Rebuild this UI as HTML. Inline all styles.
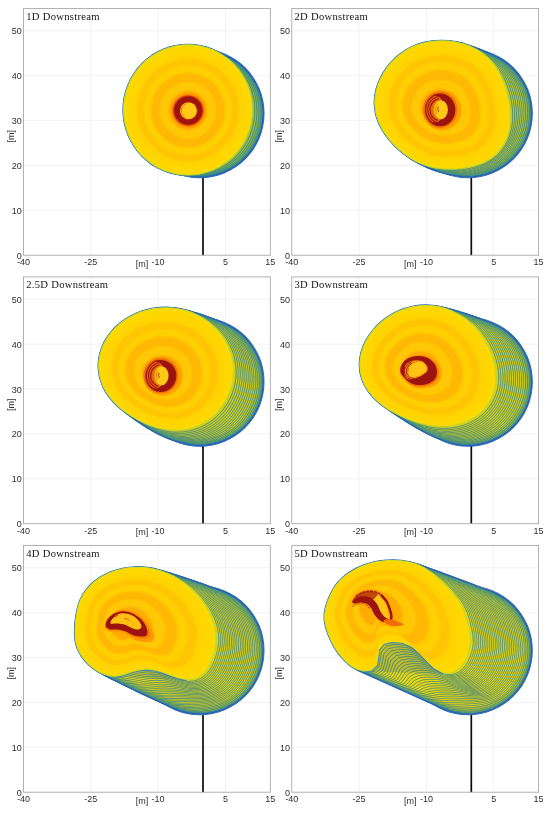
<!DOCTYPE html>
<html lang="en"><head><meta charset="utf-8"><title>Wake cross-sections downstream</title>
<style>html,body{margin:0;padding:0;background:#fff}svg{display:block}</style></head>
<body>
<svg width="550" height="813" viewBox="0 0 550 813">
<rect width="550" height="813" fill="#fff"/>
<g transform="translate(23.5 8.4)">
<path d="M67.3 0V246.8M134.6 0V246.8M201.9 0V246.8M0 201.9H246.8M0 157.1H246.8M0 112.2H246.8M0 67.3H246.8M0 22.4H246.8" stroke="#efefef" stroke-width="0.8" fill="none"/>
<path d="M179.5 246.8V169" stroke="#0a0a0a" stroke-width="1.7" fill="none"/>
<defs><path id="hp0" d="M99.5 101.5l0.3-6.4 0.9-6.3 1.6-6.2 2.1-6.1 2.7-5.8 3.3-5.5 3.7-5.2 4.3-4.8 4.7-4.3 5.1-3.9 5.5-3.3 5.7-2.7 6.1-2.2 6.2-1.6 6.3-1 6.4-0.3 6.4 0.3 6.3 1 6.2 1.6 6.1 2.2 16.7 8 5.4 3.2 5 3.7 4.6 4.2 4.2 4.6 3.7 5 3.2 5.4 2.7 5.6 2.1 5.9 1.5 6 0.9 6.2 0.3 6.2-0.3 6.2-0.9 6.2-1.5 6-2.1 5.9-2.7 5.6-3.2 5.4-3.7 5-4.2 4.6-4.6 4.2-5 3.7-5.4 3.2-5.6 2.7-5.9 2.1-6 1.5-6.2 0.9-6.2 0.3-6.2-0.3-2.4-0.3-2.4-0.3-7.2-0.8-6.3-1-6.2-1.6-6.1-2.2-5.7-2.7-5.5-3.3-5.1-3.9-4.7-4.3-4.3-4.8-3.7-5.2-3.3-5.5-2.7-5.8-2.1-6.1-1.6-6.2-0.9-6.3z"/><clipPath id="h0"><use href="#hp0"/></clipPath></defs>
<use href="#hp0" fill="#a2c03a"/>
<path d="M239.7 105l-0.3 6.2-0.9 6.2-1.5 6-2.1 5.9-2.7 5.6-3.2 5.4-3.7 5-4.2 4.6-4.6 4.2-5 3.7-5.4 3.2-5.6 2.7-5.9 2.1-6 1.5-6.2 0.9-6.2 0.3-6.2-0.3-6.2-0.9-6-1.5-5.9-2.1-5.6-2.7-5.4-3.2-5-3.7-4.6-4.2-4.2-4.6-3.7-5-3.2-5.4-2.7-5.6-2.1-5.9-1.5-6-0.9-6.2-0.3-6.2 0.3-6.2 0.9-6.2 1.5-6 2.1-5.9 2.7-5.6 3.2-5.4 3.7-5 4.2-4.6 4.6-4.2 5-3.7 5.4-3.2 5.6-2.7 5.9-2.1 6-1.5 6.2-0.9 6.2-0.3 6.2 0.3 6.2 0.9 6 1.5 5.9 2.1 5.6 2.7 5.4 3.2 5 3.7 4.6 4.2 4.2 4.6 3.7 5 3.2 5.4 2.7 5.6 2.1 5.9 1.5 6 0.9 6.2z" fill="#a2c03a" stroke="#1c5cc4" stroke-width="2.6"/>
<g fill="#a0c03e" stroke="#80b454" stroke-width="1.1" stroke-linejoin="round">
<path id="t0_0" d="M239.7 105l-0.3 6.2-0.9 6.2-1.5 6-2.1 5.9-2.7 5.6-3.2 5.4-3.7 5-4.2 4.6-4.6 4.2-5 3.7-5.4 3.2-5.6 2.7-5.9 2.1-6 1.5-6.2 0.9-6.2 0.3-6.2-0.3-6.2-0.9-6-1.5-5.9-2.1-5.6-2.7-5.4-3.2-5-3.7-4.6-4.2-4.2-4.6-3.7-5-3.2-5.4-2.7-5.6-2.1-5.9-1.5-6-0.9-6.2-0.3-6.2 0.3-6.2 0.9-6.2 1.5-6 2.1-5.9 2.7-5.6 3.2-5.4 3.7-5 4.2-4.6 4.6-4.2 5-3.7 5.4-3.2 5.6-2.7 5.9-2.1 6-1.5 6.2-0.9 6.2-0.3 6.2 0.3 6.2 0.9 6 1.5 5.9 2.1 5.6 2.7 5.4 3.2 5 3.7 4.6 4.2 4.2 4.6 3.7 5 3.2 5.4 2.7 5.6 2.1 5.9 1.5 6 0.9 6.2z"/><use href="#t0_0" fill="none" stroke="#327396" stroke-width="0.58"/>
<path id="t0_1" d="M237.6 104.3l-0.3 6.3-0.9 6.2-1.5 6-2.1 5.9-2.7 5.7-3.2 5.4-3.7 5-4.2 4.7-4.7 4.2-5 3.7-5.4 3.3-5.6 2.6-5.9 2.2-6.1 1.5-6.2 0.9-6.3 0.3-6.2-0.3-6.2-0.9-6.1-1.5-5.9-2.2-5.6-2.6-5.4-3.3-5-3.7-4.7-4.2-4.2-4.7-3.7-5-3.2-5.4-2.7-5.7-2.1-5.9-1.5-6-0.9-6.2-0.3-6.3 0.3-6.3 0.9-6.2 1.5-6 2.1-5.9 2.7-5.7 3.2-5.4 3.7-5 4.2-4.7 4.7-4.2 5-3.7 5.4-3.3 5.6-2.6 5.9-2.2 6.1-1.5 6.2-0.9 6.2-0.3 6.3 0.3 6.2 0.9 6.1 1.5 5.9 2.2 5.6 2.6 5.4 3.3 5 3.7 4.7 4.2 4.2 4.7 3.7 5 3.2 5.4 2.7 5.7 2.1 5.9 1.5 6 0.9 6.2z"/><use href="#t0_1" fill="none" stroke="#327396" stroke-width="0.58"/>
<path id="t0_2" d="M235.5 103.6l-0.3 6.3-0.9 6.2-1.5 6.1-2.1 6-2.7 5.7-3.2 5.4-3.8 5.1-4.2 4.6-4.6 4.3-5.1 3.8-5.4 3.2-5.7 2.7-5.9 2.2-6.1 1.5-6.2 0.9-6.3 0.3-6.3-0.3-6.2-0.9-6.2-1.5-5.9-2.2-5.7-2.7-5.4-3.2-5-3.8-4.7-4.3-4.2-4.6-3.7-5.1-3.2-5.4-2.7-5.7-2.1-6-1.5-6.1-1-6.2-0.3-6.3 0.3-6.3 1-6.2 1.5-6.1 2.1-6 2.7-5.7 3.2-5.4 3.7-5.1 4.2-4.6 4.7-4.3 5-3.8 5.4-3.2 5.7-2.7 5.9-2.2 6.2-1.5 6.2-0.9 6.3-0.3 6.3 0.3 6.2 0.9 6.1 1.5 5.9 2.2 5.7 2.7 5.4 3.2 5.1 3.8 4.6 4.3 4.2 4.6 3.8 5.1 3.2 5.4 2.7 5.7 2.1 6 1.5 6.1 0.9 6.2z"/><use href="#t0_2" fill="none" stroke="#327396" stroke-width="0.58"/>
<path id="t0_3" d="M233.5 102.9l-0.4 6.3-0.9 6.3-1.5 6.1-2.1 6-2.7 5.7-3.2 5.5-3.8 5.1-4.2 4.7-4.7 4.3-5.1 3.8-5.4 3.3-5.7 2.7-5.9 2.1-6.2 1.6-6.3 0.9-6.3 0.4-6.3-0.4-6.3-0.9-6.1-1.6-6-2.1-5.7-2.7-5.4-3.3-5.1-3.8-4.6-4.3-4.3-4.7-3.7-5.1-3.3-5.5-2.6-5.7-2.2-6-1.5-6.1-0.9-6.3-0.3-6.3 0.3-6.3 0.9-6.3 1.5-6.1 2.2-6 2.6-5.7 3.3-5.5 3.7-5.1 4.3-4.7 4.6-4.3 5.1-3.8 5.4-3.3 5.7-2.7 6-2.1 6.1-1.6 6.3-0.9 6.3-0.4 6.3 0.4 6.3 0.9 6.2 1.6 5.9 2.1 5.7 2.7 5.4 3.3 5.1 3.8 4.7 4.3 4.2 4.7 3.8 5.1 3.2 5.5 2.7 5.7 2.1 6 1.5 6.1 0.9 6.3z"/><use href="#t0_3" fill="none" stroke="#327396" stroke-width="0.58"/>
<path id="t0_4" d="M231.4 102.2l-0.3 6.4-1 6.3-1.5 6.1-2.1 6-2.7 5.8-3.2 5.5-3.8 5.1-4.2 4.8-4.7 4.3-5.1 3.8-5.5 3.3-5.7 2.8-6 2.1-6.2 1.6-6.3 1-6.3 0.3-6.4-0.3-6.3-1-6.2-1.6-6-2.1-5.7-2.8-5.4-3.3-5.1-3.8-4.7-4.3-4.3-4.8-3.7-5.1-3.3-5.5-2.7-5.8-2.1-6-1.5-6.1-0.9-6.3-0.4-6.4 0.4-6.4 0.9-6.3 1.5-6.1 2.1-6 2.7-5.8 3.3-5.5 3.7-5.1 4.3-4.8 4.7-4.3 5.1-3.8 5.4-3.3 5.7-2.8 6-2.1 6.2-1.6 6.3-1 6.4-0.3 6.3 0.3 6.3 1 6.2 1.6 6 2.1 5.7 2.8 5.5 3.3 5.1 3.8 4.7 4.3 4.2 4.8 3.8 5.1 3.2 5.5 2.7 5.8 2.1 6 1.5 6.1 1 6.3z"/><use href="#t0_4" fill="none" stroke="#327396" stroke-width="0.58"/>
</g>
<g clip-path="url(#h0)" fill="none" stroke-linejoin="round"><use href="#hp0" stroke="#2f8f86" stroke-width="13" opacity="0.22"/><use href="#hp0" stroke="#2c8a8c" stroke-width="7" opacity="0.3"/><use href="#hp0" stroke="#2a7aa0" stroke-width="3.2" opacity="0.45"/></g>
<use href="#hp0" fill="none" stroke="#2060c4" stroke-width="1.25" stroke-linejoin="round"/>
<defs><path id="s0" d="M229.3 101.5l-0.3 6.4-0.9 6.3-1.6 6.2-2.1 6.1-2.7 5.8-3.3 5.5-3.7 5.2-4.3 4.8-4.7 4.3-5.1 3.8-5.5 3.4-5.8 2.8-6 2.1-6.2 1.6-6.3 1-6.4 0.3-6.4-0.3-6.3-1-6.2-1.6-6-2.1-5.8-2.8-5.5-3.4-5.1-3.8-4.7-4.3-4.3-4.8-3.7-5.2-3.3-5.5-2.7-5.8-2.1-6.1-1.6-6.2-0.9-6.3-0.3-6.4 0.3-6.4 0.9-6.3 1.6-6.2 2.1-6.1 2.7-5.8 3.3-5.5 3.7-5.2 4.3-4.8 4.7-4.3 5.1-3.8 5.5-3.4 5.8-2.8 6-2.1 6.2-1.6 6.3-1 6.4-0.3 6.4 0.3 6.3 1 6.2 1.6 6 2.1 5.8 2.8 5.5 3.4 5.1 3.8 4.7 4.3 4.3 4.8 3.7 5.2 3.3 5.5 2.7 5.8 2.1 6.1 1.6 6.2 0.9 6.3z"/><clipPath id="c0"><use href="#s0"/></clipPath></defs>
<use href="#s0" fill="#b0d03c"/>
<g clip-path="url(#c0)">
<use href="#s0" transform="translate(0 0) scale(1.000)" fill="#c4d628"/>
<use href="#s0" transform="translate(2.4 1.5) scale(0.986)" fill="#f3db09"/>
<use href="#s0" transform="translate(4.7 2.9) scale(0.971)" fill="#ffd902"/>
<use href="#s0" transform="translate(7.1 4.4) scale(0.957)" fill="#ffd802"/>
<use href="#s0" transform="translate(9.4 5.8) scale(0.943)" fill="#ffd702"/>
<use href="#s0" transform="translate(11.8 7.3) scale(0.929)" fill="#ffd602"/>
<use href="#s0" transform="translate(16.5 10.2) scale(0.900)" fill="#ffd502"/>
<use href="#s0" transform="translate(23.5 14.6) scale(0.857)" fill="#ffd402"/>
<use href="#s0" transform="translate(28.2 17.5) scale(0.829)" fill="#ffd302"/>
<use href="#s0" transform="translate(32.9 20.4) scale(0.800)" fill="#ffd002"/>
<use href="#s0" transform="translate(35.3 21.9) scale(0.786)" fill="#ffca03"/>
<use href="#s0" transform="translate(37.6 23.4) scale(0.771)" fill="#ffc603"/>
<use href="#s0" transform="translate(40 24.8) scale(0.757)" fill="#ffc503"/>
<use href="#s0" transform="translate(49.4 30.7) scale(0.700)" fill="#ffc703"/>
<use href="#s0" transform="translate(51.8 32.1) scale(0.686)" fill="#ffcb04"/>
<use href="#s0" transform="translate(54.1 33.6) scale(0.671)" fill="#ffce04"/>
<use href="#s0" transform="translate(56.5 35) scale(0.657)" fill="#ffd004"/>
<use href="#s0" transform="translate(61.2 38) scale(0.629)" fill="#ffcf04"/>
<use href="#s0" transform="translate(68.2 42.3) scale(0.586)" fill="#ffc804"/>
<use href="#s0" transform="translate(70.6 43.8) scale(0.571)" fill="#ffc203"/>
<use href="#s0" transform="translate(72.9 45.3) scale(0.557)" fill="#ffbb03"/>
<use href="#s0" transform="translate(75.3 46.7) scale(0.543)" fill="#ffb803"/>
<use href="#s0" transform="translate(89.4 55.5) scale(0.457)" fill="#ffb903"/>
<use href="#s0" transform="translate(91.8 56.9) scale(0.443)" fill="#ffbf04"/>
<use href="#s0" transform="translate(94.1 58.4) scale(0.429)" fill="#ffc505"/>
<use href="#s0" transform="translate(96.5 59.9) scale(0.414)" fill="#ffc906"/>
<use href="#s0" transform="translate(101.2 62.8) scale(0.386)" fill="#ffc806"/>
<use href="#s0" transform="translate(108.2 67.2) scale(0.343)" fill="#ffc706"/>
<use href="#s0" transform="translate(112.9 70.1) scale(0.314)" fill="#ffc305"/>
<use href="#s0" transform="translate(115.3 71.5) scale(0.300)" fill="#ffb704"/>
<use href="#s0" transform="translate(117.6 73) scale(0.286)" fill="#ffac02"/>
</g>
<circle cx="164.7" cy="102.2" r="17.6" fill="#ff9a00"/>
<circle cx="164.7" cy="102.2" r="15.9" fill="#f06a00"/>
<circle cx="164.7" cy="102.2" r="14.8" fill="#c8280c"/>
<circle cx="164.7" cy="102.2" r="13.8" fill="#9c1410"/>
<circle cx="165" cy="102.4" r="9.6" fill="#b8200e"/>
<circle cx="165" cy="102.4" r="8.4" fill="#ffc814"/>
<path d="M161.4 108.6C161.2 108.5 160.5 108 160.1 107.7C159.7 107.3 159.3 106.9 159 106.4C158.7 106 158.5 105.5 158.3 105C158.1 104.5 157.9 103.9 157.9 103.4C157.8 102.9 157.8 102.3 157.8 101.8C157.9 101.2 158 100.7 158.2 100.2C158.3 99.7 158.6 99.2 158.8 98.7C159.1 98.2 159.4 97.8 159.8 97.4C160.2 97 160.6 96.7 161.1 96.4C161.5 96.1 162.3 95.8 162.5 95.6" fill="none" stroke="#e8780a" stroke-width="1"/>
<rect x="0" y="0" width="246.8" height="246.8" fill="none" stroke="#a4a4a4" stroke-width="0.85"/>
</g>
<text x="26.2" y="19.8" font-family="'Liberation Serif',serif" font-size="10.6" letter-spacing="0.3" fill="#141414">1D Downstream</text>
<g font-family="'Liberation Sans',sans-serif" font-size="9" fill="#2e2e2e">
<text x="21.7" y="258.6" text-anchor="end">0</text>
<text x="21.7" y="213.7" text-anchor="end">10</text>
<text x="21.7" y="168.9" text-anchor="end">20</text>
<text x="21.7" y="124" text-anchor="end">30</text>
<text x="21.7" y="79.1" text-anchor="end">40</text>
<text x="21.7" y="34.2" text-anchor="end">50</text>
<text x="23.5" y="265.4" text-anchor="middle">-40</text>
<text x="90.8" y="265.4" text-anchor="middle">-25</text>
<text x="158.1" y="265.4" text-anchor="middle">-10</text>
<text x="225.4" y="265.4" text-anchor="middle">5</text>
<text x="270.3" y="265.4" text-anchor="middle">15</text>
<text x="142" y="266.8" text-anchor="middle">[m]</text>
<text transform="translate(13.9 136.2) rotate(-90)" text-anchor="middle">[m]</text>
</g>
<g transform="translate(291.8 8.4)">
<path d="M67.3 0V246.8M134.6 0V246.8M201.9 0V246.8M0 201.9H246.8M0 157.1H246.8M0 112.2H246.8M0 67.3H246.8M0 22.4H246.8" stroke="#efefef" stroke-width="0.8" fill="none"/>
<path d="M179.5 246.8V169" stroke="#0a0a0a" stroke-width="1.7" fill="none"/>
<defs><path id="hp1" d="M82.4 94.7l0.4-6.4 1.1-6.3 1.8-6 2.5-5.9 3-5.7 3.5-5.2 4-5 4.5-4.6 4.8-4.1 5.3-3.6 5.5-3.1 5.9-2.6 6.1-1.9 6.2-1.4 6.3-0.8 6.4-0.2 7.2 0.3 7.3 1 7 1.6 2.2 0.8 6.8 2.3 2 0.7 2 0.8 2.1 0.7 2 0.8 2.1 0.9 2 0.8 2 0.9 2 0.9 2.1 1 7.6 3.6 5.4 3.2 5 3.7 4.6 4.2 4.2 4.6 3.7 5 3.2 5.4 2.7 5.6 2.1 5.9 1.5 6 0.9 6.2 0.3 6.2-0.3 6.2-0.9 6.2-1.5 6-2.1 5.9-2.7 5.6-3.2 5.4-3.7 5-4.2 4.6-4.6 4.2-5 3.7-5.4 3.2-5.6 2.7-5.9 2.1-6 1.5-6.2 0.9-6.2 0.3-6.2-0.3-2.2-0.3-6.2-0.9-2.1-0.4-2-0.4-6.2-1.6-2-0.5-1.9-0.6-1.9-0.6-6.2-2.2-1.9-0.7-1.8-0.8-6-2.8-1.9-0.9-1.8-0.9-1.8-1-5.9-3.4-5.6-4-5.3-4.4-5-4.7-4.6-5.1-4.2-5.4-3.7-5.8-3.1-6.1-2.3-6.5-1.4-6.7z"/><clipPath id="h1"><use href="#hp1"/></clipPath></defs>
<use href="#hp1" fill="#a2c03a"/>
<path d="M239.7 105l-0.3 6.2-0.9 6.2-1.5 6-2.1 5.9-2.7 5.6-3.2 5.4-3.7 5-4.2 4.6-4.6 4.2-5 3.7-5.4 3.2-5.6 2.7-5.9 2.1-6 1.5-6.2 0.9-6.2 0.3-6.2-0.3-6.2-0.9-6-1.5-5.9-2.1-5.6-2.7-5.4-3.2-5-3.7-4.6-4.2-4.2-4.6-3.7-5-3.2-5.4-2.7-5.6-2.1-5.9-1.5-6-0.9-6.2-0.3-6.2 0.3-6.2 0.9-6.2 1.5-6 2.1-5.9 2.7-5.6 3.2-5.4 3.7-5 4.2-4.6 4.6-4.2 5-3.7 5.4-3.2 5.6-2.7 5.9-2.1 6-1.5 6.2-0.9 6.2-0.3 6.2 0.3 6.2 0.9 6 1.5 5.9 2.1 5.6 2.7 5.4 3.2 5 3.7 4.6 4.2 4.2 4.6 3.7 5 3.2 5.4 2.7 5.6 2.1 5.9 1.5 6 0.9 6.2z" fill="#a2c03a" stroke="#1c5cc4" stroke-width="2.6"/>
<g fill="#c4ca27" stroke="#9bbf40" stroke-width="1.1" stroke-linejoin="round">
<path id="t1_0" d="M239.7 105l-0.3 6.2-0.9 6.2-1.5 6-2.1 5.9-2.7 5.6-3.2 5.4-3.7 5-4.2 4.6-4.6 4.2-5 3.7-5.4 3.2-5.6 2.7-5.9 2.1-6 1.5-6.2 0.9-6.2 0.3-6.2-0.3-6.2-0.9-6-1.5-5.9-2.1-5.6-2.7-5.4-3.2-5-3.7-4.6-4.2-4.2-4.6-3.7-5-3.2-5.4-2.7-5.6-2.1-5.9-1.5-6-0.9-6.2-0.3-6.2 0.3-6.2 0.9-6.2 1.5-6 2.1-5.9 2.7-5.6 3.2-5.4 3.7-5 4.2-4.6 4.6-4.2 5-3.7 5.4-3.2 5.6-2.7 5.9-2.1 6-1.5 6.2-0.9 6.2-0.3 6.2 0.3 6.2 0.9 6 1.5 5.9 2.1 5.6 2.7 5.4 3.2 5 3.7 4.6 4.2 4.2 4.6 3.7 5 3.2 5.4 2.7 5.6 2.1 5.9 1.5 6 0.9 6.2z"/><use href="#t1_0" fill="none" stroke="#327396" stroke-width="0.58"/>
<path id="t1_1" d="M237.8 104.5l-0.3 6.2-0.9 6.2-1.5 6.1-2.1 5.8-2.7 5.7-3.2 5.4-3.7 5-4.2 4.6-4.7 4.2-5 3.8-5.4 3.2-5.6 2.7-5.9 2.1-6.1 1.5-6.2 0.9-6.2 0.3-6.3-0.3-6.2-0.9-6-1.6-5.9-2.1-5.7-2.6-5.4-3.3-5-3.7-4.6-4.2-4.2-4.7-3.8-5-3.2-5.4-2.7-5.6-2.1-5.9-1.5-6.1-0.9-6.2-0.3-6.3 0.3-6.2 0.9-6.2 1.5-6.1 2.1-5.9 2.7-5.6 3.2-5.4 3.7-5 4.2-4.7 4.7-4.2 5-3.7 5.4-3.3 5.6-2.6 5.9-2.1 6.1-1.6 6.2-0.9 6.2-0.3 6.3 0.3 6.2 0.9 6.1 1.6 5.9 2.1 5.6 2.7 5.4 3.2 5 3.7 4.7 4.2 4.2 4.7 3.7 5 3.2 5.4 2.7 5.7 2.1 5.9 1.5 6.1 0.9 6.2z"/><use href="#t1_1" fill="none" stroke="#327396" stroke-width="0.58"/>
<path id="t1_2" d="M235.9 104.1l-0.3 6.2-0.9 6.2-1.5 6.1-2.1 5.9-2.7 5.7-3.2 5.4-3.7 5-4.2 4.6-4.7 4.2-5 3.8-5.4 3.2-5.7 2.6-5.9 2.1-6.1 1.5-6.2 0.9-6.2 0.3-6.3-0.3-6.3-0.9-6.1-1.5-5.9-2.2-5.7-2.7-5.4-3.2-5.1-3.8-4.6-4.2-4.3-4.7-3.7-5-3.3-5.4-2.7-5.7-2.1-5.9-1.6-6.2-0.9-6.2-0.3-6.3 0.3-6.3 0.9-6.2 1.5-6.1 2.2-5.9 2.6-5.7 3.3-5.4 3.7-5 4.2-4.7 4.7-4.2 5-3.8 5.4-3.2 5.7-2.7 5.9-2.1 6.1-1.5 6.2-1 6.3-0.3 6.3 0.3 6.3 1 6.1 1.5 5.9 2.1 5.7 2.7 5.5 3.3 5 3.8 4.7 4.3 4.2 4.7 3.7 5.1 3.2 5.4 2.7 5.7 2.1 6 1.5 6.1 0.9 6.3z"/><use href="#t1_2" fill="none" stroke="#327396" stroke-width="0.58"/>
<path id="t1_3" d="M234 103.9l-0.3 6.2-0.9 6.2-1.5 6.1-2.1 5.9-2.6 5.7-3.3 5.4-3.7 5-4.2 4.6-4.7 4.2-5.1 3.7-5.4 3.1-5.6 2.6-5.9 2.1-6.1 1.5-6.2 0.9-6.3 0.3-6.3-0.3-6.3-0.9-6.2-1.6-5.9-2.1-5.8-2.7-5.4-3.3-5.1-3.8-4.7-4.2-4.3-4.7-3.8-5.1-3.3-5.4-2.7-5.7-2.2-6-1.6-6.1-1-6.3-0.3-6.4 0.3-6.3 1-6.2 1.5-6.1 2.1-6 2.7-5.6 3.3-5.5 3.8-5 4.2-4.7 4.7-4.2 5-3.8 5.4-3.3 5.7-2.7 6-2.1 6.1-1.5 6.2-0.9 6.3-0.3 6.4 0.3 6.3 0.9 6.2 1.6 6 2.1 5.8 2.8 5.4 3.3 5.1 3.8 4.7 4.3 4.2 4.8 3.7 5.2 3.2 5.5 2.7 5.8 2.1 6 1.5 6.2 0.9 6.3z"/><use href="#t1_3" fill="none" stroke="#327396" stroke-width="0.58"/>
<path id="t1_4" d="M232.2 103.9l-0.3 6.2-0.9 6.2-1.5 6.1-2.1 5.8-2.7 5.7-3.2 5.4-3.7 4.9-4.3 4.6-4.7 4.1-5.1 3.7-5.4 3.1-5.7 2.5-5.9 2-6 1.5-6.2 0.9-6.3 0.3-6.4-0.3-6.3-1-6.2-1.5-6-2.1-5.8-2.8-5.5-3.3-5.1-3.8-4.8-4.3-4.3-4.7-3.8-5.1-3.4-5.4-2.8-5.7-2.3-6-1.6-6.2-1-6.3-0.3-6.4 0.3-6.3 1-6.3 1.5-6.1 2.2-5.9 2.7-5.8 3.3-5.4 3.8-5 4.2-4.7 4.7-4.3 5.1-3.7 5.4-3.3 5.7-2.7 6-2.1 6.1-1.5 6.3-1 6.3-0.3 6.5 0.4 6.4 0.9 6.2 1.6 6.1 2.1 5.8 2.8 5.5 3.4 5.1 3.9 4.7 4.4 4.3 4.8 3.7 5.3 3.2 5.6 2.6 5.9 2.1 6.1 1.5 6.2 1 6.4z"/><use href="#t1_4" fill="none" stroke="#327396" stroke-width="0.58"/>
<path id="t1_5" d="M230.3 104l-0.3 6.2-0.9 6.2-1.5 6-2 5.9-2.7 5.6-3.2 5.3-3.8 5-4.2 4.5-4.7 4.1-5.1 3.5-5.5 3-5.6 2.5-5.9 1.9-6.1 1.4-6.1 0.9-6.3 0.3-6.4-0.3-6.4-1-6.2-1.5-6.1-2.1-5.8-2.8-5.6-3.3-5.2-3.8-4.8-4.3-4.3-4.8-4-5.1-3.4-5.4-2.9-5.7-2.3-6.1-1.7-6.2-1-6.3-0.4-6.5 0.3-6.3 1-6.3 1.6-6.1 2.2-6 2.7-5.7 3.3-5.4 3.8-5.1 4.3-4.7 4.7-4.2 5.1-3.8 5.5-3.2 5.7-2.7 6-2.1 6.1-1.5 6.3-1 6.4-0.3 6.5 0.4 6.5 0.9 6.3 1.6 6.1 2.2 5.9 2.8 5.6 3.4 5.2 4 4.7 4.5 4.2 5 3.7 5.3 3.2 5.7 2.7 6 2 6.2 1.5 6.3 1 6.5z"/><use href="#t1_5" fill="none" stroke="#327396" stroke-width="0.58"/>
<path id="t1_6" d="M228.4 104.4l-0.3 6.1-0.8 6.1-1.5 6-2.1 5.9-2.6 5.6-3.2 5.2-3.8 4.9-4.3 4.5-4.7 3.9-5.1 3.4-5.4 3-5.7 2.3-5.9 1.9-6 1.3-6.1 0.8-6.2 0.3-6.5-0.3-6.4-0.9-6.3-1.5-6.2-2.2-5.9-2.8-5.5-3.3-5.3-3.8-4.8-4.4-4.5-4.7-4-5.1-3.5-5.5-3-5.7-2.4-6.1-1.8-6.2-1.1-6.4-0.4-6.5 0.4-6.4 1-6.2 1.6-6.2 2.2-5.9 2.8-5.8 3.3-5.4 3.8-5 4.3-4.7 4.8-4.3 5.1-3.7 5.5-3.3 5.7-2.6 6-2.1 6.2-1.5 6.3-0.9 6.4-0.3 6.6 0.3 6.5 0.9 6.5 1.6 6.2 2.2 6 2.9 5.6 3.5 5.3 4 4.7 4.7 4.2 5 3.7 5.5 3.2 5.8 2.6 6.1 2.1 6.3 1.5 6.5 0.9 6.5z"/><use href="#t1_6" fill="none" stroke="#327396" stroke-width="0.58"/>
<path id="t1_7" d="M226.6 104.9l-0.3 6.1-0.9 6-1.4 6-2 5.8-2.7 5.5-3.2 5.2-3.8 4.8-4.2 4.4-4.8 3.8-5.1 3.3-5.4 2.8-5.7 2.2-5.9 1.8-5.9 1.2-6.1 0.8-6.1 0.2-6.6-0.3-6.5-0.8-6.4-1.6-6.2-2.1-5.9-2.8-5.7-3.4-5.3-3.8-4.9-4.4-4.5-4.7-4.1-5.1-3.7-5.5-3.1-5.7-2.5-6.1-1.8-6.3-1.2-6.4-0.4-6.6 0.4-6.4 1-6.2 1.6-6.2 2.3-5.9 2.8-5.7 3.4-5.5 3.8-5 4.3-4.7 4.8-4.2 5.1-3.8 5.5-3.2 5.8-2.7 6-2 6.2-1.5 6.3-0.9 6.4-0.3 6.7 0.3 6.7 1 6.5 1.6 6.4 2.2 6.1 2.9 5.7 3.6 5.3 4.2 4.7 4.7 4.3 5.2 3.6 5.6 3.2 6 2.6 6.2 2 6.4 1.5 6.6 0.9 6.6z"/><use href="#t1_7" fill="none" stroke="#327396" stroke-width="0.58"/>
<path id="t1_8" d="M224.7 105.5l-0.3 6.1-0.8 6-1.4 5.9-2 5.7-2.6 5.4-3.2 5.2-3.8 4.7-4.3 4.2-4.8 3.7-5.1 3.2-5.4 2.6-5.7 2.1-5.8 1.6-5.9 1.2-6 0.7-6.1 0.2-6.6-0.3-6.6-0.9-6.4-1.5-6.3-2.1-6-2.8-5.7-3.4-5.4-3.9-5-4.3-4.6-4.8-4.3-5.1-3.7-5.4-3.2-5.8-2.7-6.1-1.9-6.3-1.2-6.5-0.4-6.6 0.3-6.4 1-6.3 1.7-6.1 2.3-6 2.9-5.7 3.4-5.4 3.9-5 4.3-4.7 4.8-4.2 5.2-3.7 5.5-3.2 5.8-2.7 6-2 6.2-1.5 6.3-0.8 6.4-0.3 6.8 0.3 6.8 1 6.7 1.6 6.4 2.3 6.2 2.9 5.8 3.6 5.4 4.3 4.8 4.9 4.2 5.4 3.7 5.7 3.1 6.1 2.5 6.4 2 6.5 1.5 6.7 1 6.8z"/><use href="#t1_8" fill="none" stroke="#327396" stroke-width="0.58"/>
<path id="t1_9" d="M222.8 106.4l-0.2 6-0.8 5.9-1.4 5.8-2 5.6-2.6 5.4-3.2 5-3.7 4.7-4.4 4-4.8 3.6-5.1 3-5.4 2.4-5.6 1.9-5.8 1.5-5.9 1-5.9 0.7-6 0.2-6.7-0.3-6.6-0.8-6.6-1.5-6.3-2.2-6.1-2.8-5.8-3.4-5.4-3.9-5.1-4.3-4.7-4.8-4.4-5.1-3.9-5.4-3.3-5.8-2.8-6.1-2.1-6.4-1.2-6.6-0.5-6.6 0.3-6.4 1.1-6.3 1.7-6.1 2.4-6 2.9-5.6 3.4-5.4 4-5 4.3-4.7 4.8-4.1 5.2-3.8 5.6-3.1 5.8-2.6 6-2.1 6.2-1.4 6.4-0.8 6.3-0.3 7 0.3 6.9 1 6.8 1.6 6.6 2.3 6.3 3 5.9 3.7 5.4 4.4 4.9 5.1 4.2 5.5 3.6 5.9 3.1 6.3 2.5 6.5 2 6.7 1.5 6.8 0.9 6.9z"/><use href="#t1_9" fill="none" stroke="#327396" stroke-width="0.58"/>
<path id="t1_10" d="M221 107.5l-0.3 5.8-0.8 5.8-1.3 5.8-1.9 5.5-2.6 5.3-3.2 4.9-3.8 4.5-4.3 3.9-4.8 3.4-5.2 2.8-5.4 2.2-5.6 1.7-5.7 1.3-5.8 1-5.8 0.5-5.9 0.2-6.8-0.3-6.7-0.8-6.6-1.5-6.4-2.1-6.2-2.8-5.9-3.4-5.5-3.9-5.2-4.4-4.8-4.8-4.5-5.1-4-5.4-3.6-5.8-2.9-6.1-2.2-6.4-1.3-6.6-0.5-6.8 0.3-6.4 1.1-6.2 1.8-6.2 2.4-5.9 3-5.6 3.4-5.4 4-5 4.4-4.6 4.9-4.1 5.2-3.7 5.5-3.1 5.8-2.6 6.1-2 6.2-1.4 6.4-0.8 6.3-0.3 7.1 0.4 7.1 1 6.9 1.6 6.8 2.3 6.4 3 6 3.8 5.5 4.6 4.9 5.2 4.2 5.7 3.6 6.1 3 6.5 2.5 6.7 1.9 6.8 1.5 7 0.9 7z"/><use href="#t1_10" fill="none" stroke="#327396" stroke-width="0.58"/>
</g>
<g clip-path="url(#h1)" fill="none" stroke-linejoin="round"><use href="#hp1" stroke="#2f8f86" stroke-width="13" opacity="0.22"/><use href="#hp1" stroke="#2c8a8c" stroke-width="7" opacity="0.3"/><use href="#hp1" stroke="#2a7aa0" stroke-width="3.2" opacity="0.45"/></g>
<use href="#hp1" fill="none" stroke="#2060c4" stroke-width="1.25" stroke-linejoin="round"/>
<defs><path id="s1" d="M219.1 108.7l-0.2 5.7-0.8 5.7-1.3 5.7-1.8 5.4-2.6 5.2-3.2 4.8-3.7 4.3-4.4 3.8-4.8 3.1-5.2 2.6-5.4 2-5.6 1.5-5.6 1.1-5.7 0.8-5.8 0.5-5.7 0.1-6.9-0.2-6.8-0.8-6.7-1.5-6.5-2.1-6.3-2.8-5.9-3.4-5.6-4-5.3-4.4-5-4.7-4.6-5.1-4.2-5.4-3.7-5.8-3.1-6.1-2.3-6.5-1.4-6.7-0.6-6.8 0.4-6.4 1.1-6.2 1.8-6.2 2.5-5.8 3-5.6 3.5-5.3 4-5 4.5-4.6 4.8-4.1 5.3-3.6 5.5-3.2 5.9-2.5 6-1.9 6.3-1.4 6.3-0.8 6.4-0.2 7.2 0.3 7.2 1 7.1 1.7 6.9 2.3 6.6 3.1 6.1 3.9 5.6 4.7 4.9 5.4 4.2 5.9 3.6 6.3 2.9 6.7 2.5 6.8 1.9 7.1 1.5 7.1 0.9 7.2z"/><clipPath id="c1"><use href="#s1"/></clipPath></defs>
<use href="#s1" fill="#b0d03c"/>
<g clip-path="url(#c1)">
<use href="#s1" transform="translate(0 0) scale(1.000)" fill="#c4d628"/>
<use href="#s1" transform="translate(2.1 1.4) scale(0.986)" fill="#f3db09"/>
<use href="#s1" transform="translate(4.2 2.9) scale(0.971)" fill="#ffd902"/>
<use href="#s1" transform="translate(6.3 4.3) scale(0.957)" fill="#ffd802"/>
<use href="#s1" transform="translate(8.5 5.8) scale(0.943)" fill="#ffd702"/>
<use href="#s1" transform="translate(10.6 7.2) scale(0.929)" fill="#ffd602"/>
<use href="#s1" transform="translate(14.8 10.1) scale(0.900)" fill="#ffd502"/>
<use href="#s1" transform="translate(21.1 14.4) scale(0.857)" fill="#ffd402"/>
<use href="#s1" transform="translate(25.4 17.3) scale(0.829)" fill="#ffd302"/>
<use href="#s1" transform="translate(29.6 20.2) scale(0.800)" fill="#ffd002"/>
<use href="#s1" transform="translate(31.7 21.7) scale(0.786)" fill="#ffca03"/>
<use href="#s1" transform="translate(33.8 23.1) scale(0.771)" fill="#ffc603"/>
<use href="#s1" transform="translate(35.9 24.6) scale(0.757)" fill="#ffc503"/>
<use href="#s1" transform="translate(44.4 30.3) scale(0.700)" fill="#ffc703"/>
<use href="#s1" transform="translate(46.5 31.8) scale(0.686)" fill="#ffcb04"/>
<use href="#s1" transform="translate(48.6 33.2) scale(0.671)" fill="#ffce04"/>
<use href="#s1" transform="translate(50.7 34.7) scale(0.657)" fill="#ffd004"/>
<use href="#s1" transform="translate(55 37.6) scale(0.629)" fill="#ffcf04"/>
<use href="#s1" transform="translate(61.3 41.9) scale(0.586)" fill="#ffc804"/>
<use href="#s1" transform="translate(63.4 43.3) scale(0.571)" fill="#ffc203"/>
<use href="#s1" transform="translate(65.5 44.8) scale(0.557)" fill="#ffbb03"/>
<use href="#s1" transform="translate(67.7 46.2) scale(0.543)" fill="#ffb803"/>
<use href="#s1" transform="translate(80.3 54.9) scale(0.457)" fill="#ffb903"/>
<use href="#s1" transform="translate(82.5 56.3) scale(0.443)" fill="#ffbf04"/>
<use href="#s1" transform="translate(84.6 57.8) scale(0.429)" fill="#ffc505"/>
<use href="#s1" transform="translate(86.7 59.2) scale(0.414)" fill="#ffc906"/>
<use href="#s1" transform="translate(90.9 62.1) scale(0.386)" fill="#ffc806"/>
<use href="#s1" transform="translate(97.3 66.4) scale(0.343)" fill="#ffc706"/>
<use href="#s1" transform="translate(101.5 69.3) scale(0.314)" fill="#ffc305"/>
<use href="#s1" transform="translate(103.6 70.8) scale(0.300)" fill="#ffb704"/>
<use href="#s1" transform="translate(105.7 72.2) scale(0.286)" fill="#ffac02"/>
</g>
<g transform="translate(148 101.1)">
<ellipse cx="2.2" cy="1" rx="19.4" ry="19.8" fill="#ffa200"/>
<ellipse cx="0.3" cy="0.2" rx="17.2" ry="18.3" fill="#f07206"/>
<ellipse cx="0.4" cy="0.4" rx="15.1" ry="16.4" fill="#9c1410"/>
</g>
<ellipse cx="143" cy="100.6" rx="9.5" ry="13.5" fill="#e8680a"/>
<path d="M144.8 116.5C144.1 116.2 142.2 115.5 141 114.8C139.9 114.1 138.8 113.1 137.9 112.1C137 111.1 136.1 109.9 135.5 108.6C134.9 107.4 134.4 106 134.1 104.6C133.9 103.2 133.7 101.8 133.8 100.3C133.9 98.9 134.2 97.5 134.6 96.1C135.1 94.8 135.7 93.5 136.5 92.3C137.2 91.2 138.2 90.1 139.2 89.2C140.2 88.3 141.4 87.5 142.7 86.9C143.9 86.4 145.9 86 146.5 85.8" fill="none" stroke="#9c1410" stroke-width="1.15"/>
<path d="M145.3 114.2C144.8 114 143.1 113.4 142.2 112.8C141.2 112.2 140.3 111.4 139.5 110.5C138.7 109.6 138 108.6 137.5 107.5C136.9 106.5 136.5 105.3 136.3 104.1C136 102.9 136 101.7 136 100.5C136.1 99.3 136.3 98 136.7 96.9C137.1 95.8 137.6 94.6 138.3 93.7C138.9 92.7 139.7 91.7 140.6 91C141.5 90.2 142.5 89.6 143.5 89.1C144.6 88.6 146.3 88.2 146.8 88.1" fill="none" stroke="#9c1410" stroke-width="1.15"/>
<path d="M145.9 111.9C145.5 111.8 144.1 111.3 143.3 110.8C142.5 110.3 141.7 109.6 141.1 108.9C140.4 108.2 139.8 107.3 139.4 106.5C139 105.6 138.6 104.6 138.4 103.6C138.2 102.7 138.2 101.6 138.2 100.6C138.3 99.6 138.5 98.6 138.8 97.7C139.1 96.7 139.5 95.8 140.1 95C140.6 94.2 141.3 93.4 142 92.8C142.7 92.2 143.6 91.6 144.4 91.2C145.3 90.8 146.7 90.5 147.2 90.4" fill="none" stroke="#9c1410" stroke-width="1.15"/>
<ellipse cx="149" cy="101.3" rx="7.1" ry="9.5" fill="#ffc814"/>
<path d="M144.9 105.2C144.8 105 144.6 104.6 144.5 104.3C144.3 104.1 144.2 103.8 144.1 103.5C144 103.1 143.9 102.8 143.9 102.5C143.8 102.2 143.8 101.8 143.8 101.5C143.8 101.2 143.8 100.8 143.8 100.5C143.9 100.2 143.9 99.9 144 99.5C144.1 99.2 144.2 98.9 144.3 98.6C144.4 98.3 144.6 98 144.7 97.8C144.9 97.5 145 97.3 145.2 97C145.4 96.8 145.7 96.5 145.8 96.4" fill="none" stroke="#e07008" stroke-width="1"/>
<path d="M146.6 98.5q-1.6 2.4 0.4 5" fill="none" stroke="#9c1410" stroke-width="0.8"/>
<rect x="0" y="0" width="246.8" height="246.8" fill="none" stroke="#a4a4a4" stroke-width="0.85"/>
</g>
<text x="294.5" y="19.8" font-family="'Liberation Serif',serif" font-size="10.6" letter-spacing="0.3" fill="#141414">2D Downstream</text>
<g font-family="'Liberation Sans',sans-serif" font-size="9" fill="#2e2e2e">
<text x="290" y="258.6" text-anchor="end">0</text>
<text x="290" y="213.7" text-anchor="end">10</text>
<text x="290" y="168.9" text-anchor="end">20</text>
<text x="290" y="124" text-anchor="end">30</text>
<text x="290" y="79.1" text-anchor="end">40</text>
<text x="290" y="34.2" text-anchor="end">50</text>
<text x="291.8" y="265.4" text-anchor="middle">-40</text>
<text x="359.1" y="265.4" text-anchor="middle">-25</text>
<text x="426.4" y="265.4" text-anchor="middle">-10</text>
<text x="493.7" y="265.4" text-anchor="middle">5</text>
<text x="538.6" y="265.4" text-anchor="middle">15</text>
<text x="410.3" y="266.8" text-anchor="middle">[m]</text>
<text transform="translate(282.2 136.2) rotate(-90)" text-anchor="middle">[m]</text>
</g>
<g transform="translate(23.5 276.9)">
<path d="M67.3 0V246.8M134.6 0V246.8M201.9 0V246.8M0 201.9H246.8M0 157.1H246.8M0 112.2H246.8M0 67.3H246.8M0 22.4H246.8" stroke="#efefef" stroke-width="0.8" fill="none"/>
<path d="M179.5 246.8V169" stroke="#0a0a0a" stroke-width="1.7" fill="none"/>
<defs><path id="hp2" d="M74.6 88.9l0.4-6.2 1.2-6.1 1.9-5.9 2.5-5.7 3.2-5.3 3.8-5 4.2-4.6 4.6-4.1 5-3.6 5.4-3.2 5.5-2.8 5.8-2.2 6-1.7 6.1-1.3 6.2-0.7 6.2-0.2 6.4 0.3 6.5 0.9 6.3 1.4 2.4 0.7 2.4 0.6 2.4 0.7 2.3 0.7 2.3 0.7 2.2 0.7 2.2 0.7 2.2 0.8 6 2.1 2.2 0.8 2.1 0.8 2.1 0.8 2 0.8 2 0.8 2 0.9 1.9 0.8 5.6 2.7 5.4 3.2 5 3.7 4.6 4.2 4.2 4.6 3.7 5 3.2 5.4 2.7 5.6 2.1 5.9 1.5 6 0.9 6.2 0.3 6.2-0.3 6.2-0.9 6.2-1.5 6-2.1 5.9-2.7 5.6-3.2 5.4-3.7 5-4.2 4.6-4.6 4.2-5 3.7-5.4 3.2-5.6 2.7-5.9 2.1-6 1.5-6.2 0.9-6.2 0.3-6.2-0.3-6.2-0.9-1.9-0.5-6.1-1.5-1.9-0.5-1.9-0.6-6-2.2-1.9-0.6-1.9-0.8-1.8-0.9-5.9-2.7-1.8-0.9-1.9-1-5.6-3.3-1.9-1.1-1.8-1.1-7.4-4.9-1.9-1.3-9.3-6.7-1.9-1.5-5.4-4.3-5-4.8-4.5-5.2-4-5.7-3.2-6.2-2.3-6.4-1.5-6.8z"/><clipPath id="h2"><use href="#hp2"/></clipPath></defs>
<use href="#hp2" fill="#a2c03a"/>
<path d="M239.7 105l-0.3 6.2-0.9 6.2-1.5 6-2.1 5.9-2.7 5.6-3.2 5.4-3.7 5-4.2 4.6-4.6 4.2-5 3.7-5.4 3.2-5.6 2.7-5.9 2.1-6 1.5-6.2 0.9-6.2 0.3-6.2-0.3-6.2-0.9-6-1.5-5.9-2.1-5.6-2.7-5.4-3.2-5-3.7-4.6-4.2-4.2-4.6-3.7-5-3.2-5.4-2.7-5.6-2.1-5.9-1.5-6-0.9-6.2-0.3-6.2 0.3-6.2 0.9-6.2 1.5-6 2.1-5.9 2.7-5.6 3.2-5.4 3.7-5 4.2-4.6 4.6-4.2 5-3.7 5.4-3.2 5.6-2.7 5.9-2.1 6-1.5 6.2-0.9 6.2-0.3 6.2 0.3 6.2 0.9 6 1.5 5.9 2.1 5.6 2.7 5.4 3.2 5 3.7 4.6 4.2 4.2 4.6 3.7 5 3.2 5.4 2.7 5.6 2.1 5.9 1.5 6 0.9 6.2z" fill="#a2c03a" stroke="#1c5cc4" stroke-width="2.6"/>
<g fill="#d0ce1f" stroke="#a4c33a" stroke-width="1.1" stroke-linejoin="round">
<path id="t2_0" d="M239.7 105l-0.3 6.2-0.9 6.2-1.5 6-2.1 5.9-2.7 5.6-3.2 5.4-3.7 5-4.2 4.6-4.6 4.2-5 3.7-5.4 3.2-5.6 2.7-5.9 2.1-6 1.5-6.2 0.9-6.2 0.3-6.2-0.3-6.2-0.9-6-1.5-5.9-2.1-5.6-2.7-5.4-3.2-5-3.7-4.6-4.2-4.2-4.6-3.7-5-3.2-5.4-2.7-5.6-2.1-5.9-1.5-6-0.9-6.2-0.3-6.2 0.3-6.2 0.9-6.2 1.5-6 2.1-5.9 2.7-5.6 3.2-5.4 3.7-5 4.2-4.6 4.6-4.2 5-3.7 5.4-3.2 5.6-2.7 5.9-2.1 6-1.5 6.2-0.9 6.2-0.3 6.2 0.3 6.2 0.9 6 1.5 5.9 2.1 5.6 2.7 5.4 3.2 5 3.7 4.6 4.2 4.2 4.6 3.7 5 3.2 5.4 2.7 5.6 2.1 5.9 1.5 6 0.9 6.2z"/><use href="#t2_0" fill="none" stroke="#327396" stroke-width="0.58"/>
<path id="t2_1" d="M237.9 104.4l-0.3 6.2-0.9 6.2-1.5 6.1-2.1 5.8-2.7 5.7-3.2 5.3-3.7 5.1-4.2 4.6-4.6 4.2-5 3.7-5.4 3.2-5.6 2.7-5.9 2.1-6.1 1.5-6.1 1-6.3 0.3-6.2-0.3-6.2-1-6.1-1.5-5.9-2.1-5.7-2.7-5.3-3.2-5.1-3.7-4.6-4.2-4.2-4.6-3.8-5.1-3.2-5.3-2.7-5.7-2.1-5.9-1.5-6.1-1-6.2-0.3-6.2 0.3-6.3 0.9-6.1 1.6-6.1 2.1-5.9 2.7-5.6 3.2-5.4 3.7-5 4.2-4.6 4.6-4.2 5.1-3.8 5.3-3.2 5.7-2.6 5.9-2.1 6-1.6 6.2-0.9 6.3-0.3 6.2 0.3 6.2 0.9 6.1 1.6 5.9 2.1 5.6 2.7 5.4 3.2 5 3.7 4.6 4.2 4.2 4.6 3.8 5.1 3.2 5.3 2.7 5.7 2.1 5.9 1.5 6 0.9 6.2z"/><use href="#t2_1" fill="none" stroke="#327396" stroke-width="0.58"/>
<path id="t2_2" d="M236.1 103.8l-0.3 6.2-0.9 6.2-1.5 6.1-2.1 5.8-2.7 5.7-3.2 5.4-3.7 5-4.2 4.6-4.6 4.3-5 3.7-5.4 3.2-5.6 2.7-5.9 2.1-6.1 1.5-6.2 1-6.2 0.3-6.3-0.3-6.2-1-6.1-1.5-6-2.1-5.7-2.7-5.4-3.3-5-3.7-4.7-4.2-4.3-4.6-3.8-5.1-3.2-5.4-2.7-5.6-2.2-5.9-1.5-6.1-1-6.3-0.3-6.3 0.3-6.2 0.9-6.2 1.6-6.1 2.1-5.9 2.7-5.7 3.2-5.3 3.8-5.1 4.2-4.6 4.6-4.2 5.1-3.7 5.4-3.2 5.6-2.7 6-2.1 6-1.5 6.2-0.9 6.3-0.4 6.3 0.4 6.2 0.9 6.1 1.5 5.9 2.1 5.7 2.7 5.4 3.2 5 3.8 4.7 4.2 4.2 4.7 3.7 5 3.2 5.4 2.7 5.7 2.1 5.9 1.6 6.1 0.9 6.2z"/><use href="#t2_2" fill="none" stroke="#327396" stroke-width="0.58"/>
<path id="t2_3" d="M234.3 103.1l-0.3 6.3-1 6.2-1.5 6-2.1 5.9-2.6 5.7-3.2 5.3-3.7 5.1-4.2 4.6-4.6 4.2-5 3.8-5.4 3.2-5.6 2.7-5.9 2.1-6.1 1.6-6.2 0.9-6.2 0.3-6.3-0.3-6.3-1-6.1-1.5-6-2.1-5.7-2.7-5.5-3.3-5.1-3.7-4.7-4.2-4.3-4.7-3.8-5-3.3-5.4-2.8-5.7-2.2-6-1.6-6.1-0.9-6.3-0.4-6.3 0.4-6.3 0.9-6.2 1.5-6.1 2.2-5.9 2.7-5.6 3.2-5.4 3.8-5 4.3-4.7 4.6-4.2 5.1-3.7 5.4-3.2 5.7-2.7 5.9-2.1 6.1-1.5 6.2-0.9 6.3-0.3 6.3 0.3 6.2 0.9 6.2 1.6 5.9 2.1 5.7 2.7 5.4 3.2 5.1 3.8 4.6 4.2 4.3 4.7 3.7 5 3.3 5.4 2.7 5.7 2.1 6 1.5 6.1 1 6.2z"/><use href="#t2_3" fill="none" stroke="#327396" stroke-width="0.58"/>
<path id="t2_4" d="M232.4 102.5l-0.3 6.2-0.9 6.2-1.5 6-2.1 5.9-2.7 5.7-3.2 5.4-3.6 5-4.2 4.6-4.6 4.3-5 3.7-5.4 3.2-5.6 2.7-5.9 2.2-6 1.5-6.2 0.9-6.2 0.3-6.4-0.3-6.3-0.9-6.2-1.6-6-2.1-5.8-2.8-5.5-3.2-5.1-3.7-4.8-4.3-4.3-4.6-3.9-5-3.4-5.4-2.8-5.8-2.2-5.9-1.7-6.2-0.9-6.3-0.4-6.3 0.4-6.3 0.9-6.3 1.6-6.1 2.1-5.9 2.8-5.6 3.2-5.4 3.8-5 4.3-4.7 4.7-4.1 5.1-3.7 5.4-3.2 5.7-2.7 5.9-2.1 6.2-1.5 6.2-0.9 6.3-0.3 6.3 0.3 6.3 0.9 6.1 1.5 5.9 2.2 5.8 2.7 5.4 3.2 5.1 3.8 4.7 4.2 4.2 4.7 3.8 5.1 3.3 5.4 2.7 5.7 2.1 6 1.6 6.1 0.9 6.3z"/><use href="#t2_4" fill="none" stroke="#327396" stroke-width="0.58"/>
<path id="t2_5" d="M230.5 101.8l-0.3 6.2-0.9 6.2-1.5 6-2.1 5.9-2.6 5.7-3.2 5.3-3.7 5.1-4.1 4.6-4.6 4.2-5 3.8-5.3 3.2-5.7 2.7-5.8 2.1-6.1 1.6-6.1 0.9-6.3 0.3-6.4-0.3-6.3-1-6.2-1.6-6.1-2.1-5.8-2.7-5.5-3.3-5.2-3.7-4.9-4.2-4.4-4.7-3.9-5-3.4-5.4-2.9-5.7-2.3-6-1.6-6.2-1.1-6.4-0.3-6.4 0.3-6.3 1-6.2 1.6-6.1 2.2-5.9 2.7-5.7 3.3-5.3 3.8-5 4.3-4.7 4.8-4.1 5.1-3.7 5.4-3.2 5.7-2.6 6-2.1 6.1-1.5 6.2-0.9 6.3-0.3 6.4 0.3 6.2 0.9 6.2 1.5 6 2.2 5.7 2.7 5.5 3.2 5.1 3.8 4.7 4.2 4.3 4.7 3.8 5.1 3.2 5.4 2.8 5.8 2.1 5.9 1.6 6.2 0.9 6.3z"/><use href="#t2_5" fill="none" stroke="#327396" stroke-width="0.58"/>
<path id="t2_6" d="M228.7 101.1l-0.4 6.2-0.9 6.2-1.5 6-2.1 5.9-2.6 5.6-3.2 5.4-3.6 5-4.2 4.6-4.5 4.2-5 3.8-5.3 3.2-5.6 2.7-5.9 2.1-6 1.5-6.1 1-6.2 0.3-6.5-0.4-6.4-0.9-6.2-1.6-6.1-2.2-5.9-2.7-5.5-3.2-5.3-3.8-4.9-4.2-4.5-4.6-4-5.1-3.5-5.4-2.9-5.7-2.4-6-1.7-6.2-1-6.4-0.4-6.4 0.4-6.3 0.9-6.3 1.7-6.1 2.2-5.9 2.7-5.6 3.4-5.4 3.8-5 4.3-4.6 4.8-4.1 5.1-3.7 5.5-3.1 5.7-2.7 6-2 6.1-1.5 6.2-0.9 6.3-0.3 6.4 0.3 6.3 0.9 6.2 1.6 6 2.1 5.7 2.7 5.5 3.2 5.1 3.8 4.8 4.2 4.3 4.7 3.8 5.1 3.3 5.5 2.7 5.7 2.2 6 1.6 6.2 0.9 6.3z"/><use href="#t2_6" fill="none" stroke="#327396" stroke-width="0.58"/>
<path id="t2_7" d="M226.7 100.4l-0.3 6.2-0.9 6.1-1.5 6.1-2.1 5.8-2.6 5.6-3.1 5.3-3.7 5-4.1 4.7-4.5 4.2-5 3.7-5.3 3.2-5.5 2.7-5.9 2.1-6 1.5-6.1 1-6.2 0.3-6.5-0.4-6.4-0.9-6.3-1.6-6.1-2.2-5.9-2.7-5.7-3.3-5.3-3.7-4.9-4.2-4.6-4.6-4.1-5-3.6-5.4-3-5.8-2.4-6-1.7-6.3-1.1-6.4-0.4-6.5 0.4-6.3 1-6.2 1.6-6.1 2.2-5.9 2.8-5.6 3.4-5.4 3.9-4.9 4.3-4.6 4.8-4.1 5.2-3.7 5.4-3.1 5.8-2.6 5.9-2 6.2-1.5 6.2-0.9 6.3-0.3 6.4 0.3 6.3 1 6.2 1.5 6 2.1 5.8 2.7 5.5 3.3 5.2 3.7 4.7 4.3 4.4 4.7 3.8 5.1 3.3 5.4 2.8 5.8 2.2 6 1.6 6.1 0.9 6.4z"/><use href="#t2_7" fill="none" stroke="#327396" stroke-width="0.58"/>
<path id="t2_8" d="M224.8 99.7l-0.3 6.2-0.9 6.1-1.5 6-2.1 5.8-2.6 5.5-3.1 5.3-3.6 5-4.1 4.6-4.5 4.2-5 3.7-5.2 3.3-5.6 2.6-5.7 2.1-6 1.6-6.1 0.9-6.2 0.3-6.5-0.3-6.5-1-6.3-1.6-6.2-2.2-5.9-2.7-5.7-3.3-5.4-3.7-5.1-4.2-4.6-4.6-4.2-5-3.6-5.4-3.1-5.7-2.5-6.1-1.8-6.2-1.1-6.5-0.4-6.5 0.3-6.3 1.1-6.3 1.6-6 2.3-5.9 2.8-5.6 3.4-5.4 3.9-4.9 4.4-4.5 4.8-4.1 5.2-3.6 5.5-3.1 5.7-2.6 6-2 6.1-1.5 6.3-0.8 6.3-0.3 6.4 0.3 6.3 0.9 6.2 1.5 6.1 2.1 5.8 2.7 5.5 3.3 5.2 3.7 4.8 4.3 4.3 4.7 3.9 5.1 3.3 5.4 2.8 5.8 2.2 6 1.6 6.2 1 6.3z"/><use href="#t2_8" fill="none" stroke="#327396" stroke-width="0.58"/>
<path id="t2_9" d="M222.8 99l-0.3 6.1-0.9 6.1-1.5 5.9-2 5.8-2.6 5.5-3.1 5.3-3.6 5-4.1 4.6-4.5 4.1-4.8 3.7-5.2 3.2-5.6 2.7-5.7 2.1-5.9 1.5-6.1 0.9-6.1 0.3-6.6-0.3-6.5-1-6.4-1.6-6.2-2.2-6-2.7-5.8-3.3-5.4-3.7-5.2-4.1-4.7-4.6-4.2-5-3.8-5.4-3.2-5.7-2.6-6.1-1.8-6.3-1.2-6.5-0.4-6.6 0.4-6.3 1-6.2 1.7-6 2.3-5.9 2.9-5.6 3.4-5.3 4-4.9 4.4-4.5 4.8-4 5.2-3.6 5.5-3.1 5.8-2.5 5.9-2 6.2-1.4 6.2-0.9 6.3-0.3 6.4 0.3 6.4 1 6.2 1.5 6.1 2.1 5.8 2.7 5.5 3.2 5.2 3.8 4.8 4.2 4.4 4.7 3.9 5.1 3.4 5.5 2.8 5.7 2.2 6.1 1.6 6.2 1 6.3z"/><use href="#t2_9" fill="none" stroke="#327396" stroke-width="0.58"/>
<path id="t2_10" d="M220.8 98.3l-0.3 6.1-0.9 6-1.4 5.9-2.1 5.7-2.5 5.5-3.1 5.2-3.6 5-4 4.5-4.5 4.2-4.8 3.7-5.2 3.1-5.4 2.7-5.7 2.1-5.9 1.5-6 0.9-6.1 0.3-6.7-0.4-6.5-1-6.5-1.6-6.2-2.2-6.1-2.7-5.8-3.2-5.6-3.7-5.1-4.1-4.9-4.6-4.3-4.9-3.9-5.4-3.3-5.7-2.7-6.1-1.9-6.4-1.2-6.5-0.4-6.6 0.4-6.3 1-6.2 1.7-6.1 2.4-5.8 2.9-5.6 3.5-5.2 4-4.9 4.4-4.4 4.9-4 5.2-3.6 5.5-3 5.8-2.5 5.9-1.9 6.2-1.5 6.2-0.8 6.3-0.3 6.4 0.3 6.4 1 6.3 1.5 6 2.1 5.9 2.6 5.5 3.3 5.3 3.7 4.8 4.3 4.4 4.6 3.9 5.1 3.4 5.5 2.9 5.8 2.2 6 1.6 6.2 1 6.4z"/><use href="#t2_10" fill="none" stroke="#327396" stroke-width="0.58"/>
<path id="t2_11" d="M218.8 97.6l-0.3 6-0.9 5.9-1.4 5.9-2.1 5.7-2.5 5.4-3.1 5.2-3.5 4.9-4 4.5-4.4 4.1-4.8 3.7-5.1 3.2-5.4 2.6-5.7 2.1-5.8 1.5-6 0.9-6 0.3-6.7-0.4-6.6-1-6.5-1.6-6.3-2.2-6.1-2.8-5.9-3.2-5.6-3.6-5.3-4.1-4.9-4.5-4.5-4.9-4-5.4-3.4-5.7-2.8-6.1-2-6.4-1.2-6.6-0.4-6.7 0.3-6.2 1.1-6.2 1.7-6.1 2.4-5.8 3-5.5 3.5-5.2 4-4.8 4.5-4.4 4.9-4 5.2-3.4 5.6-3 5.8-2.5 5.9-1.9 6.2-1.4 6.2-0.8 6.3-0.3 6.4 0.3 6.4 1 6.3 1.5 6.1 2.1 5.8 2.6 5.6 3.2 5.3 3.8 4.8 4.2 4.5 4.7 3.9 5.1 3.4 5.4 2.9 5.8 2.3 6 1.6 6.2 1 6.4z"/><use href="#t2_11" fill="none" stroke="#327396" stroke-width="0.58"/>
<path id="t2_12" d="M216.8 96.8l-0.3 6-0.9 5.9-1.4 5.8-2 5.6-2.6 5.4-3 5.1-3.5 4.9-3.9 4.5-4.4 4-4.7 3.7-5.1 3.1-5.4 2.7-5.6 2-5.8 1.5-5.9 0.9-5.9 0.3-6.8-0.4-6.6-1-6.6-1.7-6.4-2.2-6.2-2.7-5.9-3.2-5.7-3.6-5.4-4-5-4.5-4.6-4.9-4.1-5.3-3.6-5.8-2.8-6.1-2.1-6.4-1.3-6.6-0.4-6.8 0.4-6.2 1.1-6.2 1.7-6 2.4-5.8 3.1-5.5 3.5-5.1 4.1-4.8 4.5-4.3 4.9-3.9 5.3-3.4 5.5-2.9 5.8-2.4 6-1.9 6.1-1.4 6.3-0.8 6.2-0.2 6.5 0.3 6.4 0.9 6.2 1.5 6.2 2.1 5.8 2.6 5.7 3.2 5.2 3.7 4.9 4.2 4.5 4.7 4 5.1 3.4 5.4 2.9 5.8 2.3 6 1.7 6.3 1 6.4z"/><use href="#t2_12" fill="none" stroke="#327396" stroke-width="0.58"/>
<path id="t2_13" d="M214.7 96l-0.3 5.9-0.8 5.9-1.5 5.7-2 5.6-2.5 5.3-3 5.1-3.4 4.8-3.9 4.4-4.3 4.1-4.7 3.6-5 3.1-5.3 2.6-5.5 2.1-5.8 1.4-5.8 0.9-5.9 0.3-6.8-0.4-6.7-1-6.6-1.7-6.5-2.2-6.2-2.7-6.1-3.1-5.7-3.6-5.5-4-5.2-4.5-4.7-4.8-4.3-5.3-3.6-5.8-3-6.1-2.2-6.4-1.3-6.7-0.4-6.8 0.4-6.2 1.1-6.2 1.8-6 2.4-5.7 3.1-5.5 3.6-5.1 4.1-4.7 4.6-4.2 5-3.8 5.2-3.4 5.6-2.8 5.8-2.4 6-1.8 6.1-1.3 6.2-0.8 6.2-0.3 6.5 0.3 6.4 0.9 6.3 1.5 6.1 2.1 5.9 2.6 5.7 3.2 5.3 3.7 4.9 4.2 4.5 4.6 4 5.1 3.5 5.4 2.9 5.8 2.3 6 1.7 6.3 1 6.4z"/><use href="#t2_13" fill="none" stroke="#327396" stroke-width="0.58"/>
<path id="t2_14" d="M212.7 95.3l-0.3 5.8-0.9 5.8-1.4 5.6-2 5.5-2.5 5.3-2.9 5-3.4 4.8-3.9 4.4-4.2 4-4.6 3.6-5 3-5.2 2.6-5.5 2-5.7 1.5-5.7 0.8-5.9 0.3-6.8-0.3-6.8-1.1-6.7-1.7-6.5-2.2-6.3-2.7-6.1-3.1-5.9-3.5-5.6-4-5.2-4.4-4.9-4.8-4.4-5.3-3.8-5.7-3.1-6.1-2.2-6.5-1.4-6.7-0.5-6.9 0.4-6.2 1.2-6.1 1.8-6 2.5-5.7 3.1-5.4 3.7-5 4.2-4.6 4.6-4.2 4.9-3.8 5.4-3.3 5.5-2.7 5.8-2.3 6-1.8 6.1-1.3 6.2-0.8 6.2-0.2 6.5 0.3 6.4 0.9 6.3 1.4 6.2 2.1 5.9 2.6 5.6 3.2 5.4 3.7 4.9 4.1 4.5 4.7 4.1 5 3.5 5.5 3 5.7 2.3 6 1.7 6.3 1 6.4z"/><use href="#t2_14" fill="none" stroke="#327396" stroke-width="0.58"/>
</g>
<g clip-path="url(#h2)" fill="none" stroke-linejoin="round"><use href="#hp2" stroke="#2f8f86" stroke-width="13" opacity="0.22"/><use href="#hp2" stroke="#2c8a8c" stroke-width="7" opacity="0.3"/><use href="#hp2" stroke="#2a7aa0" stroke-width="3.2" opacity="0.45"/></g>
<use href="#hp2" fill="none" stroke="#2060c4" stroke-width="1.25" stroke-linejoin="round"/>
<defs><path id="s2" d="M210.6 94.5l-0.3 5.7-0.9 5.7-1.4 5.6-2 5.4-2.4 5.2-2.9 5-3.4 4.7-3.8 4.3-4.1 4-4.6 3.5-4.9 3.1-5.1 2.5-5.4 2-5.6 1.5-5.7 0.8-5.8 0.3-6.9-0.4-6.8-1-6.8-1.7-6.5-2.2-6.4-2.7-6.2-3.1-6-3.5-5.7-4-5.4-4.3-5-4.8-4.5-5.2-4-5.7-3.2-6.1-2.3-6.5-1.5-6.8-0.5-6.9 0.4-6.2 1.2-6.1 1.9-5.9 2.6-5.7 3.1-5.3 3.8-5 4.2-4.6 4.6-4.1 5-3.6 5.4-3.2 5.5-2.8 5.8-2.2 6-1.7 6.1-1.3 6.2-0.7 6.2-0.2 6.4 0.3 6.5 0.9 6.3 1.4 6.2 2 5.9 2.6 5.7 3.2 5.3 3.6 5 4.2 4.6 4.6 4 5 3.6 5.5 3 5.7 2.4 6 1.7 6.3 1 6.4z"/><clipPath id="c2"><use href="#s2"/></clipPath></defs>
<use href="#s2" fill="#b0d03c"/>
<g clip-path="url(#c2)">
<use href="#s2" transform="translate(0 0) scale(1.000)" fill="#c4d628"/>
<use href="#s2" transform="translate(2 1.4) scale(0.986)" fill="#f3db09"/>
<use href="#s2" transform="translate(3.9 2.8) scale(0.971)" fill="#ffd902"/>
<use href="#s2" transform="translate(5.9 4.2) scale(0.957)" fill="#ffd802"/>
<use href="#s2" transform="translate(7.8 5.6) scale(0.943)" fill="#ffd702"/>
<use href="#s2" transform="translate(9.8 7) scale(0.929)" fill="#ffd602"/>
<use href="#s2" transform="translate(13.7 9.9) scale(0.900)" fill="#ffd502"/>
<use href="#s2" transform="translate(19.6 14.1) scale(0.857)" fill="#ffd402"/>
<use href="#s2" transform="translate(23.5 16.9) scale(0.829)" fill="#ffd302"/>
<use href="#s2" transform="translate(27.4 19.7) scale(0.800)" fill="#ffd002"/>
<use href="#s2" transform="translate(29.4 21.1) scale(0.786)" fill="#ffca03"/>
<use href="#s2" transform="translate(31.3 22.5) scale(0.771)" fill="#ffc603"/>
<use href="#s2" transform="translate(33.3 23.9) scale(0.757)" fill="#ffc503"/>
<use href="#s2" transform="translate(41.1 29.6) scale(0.700)" fill="#ffc703"/>
<use href="#s2" transform="translate(43.1 31) scale(0.686)" fill="#ffcb04"/>
<use href="#s2" transform="translate(45 32.4) scale(0.671)" fill="#ffce04"/>
<use href="#s2" transform="translate(47 33.8) scale(0.657)" fill="#ffd004"/>
<use href="#s2" transform="translate(50.9 36.6) scale(0.629)" fill="#ffcf04"/>
<use href="#s2" transform="translate(56.8 40.8) scale(0.586)" fill="#ffc804"/>
<use href="#s2" transform="translate(58.7 42.3) scale(0.571)" fill="#ffc203"/>
<use href="#s2" transform="translate(60.7 43.7) scale(0.557)" fill="#ffbb03"/>
<use href="#s2" transform="translate(62.6 45.1) scale(0.543)" fill="#ffb803"/>
<use href="#s2" transform="translate(74.4 53.5) scale(0.457)" fill="#ffb903"/>
<use href="#s2" transform="translate(76.3 54.9) scale(0.443)" fill="#ffbf04"/>
<use href="#s2" transform="translate(78.3 56.3) scale(0.429)" fill="#ffc505"/>
<use href="#s2" transform="translate(80.2 57.8) scale(0.414)" fill="#ffc906"/>
<use href="#s2" transform="translate(84.2 60.6) scale(0.386)" fill="#ffc806"/>
<use href="#s2" transform="translate(90 64.8) scale(0.343)" fill="#ffc706"/>
<use href="#s2" transform="translate(93.9 67.6) scale(0.314)" fill="#ffc305"/>
<use href="#s2" transform="translate(95.9 69) scale(0.300)" fill="#ffb704"/>
<use href="#s2" transform="translate(97.9 70.4) scale(0.286)" fill="#ffac02"/>
</g>
<g transform="translate(137 98.6)">
<ellipse cx="2.2" cy="1" rx="19.7" ry="19.4" fill="#ffa200"/>
<ellipse cx="0.3" cy="0.2" rx="17.5" ry="17.9" fill="#f07206"/>
<ellipse cx="0.4" cy="0.4" rx="15.4" ry="16" fill="#9c1410"/>
</g>
<ellipse cx="132" cy="98.1" rx="9.5" ry="13.5" fill="#e8680a"/>
<path d="M133.8 114C133.1 113.7 131.2 113 130 112.3C128.9 111.6 127.8 110.6 126.9 109.6C126 108.6 125.1 107.4 124.5 106.1C123.9 104.9 123.4 103.5 123.1 102.1C122.9 100.7 122.7 99.3 122.8 97.8C122.9 96.4 123.2 95 123.6 93.6C124.1 92.3 124.7 91 125.5 89.8C126.2 88.7 127.2 87.6 128.2 86.7C129.2 85.8 130.4 85 131.7 84.4C132.9 83.9 134.9 83.5 135.5 83.3" fill="none" stroke="#9c1410" stroke-width="1.15"/>
<path d="M134.3 111.7C133.8 111.5 132.1 110.9 131.2 110.3C130.2 109.7 129.3 108.9 128.5 108C127.7 107.1 127 106.1 126.5 105C125.9 104 125.5 102.8 125.3 101.6C125 100.4 125 99.2 125 98C125.1 96.8 125.3 95.5 125.7 94.4C126.1 93.3 126.6 92.1 127.3 91.2C127.9 90.2 128.7 89.2 129.6 88.5C130.5 87.7 131.5 87.1 132.5 86.6C133.6 86.1 135.3 85.7 135.8 85.6" fill="none" stroke="#9c1410" stroke-width="1.15"/>
<path d="M134.9 109.4C134.5 109.3 133.1 108.8 132.3 108.3C131.5 107.8 130.7 107.1 130.1 106.4C129.4 105.7 128.8 104.8 128.4 104C128 103.1 127.6 102.1 127.4 101.1C127.2 100.2 127.2 99.1 127.2 98.1C127.3 97.1 127.5 96.1 127.8 95.2C128.1 94.2 128.5 93.3 129.1 92.5C129.6 91.7 130.3 90.9 131 90.3C131.7 89.7 132.6 89.1 133.4 88.7C134.3 88.3 135.7 88 136.2 87.9" fill="none" stroke="#9c1410" stroke-width="1.15"/>
<ellipse cx="138" cy="98.8" rx="7.1" ry="9.5" fill="#ffc814"/>
<path d="M133.9 102.7C133.8 102.5 133.6 102.1 133.5 101.8C133.3 101.6 133.2 101.3 133.1 101C133 100.6 132.9 100.3 132.9 100C132.8 99.7 132.8 99.3 132.8 99C132.8 98.7 132.8 98.3 132.8 98C132.9 97.7 132.9 97.4 133 97C133.1 96.7 133.2 96.4 133.3 96.1C133.4 95.8 133.6 95.5 133.7 95.3C133.9 95 134 94.8 134.2 94.5C134.4 94.3 134.7 94 134.8 93.9" fill="none" stroke="#e07008" stroke-width="1"/>
<path d="M135.6 96q-1.6 2.4 0.4 5" fill="none" stroke="#9c1410" stroke-width="0.8"/>
<rect x="0" y="0" width="246.8" height="246.8" fill="none" stroke="#a4a4a4" stroke-width="0.85"/>
</g>
<text x="26.2" y="288.3" font-family="'Liberation Serif',serif" font-size="10.6" letter-spacing="0.3" fill="#141414">2.5D Downstream</text>
<g font-family="'Liberation Sans',sans-serif" font-size="9" fill="#2e2e2e">
<text x="21.7" y="527.1" text-anchor="end">0</text>
<text x="21.7" y="482.2" text-anchor="end">10</text>
<text x="21.7" y="437.4" text-anchor="end">20</text>
<text x="21.7" y="392.5" text-anchor="end">30</text>
<text x="21.7" y="347.6" text-anchor="end">40</text>
<text x="21.7" y="302.7" text-anchor="end">50</text>
<text x="23.5" y="533.9" text-anchor="middle">-40</text>
<text x="90.8" y="533.9" text-anchor="middle">-25</text>
<text x="158.1" y="533.9" text-anchor="middle">-10</text>
<text x="225.4" y="533.9" text-anchor="middle">5</text>
<text x="270.3" y="533.9" text-anchor="middle">15</text>
<text x="142" y="535.3" text-anchor="middle">[m]</text>
<text transform="translate(13.9 404.7) rotate(-90)" text-anchor="middle">[m]</text>
</g>
<g transform="translate(291.8 276.9)">
<path d="M67.3 0V246.8M134.6 0V246.8M201.9 0V246.8M0 201.9H246.8M0 157.1H246.8M0 112.2H246.8M0 67.3H246.8M0 22.4H246.8" stroke="#efefef" stroke-width="0.8" fill="none"/>
<path d="M179.5 246.8V169" stroke="#0a0a0a" stroke-width="1.7" fill="none"/>
<defs><path id="hp3" d="M67.5 87.8l0.4-6.2 1.2-6 2-5.8 2.5-5.6 3.2-5.3 3.6-5 4.1-4.6 4.4-4.2 4.8-3.8 5.1-3.4 5.5-3 5.6-2.4 5.8-1.9 6-1.5 6.1-0.8 6.2-0.3 6.9 0.4 6.9 1 2.6 0.7 2.6 0.7 9.2 2.4 2.5 0.7 2.4 0.7 2.5 0.8 2.4 0.7 2.4 0.7 2.3 0.8 2.3 0.8 2.3 0.8 2.3 0.8 8.3 3 2.2 0.8 2.1 0.8 2.2 0.9 2.1 0.8 5.6 2.7 5.4 3.2 5 3.7 4.6 4.2 4.2 4.6 3.7 5 3.2 5.4 2.7 5.6 2.1 5.9 1.5 6 0.9 6.2 0.3 6.2-0.3 6.2-0.9 6.2-1.5 6-2.1 5.9-2.7 5.6-3.2 5.4-3.7 5-4.2 4.6-4.6 4.2-5 3.7-5.4 3.2-5.6 2.7-5.9 2.1-6 1.5-6.2 0.9-6.2 0.3-6.2-0.3-6.2-0.9-6-1.5-2-0.7-5.9-2.1-1.9-0.7-2-0.7-1.8-0.8-7.7-3.5-1.9-0.9-1.8-1-7.6-4.2-1.9-1-1.8-1.1-7.5-4.6-1.8-1.2-1.9-1.2-9.4-6.2-1.9-1.3-7.8-5.3-5.5-4.5-5.1-4.9-4.4-5.5-3.7-6.1-2.8-6.5-1.7-6.9z"/><clipPath id="h3"><use href="#hp3"/></clipPath></defs>
<use href="#hp3" fill="#a2c03a"/>
<path d="M239.7 105l-0.3 6.2-0.9 6.2-1.5 6-2.1 5.9-2.7 5.6-3.2 5.4-3.7 5-4.2 4.6-4.6 4.2-5 3.7-5.4 3.2-5.6 2.7-5.9 2.1-6 1.5-6.2 0.9-6.2 0.3-6.2-0.3-6.2-0.9-6-1.5-5.9-2.1-5.6-2.7-5.4-3.2-5-3.7-4.6-4.2-4.2-4.6-3.7-5-3.2-5.4-2.7-5.6-2.1-5.9-1.5-6-0.9-6.2-0.3-6.2 0.3-6.2 0.9-6.2 1.5-6 2.1-5.9 2.7-5.6 3.2-5.4 3.7-5 4.2-4.6 4.6-4.2 5-3.7 5.4-3.2 5.6-2.7 5.9-2.1 6-1.5 6.2-0.9 6.2-0.3 6.2 0.3 6.2 0.9 6 1.5 5.9 2.1 5.6 2.7 5.4 3.2 5 3.7 4.6 4.2 4.2 4.6 3.7 5 3.2 5.4 2.7 5.6 2.1 5.9 1.5 6 0.9 6.2z" fill="#a2c03a" stroke="#1c5cc4" stroke-width="2.6"/>
<g fill="#d8d01a" stroke="#aac635" stroke-width="1.1" stroke-linejoin="round">
<path id="t3_0" d="M239.7 105l-0.3 6.2-0.9 6.2-1.5 6-2.1 5.9-2.7 5.6-3.2 5.4-3.7 5-4.2 4.6-4.6 4.2-5 3.7-5.4 3.2-5.6 2.7-5.9 2.1-6 1.5-6.2 0.9-6.2 0.3-6.2-0.3-6.2-0.9-6-1.5-5.9-2.1-5.6-2.7-5.4-3.2-5-3.7-4.6-4.2-4.2-4.6-3.7-5-3.2-5.4-2.7-5.6-2.1-5.9-1.5-6-0.9-6.2-0.3-6.2 0.3-6.2 0.9-6.2 1.5-6 2.1-5.9 2.7-5.6 3.2-5.4 3.7-5 4.2-4.6 4.6-4.2 5-3.7 5.4-3.2 5.6-2.7 5.9-2.1 6-1.5 6.2-0.9 6.2-0.3 6.2 0.3 6.2 0.9 6 1.5 5.9 2.1 5.6 2.7 5.4 3.2 5 3.7 4.6 4.2 4.2 4.6 3.7 5 3.2 5.4 2.7 5.6 2.1 5.9 1.5 6 0.9 6.2z"/><use href="#t3_0" fill="none" stroke="#327396" stroke-width="0.58"/>
<path id="t3_1" d="M237.8 104.5l-0.3 6.2-1 6.2-1.5 6-2.1 5.9-2.6 5.6-3.2 5.3-3.7 5-4.2 4.7-4.6 4.1-5 3.7-5.3 3.2-5.7 2.7-5.8 2.1-6.1 1.5-6.1 0.9-6.2 0.3-6.3-0.3-6.2-0.9-6.1-1.6-5.9-2.1-5.7-2.6-5.3-3.2-5.1-3.8-4.7-4.1-4.2-4.7-3.8-5-3.2-5.3-2.7-5.7-2.2-5.9-1.5-6-1-6.2-0.3-6.3 0.3-6.2 1-6.2 1.5-6.1 2.1-5.8 2.7-5.7 3.2-5.3 3.7-5 4.2-4.7 4.7-4.2 5-3.7 5.3-3.2 5.7-2.7 5.9-2.1 6-1.5 6.2-0.9 6.2-0.3 6.3 0.3 6.2 0.9 6.1 1.6 5.9 2.1 5.6 2.7 5.4 3.2 5 3.7 4.7 4.3 4.2 4.6 3.7 5.1 3.2 5.3 2.7 5.7 2.1 5.9 1.5 6.1 1 6.2z"/><use href="#t3_1" fill="none" stroke="#327396" stroke-width="0.58"/>
<path id="t3_2" d="M235.8 104.1l-0.3 6.2-0.9 6.1-1.5 6-2.1 5.9-2.6 5.6-3.2 5.3-3.7 5-4.2 4.6-4.6 4.1-5 3.7-5.3 3.2-5.6 2.6-5.9 2.1-6 1.5-6.1 0.9-6.2 0.3-6.3-0.3-6.3-0.9-6.1-1.6-5.9-2.1-5.7-2.6-5.5-3.2-5.1-3.7-4.7-4.2-4.3-4.6-3.8-5-3.3-5.4-2.8-5.7-2.2-5.9-1.6-6.1-0.9-6.2-0.4-6.3 0.3-6.3 1-6.1 1.5-6.1 2.2-5.9 2.7-5.6 3.2-5.4 3.7-5 4.2-4.6 4.7-4.2 5-3.8 5.4-3.2 5.7-2.6 5.8-2.1 6.1-1.6 6.2-0.9 6.3-0.3 6.3 0.3 6.2 1 6.1 1.5 5.9 2.1 5.7 2.8 5.4 3.2 5.1 3.8 4.6 4.2 4.2 4.7 3.8 5.1 3.2 5.4 2.7 5.7 2.1 6 1.6 6.1 0.9 6.2z"/><use href="#t3_2" fill="none" stroke="#327396" stroke-width="0.58"/>
<path id="t3_3" d="M233.9 103.7l-0.3 6.2-0.9 6.1-1.5 6-2.1 5.8-2.7 5.6-3.2 5.2-3.6 5-4.2 4.6-4.6 4.1-5 3.7-5.3 3.1-5.6 2.6-5.8 2.1-6 1.5-6.1 0.9-6.2 0.3-6.3-0.3-6.3-1-6.2-1.5-5.9-2.1-5.8-2.7-5.5-3.2-5.1-3.7-4.8-4.1-4.4-4.6-3.9-5-3.4-5.4-2.8-5.7-2.2-5.9-1.7-6.1-1-6.3-0.3-6.4 0.3-6.2 1-6.2 1.5-6.1 2.2-5.9 2.7-5.6 3.3-5.4 3.7-5 4.2-4.6 4.7-4.2 5-3.7 5.4-3.2 5.7-2.7 5.9-2.1 6.1-1.5 6.2-1 6.2-0.3 6.4 0.3 6.3 1 6.1 1.5 6 2.2 5.7 2.7 5.4 3.3 5.1 3.8 4.7 4.3 4.2 4.8 3.7 5.1 3.3 5.4 2.7 5.8 2.1 5.9 1.6 6.2 0.9 6.3z"/><use href="#t3_3" fill="none" stroke="#327396" stroke-width="0.58"/>
<path id="t3_4" d="M231.9 103.3l-0.3 6.1-0.9 6.1-1.5 6-2.1 5.8-2.6 5.5-3.2 5.3-3.7 4.9-4.1 4.5-4.6 4.1-4.9 3.7-5.3 3.1-5.6 2.6-5.8 2-5.9 1.5-6.1 0.9-6.2 0.3-6.3-0.3-6.4-1-6.2-1.5-6-2.1-5.8-2.7-5.6-3.2-5.2-3.7-4.8-4.1-4.5-4.6-3.9-5-3.5-5.3-2.9-5.7-2.3-6-1.7-6.1-1-6.3-0.3-6.4 0.3-6.3 1-6.2 1.5-6.1 2.2-5.9 2.7-5.6 3.3-5.4 3.8-5 4.2-4.6 4.7-4.2 5.1-3.7 5.3-3.2 5.7-2.7 5.9-2.1 6.1-1.5 6.2-0.9 6.3-0.3 6.4 0.3 6.3 0.9 6.2 1.6 6 2.2 5.7 2.8 5.5 3.3 5.1 3.8 4.7 4.4 4.2 4.7 3.8 5.2 3.3 5.4 2.7 5.8 2.1 6 1.6 6.2 1 6.3z"/><use href="#t3_4" fill="none" stroke="#327396" stroke-width="0.58"/>
<path id="t3_5" d="M229.9 102.9l-0.3 6.1-0.9 6.1-1.5 5.9-2 5.7-2.7 5.6-3.1 5.2-3.7 4.9-4.1 4.5-4.6 4-4.9 3.6-5.3 3.1-5.5 2.6-5.8 2-5.9 1.5-6 0.8-6.1 0.3-6.5-0.3-6.3-0.9-6.3-1.6-6.1-2.1-5.8-2.6-5.6-3.2-5.3-3.7-4.9-4.1-4.5-4.6-4.1-5-3.5-5.3-3-5.7-2.4-6-1.7-6.1-1-6.4-0.4-6.4 0.3-6.3 1-6.2 1.6-6.1 2.2-5.9 2.7-5.6 3.3-5.3 3.8-5 4.3-4.7 4.7-4.1 5-3.8 5.4-3.2 5.7-2.6 5.9-2.1 6.1-1.5 6.3-1 6.2-0.3 6.4 0.3 6.4 1 6.2 1.6 6.1 2.2 5.7 2.8 5.5 3.3 5.1 3.9 4.8 4.4 4.2 4.8 3.8 5.2 3.3 5.5 2.7 5.8 2.2 6 1.6 6.3 1 6.3z"/><use href="#t3_5" fill="none" stroke="#327396" stroke-width="0.58"/>
<path id="t3_6" d="M227.9 102.6l-0.3 6.1-0.9 6-1.5 5.8-2 5.7-2.6 5.5-3.2 5.2-3.6 4.8-4.1 4.5-4.5 4-4.9 3.6-5.3 3-5.5 2.5-5.7 2-5.9 1.5-6 0.8-6 0.3-6.5-0.3-6.4-0.9-6.3-1.6-6.2-2.1-5.9-2.6-5.7-3.2-5.3-3.7-5-4.1-4.6-4.5-4.1-5-3.6-5.3-3.1-5.7-2.4-6-1.8-6.2-1.1-6.4-0.4-6.5 0.3-6.2 1-6.2 1.6-6.1 2.3-5.9 2.7-5.6 3.4-5.3 3.8-5 4.2-4.6 4.7-4.2 5.1-3.7 5.4-3.2 5.7-2.7 5.9-2.1 6.1-1.5 6.3-0.9 6.2-0.3 6.5 0.3 6.4 1 6.2 1.6 6.1 2.2 5.8 2.8 5.5 3.4 5.2 3.9 4.7 4.4 4.3 4.9 3.8 5.2 3.3 5.6 2.8 5.8 2.2 6.1 1.6 6.3 1 6.3z"/><use href="#t3_6" fill="none" stroke="#327396" stroke-width="0.58"/>
<path id="t3_7" d="M225.9 102.3l-0.3 6-0.9 5.9-1.5 5.9-2 5.6-2.6 5.4-3.1 5.2-3.6 4.8-4.1 4.4-4.5 3.9-4.9 3.5-5.2 3.1-5.5 2.4-5.6 2-5.9 1.4-5.9 0.9-6 0.2-6.6-0.3-6.4-0.9-6.4-1.6-6.2-2.1-5.9-2.6-5.8-3.2-5.4-3.6-5-4.1-4.7-4.5-4.2-4.9-3.8-5.3-3.1-5.7-2.5-6-1.9-6.3-1.1-6.4-0.4-6.5 0.3-6.3 1-6.2 1.7-6.1 2.2-5.8 2.8-5.6 3.4-5.4 3.8-4.9 4.3-4.6 4.7-4.2 5.1-3.7 5.4-3.1 5.7-2.7 5.9-2.1 6.1-1.5 6.2-0.9 6.3-0.3 6.5 0.3 6.4 1 6.3 1.6 6.1 2.2 5.9 2.9 5.5 3.4 5.2 4 4.8 4.4 4.3 4.9 3.8 5.3 3.3 5.6 2.8 5.8 2.2 6.2 1.6 6.3 1 6.4z"/><use href="#t3_7" fill="none" stroke="#327396" stroke-width="0.58"/>
<path id="t3_8" d="M223.8 102l-0.3 5.9-0.8 5.9-1.5 5.8-2 5.6-2.6 5.4-3.1 5-3.6 4.8-4 4.3-4.5 3.9-4.8 3.5-5.2 3-5.4 2.4-5.6 1.9-5.8 1.4-5.9 0.8-6 0.3-6.5-0.3-6.6-1-6.4-1.5-6.2-2.1-6-2.6-5.8-3.2-5.5-3.5-5.2-4.1-4.7-4.5-4.4-4.9-3.8-5.3-3.2-5.7-2.7-6-1.9-6.2-1.1-6.5-0.4-6.6 0.3-6.3 1-6.2 1.7-6 2.3-5.9 2.8-5.6 3.3-5.3 3.9-4.9 4.3-4.6 4.7-4.1 5.1-3.7 5.4-3.2 5.7-2.6 6-2.1 6.1-1.5 6.2-0.9 6.2-0.3 6.6 0.3 6.5 1 6.3 1.6 6.2 2.3 5.8 2.9 5.6 3.4 5.2 4 4.8 4.5 4.3 4.9 3.8 5.3 3.4 5.7 2.8 5.9 2.2 6.1 1.7 6.4 1 6.5z"/><use href="#t3_8" fill="none" stroke="#327396" stroke-width="0.58"/>
<path id="t3_9" d="M221.8 101.7l-0.3 5.9-0.9 5.8-1.4 5.7-2 5.6-2.6 5.3-3 5-3.6 4.7-4 4.2-4.5 3.9-4.8 3.4-5.1 2.9-5.4 2.4-5.5 1.9-5.7 1.3-5.9 0.8-5.9 0.3-6.6-0.3-6.6-1-6.4-1.5-6.3-2.1-6.1-2.6-5.9-3.1-5.5-3.6-5.3-4-4.8-4.4-4.5-4.9-3.9-5.3-3.4-5.6-2.7-6.1-2-6.3-1.2-6.5-0.4-6.6 0.4-6.3 1-6.2 1.7-6 2.3-5.8 2.8-5.6 3.4-5.3 3.9-4.9 4.3-4.6 4.7-4.1 5.1-3.7 5.5-3.1 5.7-2.6 5.9-2.1 6.1-1.5 6.2-0.9 6.3-0.3 6.5 0.3 6.6 1 6.4 1.6 6.1 2.3 6 3 5.5 3.5 5.3 4 4.8 4.5 4.3 5 3.9 5.3 3.3 5.7 2.9 6 2.2 6.2 1.7 6.3 1 6.6z"/><use href="#t3_9" fill="none" stroke="#327396" stroke-width="0.58"/>
<path id="t3_10" d="M219.7 101.5l-0.3 5.8-0.8 5.8-1.5 5.6-1.9 5.5-2.6 5.2-3 4.9-3.6 4.6-4 4.2-4.4 3.8-4.7 3.4-5.1 2.8-5.3 2.4-5.5 1.8-5.6 1.3-5.8 0.8-5.8 0.3-6.7-0.4-6.6-0.9-6.5-1.5-6.4-2.1-6.1-2.6-6-3.1-5.6-3.5-5.4-4-4.9-4.4-4.6-4.8-4-5.3-3.5-5.6-2.8-6.1-2.1-6.3-1.3-6.6-0.4-6.7 0.4-6.2 1-6.2 1.7-6 2.4-5.8 2.9-5.6 3.4-5.2 3.9-4.9 4.3-4.6 4.7-4.1 5.1-3.6 5.5-3.1 5.7-2.6 5.9-2.1 6.1-1.5 6.2-0.9 6.2-0.3 6.7 0.3 6.5 1 6.5 1.7 6.2 2.3 5.9 3 5.7 3.5 5.2 4.1 4.8 4.5 4.4 5.1 3.9 5.3 3.4 5.8 2.8 6 2.3 6.2 1.7 6.4 1.1 6.6z"/><use href="#t3_10" fill="none" stroke="#327396" stroke-width="0.58"/>
<path id="t3_11" d="M217.6 101.3l-0.3 5.7-0.8 5.7-1.4 5.5-2 5.4-2.5 5.2-3 4.8-3.5 4.6-4 4.1-4.3 3.7-4.7 3.3-5 2.8-5.3 2.3-5.4 1.8-5.6 1.2-5.7 0.8-5.7 0.3-6.8-0.4-6.6-0.9-6.6-1.6-6.4-2-6.2-2.6-6.1-3.1-5.7-3.4-5.4-4-5.1-4.3-4.7-4.8-4.2-5.2-3.6-5.7-2.9-6-2.1-6.4-1.3-6.6-0.5-6.7 0.4-6.3 1.1-6.1 1.7-6 2.3-5.8 3-5.6 3.4-5.2 3.9-4.9 4.4-4.5 4.7-4 5.1-3.6 5.5-3.1 5.7-2.6 5.9-2.1 6.1-1.5 6.1-0.9 6.3-0.3 6.7 0.3 6.6 1.1 6.5 1.7 6.2 2.3 6 3 5.7 3.6 5.2 4.1 4.9 4.6 4.4 5 3.9 5.5 3.4 5.7 2.9 6.1 2.3 6.2 1.7 6.5 1.1 6.6z"/><use href="#t3_11" fill="none" stroke="#327396" stroke-width="0.58"/>
<path id="t3_12" d="M215.5 101.1l-0.3 5.7-0.8 5.5-1.4 5.5-1.9 5.3-2.5 5.1-3 4.8-3.5 4.4-3.9 4-4.3 3.7-4.7 3.2-4.9 2.7-5.2 2.2-5.4 1.8-5.5 1.2-5.6 0.7-5.6 0.3-6.8-0.3-6.7-1-6.6-1.5-6.5-2.1-6.3-2.5-6.1-3.1-5.8-3.4-5.6-3.9-5.2-4.3-4.8-4.7-4.3-5.2-3.7-5.6-3.1-6.1-2.2-6.4-1.4-6.6-0.4-6.8 0.4-6.3 1.1-6.1 1.7-6 2.4-5.8 3-5.5 3.4-5.1 4-4.9 4.3-4.4 4.8-4.1 5.1-3.6 5.4-3.1 5.7-2.5 5.9-2.1 6.1-1.4 6.2-0.9 6.2-0.3 6.8 0.3 6.6 1 6.5 1.7 6.3 2.4 6.1 3 5.6 3.6 5.3 4.2 4.9 4.7 4.4 5.1 4 5.4 3.4 5.8 2.9 6.1 2.3 6.3 1.8 6.5 1.1 6.7z"/><use href="#t3_12" fill="none" stroke="#327396" stroke-width="0.58"/>
<path id="t3_13" d="M213.4 101l-0.3 5.5-0.8 5.5-1.3 5.4-2 5.2-2.4 5-3 4.6-3.4 4.4-3.9 4-4.3 3.5-4.6 3.1-4.9 2.7-5.1 2.1-5.3 1.7-5.4 1.2-5.5 0.7-5.5 0.3-6.9-0.4-6.8-0.9-6.7-1.6-6.5-2-6.4-2.5-6.1-3-6-3.4-5.6-3.8-5.4-4.3-4.9-4.7-4.4-5.1-3.9-5.6-3.1-6.1-2.4-6.4-1.4-6.7-0.5-6.8 0.4-6.3 1.1-6.1 1.8-6 2.5-5.7 2.9-5.5 3.5-5.1 4-4.8 4.4-4.4 4.8-4 5.1-3.6 5.4-3 5.7-2.6 5.9-2 6-1.5 6.2-0.9 6.2-0.3 6.8 0.4 6.7 1 6.6 1.7 6.3 2.4 6.1 3.1 5.7 3.6 5.3 4.3 4.9 4.7 4.5 5.1 3.9 5.5 3.5 5.8 2.9 6.2 2.4 6.3 1.7 6.6 1.1 6.7z"/><use href="#t3_13" fill="none" stroke="#327396" stroke-width="0.58"/>
<path id="t3_14" d="M211.3 100.8l-0.3 5.5-0.8 5.4-1.3 5.2-1.9 5.2-2.5 4.8-2.9 4.6-3.4 4.3-3.8 3.8-4.2 3.5-4.6 3-4.8 2.6-5 2.1-5.2 1.6-5.4 1.1-5.4 0.7-5.4 0.3-6.9-0.4-6.9-0.9-6.7-1.5-6.6-2.1-6.5-2.5-6.2-2.9-6.1-3.3-5.7-3.8-5.5-4.2-5.1-4.6-4.6-5.1-4-5.6-3.2-6.1-2.5-6.5-1.5-6.7-0.4-6.9 0.4-6.2 1.1-6.1 1.8-5.9 2.5-5.7 3-5.5 3.5-5.1 4-4.7 4.4-4.4 4.8-4 5.1-3.5 5.4-3 5.7-2.6 5.9-2 6-1.4 6.2-0.9 6.2-0.3 6.8 0.3 6.8 1.1 6.6 1.7 6.4 2.5 6.1 3.1 5.7 3.7 5.4 4.2 4.9 4.8 4.5 5.1 3.9 5.6 3.5 5.9 3 6.2 2.4 6.4 1.8 6.6 1.1 6.7z"/><use href="#t3_14" fill="none" stroke="#327396" stroke-width="0.58"/>
<path id="t3_15" d="M209.1 100.7l-0.2 5.3-0.8 5.3-1.3 5.2-1.9 5-2.4 4.8-2.9 4.5-3.4 4.1-3.8 3.8-4.1 3.4-4.5 2.9-4.7 2.5-5 2-5.1 1.5-5.2 1.1-5.3 0.7-5.4 0.2-6.9-0.3-6.9-1-6.9-1.5-6.6-2-6.6-2.5-6.3-2.9-6.1-3.2-5.9-3.7-5.6-4.2-5.3-4.5-4.7-5.1-4.1-5.6-3.4-6-2.6-6.5-1.5-6.8-0.5-7 0.4-6.2 1.1-6 1.9-5.9 2.5-5.7 3-5.4 3.6-5.1 4-4.7 4.4-4.3 4.8-3.9 5.1-3.5 5.5-3 5.6-2.5 5.9-2 6-1.4 6.2-0.9 6.1-0.3 6.9 0.3 6.8 1.1 6.7 1.8 6.4 2.4 6.2 3.2 5.7 3.7 5.4 4.3 5 4.8 4.4 5.2 4.1 5.6 3.5 5.9 2.9 6.3 2.5 6.4 1.8 6.6 1.1 6.8z"/><use href="#t3_15" fill="none" stroke="#327396" stroke-width="0.58"/>
<path id="t3_16" d="M207 100.6l-0.3 5.3-0.8 5.1-1.3 5.1-1.8 4.9-2.4 4.7-2.8 4.3-3.4 4.1-3.7 3.6-4.1 3.3-4.4 2.8-4.6 2.4-4.9 1.9-5 1.5-5.1 1.1-5.2 0.6-5.3 0.2-7-0.3-7-1-6.8-1.5-6.8-2-6.6-2.4-6.4-2.9-6.3-3.2-6-3.6-5.8-4.1-5.3-4.5-4.9-5-4.3-5.5-3.6-6.1-2.6-6.5-1.6-6.9-0.6-7 0.5-6.1 1.1-6.1 1.9-5.9 2.6-5.6 3.1-5.3 3.5-5.1 4.1-4.6 4.4-4.3 4.8-3.9 5.2-3.4 5.4-3 5.6-2.5 5.9-1.9 6-1.5 6.1-0.8 6.2-0.3 6.9 0.3 6.8 1.1 6.8 1.8 6.4 2.5 6.2 3.2 5.8 3.7 5.4 4.4 5 4.8 4.5 5.3 4 5.7 3.6 5.9 3 6.3 2.5 6.5 1.8 6.7 1.2 6.8z"/><use href="#t3_16" fill="none" stroke="#327396" stroke-width="0.58"/>
</g>
<g clip-path="url(#h3)" fill="none" stroke-linejoin="round"><use href="#hp3" stroke="#2f8f86" stroke-width="13" opacity="0.22"/><use href="#hp3" stroke="#2c8a8c" stroke-width="7" opacity="0.3"/><use href="#hp3" stroke="#2a7aa0" stroke-width="3.2" opacity="0.45"/></g>
<use href="#hp3" fill="none" stroke="#2060c4" stroke-width="1.25" stroke-linejoin="round"/>
<defs><path id="s3" d="M204.8 100.6l-0.3 5.1-0.7 5-1.3 5-1.8 4.8-2.3 4.5-2.9 4.3-3.2 3.9-3.7 3.5-4 3.2-4.4 2.7-4.6 2.3-4.7 1.8-4.9 1.5-5 0.9-5.1 0.6-5.1 0.2-7.1-0.3-7.1-0.9-6.9-1.6-6.8-1.9-6.7-2.4-6.5-2.8-6.4-3.2-6.2-3.5-5.9-4-5.5-4.4-5.1-5-4.4-5.5-3.7-6.1-2.8-6.5-1.7-6.9-0.5-7.1 0.4-6.2 1.2-6 2-5.8 2.5-5.6 3.2-5.3 3.6-5 4.1-4.6 4.4-4.2 4.8-3.8 5.2-3.4 5.4-3 5.6-2.4 5.8-2 6-1.4 6.1-0.8 6.1-0.3 7 0.3 6.9 1.1 6.8 1.9 6.5 2.5 6.2 3.2 5.9 3.8 5.4 4.4 5 4.9 4.5 5.3 4.1 5.7 3.6 6 3 6.3 2.5 6.6 1.9 6.7 1.2 6.9z"/><clipPath id="c3"><use href="#s3"/></clipPath></defs>
<use href="#s3" fill="#b0d03c"/>
<g clip-path="url(#c3)">
<use href="#s3" transform="translate(0 0) scale(1.000)" fill="#c4d628"/>
<use href="#s3" transform="translate(1.8 1.3) scale(0.986)" fill="#f3db09"/>
<use href="#s3" transform="translate(3.6 2.7) scale(0.971)" fill="#ffd902"/>
<use href="#s3" transform="translate(5.4 4) scale(0.957)" fill="#ffd802"/>
<use href="#s3" transform="translate(7.3 5.3) scale(0.943)" fill="#ffd702"/>
<use href="#s3" transform="translate(9.1 6.7) scale(0.929)" fill="#ffd602"/>
<use href="#s3" transform="translate(12.7 9.4) scale(0.900)" fill="#ffd502"/>
<use href="#s3" transform="translate(18.1 13.4) scale(0.857)" fill="#ffd402"/>
<use href="#s3" transform="translate(21.8 16) scale(0.829)" fill="#ffd302"/>
<use href="#s3" transform="translate(25.4 18.7) scale(0.800)" fill="#ffd002"/>
<use href="#s3" transform="translate(27.2 20.1) scale(0.786)" fill="#ffca03"/>
<use href="#s3" transform="translate(29 21.4) scale(0.771)" fill="#ffc603"/>
<use href="#s3" transform="translate(30.8 22.7) scale(0.757)" fill="#ffc503"/>
<use href="#s3" transform="translate(38.1 28.1) scale(0.700)" fill="#ffc703"/>
<use href="#s3" transform="translate(39.9 29.4) scale(0.686)" fill="#ffcb04"/>
<use href="#s3" transform="translate(41.7 30.8) scale(0.671)" fill="#ffce04"/>
<use href="#s3" transform="translate(43.5 32.1) scale(0.657)" fill="#ffd004"/>
<use href="#s3" transform="translate(47.1 34.8) scale(0.629)" fill="#ffcf04"/>
<use href="#s3" transform="translate(52.6 38.8) scale(0.586)" fill="#ffc804"/>
<use href="#s3" transform="translate(54.4 40.1) scale(0.571)" fill="#ffc203"/>
<use href="#s3" transform="translate(56.2 41.5) scale(0.557)" fill="#ffbb03"/>
<use href="#s3" transform="translate(58 42.8) scale(0.543)" fill="#ffb803"/>
<use href="#s3" transform="translate(68.9 50.8) scale(0.457)" fill="#ffb903"/>
<use href="#s3" transform="translate(70.7 52.1) scale(0.443)" fill="#ffbf04"/>
<use href="#s3" transform="translate(72.5 53.5) scale(0.429)" fill="#ffc505"/>
<use href="#s3" transform="translate(74.3 54.8) scale(0.414)" fill="#ffc906"/>
<use href="#s3" transform="translate(78 57.5) scale(0.386)" fill="#ffc806"/>
<use href="#s3" transform="translate(83.4 61.5) scale(0.343)" fill="#ffc706"/>
<use href="#s3" transform="translate(87 64.2) scale(0.314)" fill="#ffc305"/>
<use href="#s3" transform="translate(88.8 65.5) scale(0.300)" fill="#ffb704"/>
<use href="#s3" transform="translate(90.6 66.9) scale(0.286)" fill="#ffac02"/>
</g>
<g transform="translate(126.9 93.6)">
<path d="M-19.1 2.3C-19.6 -0.3 -18.8 -3.6 -17.2 -6.2C-15.7 -8.8 -12.9 -11.5 -9.8 -13C-6.7 -14.6 -2 -15.4 1.6 -15.4C5.2 -15.4 8.9 -14.5 11.9 -13C14.8 -11.6 17.5 -9.2 19.3 -6.8C21 -4.3 22.2 -1.1 22.3 1.8C22.5 4.6 22 7.9 20.4 10.3C18.9 12.7 16.1 14.8 13 16C9.9 17.3 5 17.9 1.6 17.8C-1.8 17.7 -4.9 16.8 -7.5 15.4C-10.2 14.1 -12.4 11.9 -14.4 9.7C-16.3 7.6 -18.7 5 -19.1 2.3z" fill="#ff9c00"/>
<path d="M-18.7 1.5C-19.1 -1 -18.3 -4.1 -16.9 -6.5C-15.4 -8.9 -12.9 -11.4 -10 -12.8C-7.1 -14.3 -2.8 -15.1 0.6 -15.1C4 -15.1 7.4 -14.2 10.1 -12.8C12.9 -11.5 15.4 -9.3 17 -7C18.7 -4.7 19.7 -1.7 19.9 0.9C20.1 3.6 19.5 6.7 18.1 8.9C16.6 11.1 14.1 13 11.2 14.2C8.3 15.3 3.8 16 0.6 15.9C-2.6 15.8 -5.4 14.9 -7.9 13.7C-10.4 12.4 -12.4 10.4 -14.2 8.3C-16 6.3 -18.3 3.9 -18.7 1.5z" fill="#f07206"/>
<path d="M-18.2 1C-18.6 -1.3 -17.9 -4.2 -16.5 -6.5C-15.1 -8.8 -12.8 -11.2 -10 -12.5C-7.2 -13.8 -3.2 -14.6 0 -14.6C3.2 -14.6 6.4 -13.8 9 -12.5C11.6 -11.2 14 -9.2 15.5 -7C17 -4.8 18 -2 18.2 0.5C18.4 3 17.9 5.9 16.5 8C15.1 10.1 12.8 11.9 10 13C7.2 14.1 3 14.7 0 14.6C-3 14.5 -5.7 13.7 -8 12.5C-10.3 11.3 -12.3 9.4 -14 7.5C-15.7 5.6 -17.8 3.3 -18.2 1z" fill="#9c1410"/>
<path d="M-14.2 0C-14 -2 -14 -4.7 -12.5 -6.4C-11 -8.1 -7.6 -9.5 -5 -10C-2.4 -10.5 0.8 -10.2 3 -9.4C5.2 -8.6 7 -6.6 8 -5C9 -3.4 9.5 -1.6 8.8 0C8.1 1.6 6 3.3 4 4.6C2 5.9 -0.7 6.9 -3 7.6C-5.3 8.3 -8.2 9.2 -10 8.8C-11.8 8.4 -13.1 6.9 -13.8 5.4C-14.5 3.9 -14.4 2 -14.2 0z" fill="#f28a0a"/>
<path d="M-5.8 9.3C-6.2 9.2 -7.6 8.8 -8.4 8.5C-9.3 8.2 -10 7.7 -10.7 7.2C-11.4 6.7 -12 6.2 -12.5 5.6C-13 5 -13.4 4.3 -13.7 3.6C-14 2.9 -14.2 2.2 -14.2 1.4C-14.3 0.7 -14.3 -0.1 -14.1 -0.8C-13.9 -1.6 -13.7 -2.4 -13.3 -3.1C-12.9 -3.8 -12.4 -4.6 -11.9 -5.2C-11.3 -5.9 -10.6 -6.5 -9.9 -7.1C-9.1 -7.7 -7.8 -8.4 -7.4 -8.7" fill="none" stroke="#9c1410" stroke-width="0.9"/>
<path d="M-5.1 7.8C-5.4 7.7 -6.6 7.4 -7.3 7.2C-8 6.9 -8.7 6.5 -9.3 6.1C-9.8 5.7 -10.4 5.2 -10.8 4.7C-11.2 4.2 -11.6 3.6 -11.8 3C-12 2.4 -12.2 1.8 -12.3 1.1C-12.3 0.5 -12.3 -0.2 -12.1 -0.8C-12 -1.4 -11.8 -2.1 -11.5 -2.7C-11.1 -3.3 -10.7 -4 -10.2 -4.5C-9.8 -5.1 -9.2 -5.6 -8.5 -6.1C-7.9 -6.6 -6.8 -7.2 -6.5 -7.4" fill="none" stroke="#9c1410" stroke-width="0.9"/>
<path d="M-4.3 6.4C-4.7 6.3 -5.6 6 -6.2 5.8C-6.8 5.6 -7.3 5.3 -7.8 4.9C-8.3 4.6 -8.7 4.2 -9.1 3.8C-9.4 3.3 -9.7 2.9 -9.9 2.4C-10.1 1.9 -10.2 1.4 -10.3 0.9C-10.3 0.3 -10.3 -0.2 -10.2 -0.7C-10.1 -1.3 -9.9 -1.8 -9.6 -2.3C-9.4 -2.8 -9 -3.4 -8.6 -3.8C-8.2 -4.3 -7.7 -4.7 -7.2 -5.1C-6.7 -5.5 -5.8 -6 -5.5 -6.2" fill="none" stroke="#9c1410" stroke-width="0.9"/>
<path d="M-10.5 1C-10.4 -0.8 -9.9 -3.4 -8.5 -5C-7.1 -6.6 -4.2 -8.2 -2 -8.6C0.2 -9 2.9 -8.4 4.5 -7.6C6.1 -6.8 7.1 -4.9 7.6 -3.5C8 -2.1 8.1 -0.4 7.2 0.8C6.4 2 4.3 3.1 2.5 4C0.7 4.9 -1.6 6.1 -3.5 6.4C-5.4 6.7 -7.8 6.9 -9 6C-10.2 5.1 -10.6 2.8 -10.5 1z" fill="#ffc414"/>
</g>
<rect x="0" y="0" width="246.8" height="246.8" fill="none" stroke="#a4a4a4" stroke-width="0.85"/>
</g>
<text x="294.5" y="288.3" font-family="'Liberation Serif',serif" font-size="10.6" letter-spacing="0.3" fill="#141414">3D Downstream</text>
<g font-family="'Liberation Sans',sans-serif" font-size="9" fill="#2e2e2e">
<text x="290" y="527.1" text-anchor="end">0</text>
<text x="290" y="482.2" text-anchor="end">10</text>
<text x="290" y="437.4" text-anchor="end">20</text>
<text x="290" y="392.5" text-anchor="end">30</text>
<text x="290" y="347.6" text-anchor="end">40</text>
<text x="290" y="302.7" text-anchor="end">50</text>
<text x="291.8" y="533.9" text-anchor="middle">-40</text>
<text x="359.1" y="533.9" text-anchor="middle">-25</text>
<text x="426.4" y="533.9" text-anchor="middle">-10</text>
<text x="493.7" y="533.9" text-anchor="middle">5</text>
<text x="538.6" y="533.9" text-anchor="middle">15</text>
<text x="410.3" y="535.3" text-anchor="middle">[m]</text>
<text transform="translate(282.2 404.7) rotate(-90)" text-anchor="middle">[m]</text>
</g>
<g transform="translate(23.5 545.4)">
<path d="M67.3 0V246.8M134.6 0V246.8M201.9 0V246.8M0 201.9H246.8M0 157.1H246.8M0 112.2H246.8M0 67.3H246.8M0 22.4H246.8" stroke="#efefef" stroke-width="0.8" fill="none"/>
<path d="M179.5 246.8V169" stroke="#0a0a0a" stroke-width="1.7" fill="none"/>
<defs><path id="hp4" d="M51 83.4l0.5-7 0.8-5.8 1-5.7 1.5-5.7 2-5.4 2.7-5.2 3.3-4.7 3.9-4.4 4.4-3.9 4.7-3.4 5-2.9 5.3-2.5 5.5-1.9 5.6-1.5 5.7-1.2 5.8-0.6 5.8-0.3 7.4 0.3 7.4 1.2 7.1 1.8 2.5 0.7 2.3 0.7 2.4 0.8 4.8 1.4 2.3 0.8 2.3 0.7 2.3 0.8 4.6 1.5 2.3 0.7 4.5 1.5 2.2 0.8 2.2 0.7 2.2 0.8 2.2 0.8 2.2 0.7 2.2 0.8 2.1 0.8 8.2 2.9 2.1 0.8 4.1 1.5 2.1 0.8 2 0.7 5.6 2.7 5.4 3.2 5 3.7 4.6 4.2 4.2 4.6 3.7 5 3.2 5.4 2.7 5.6 2.1 5.9 1.5 6 0.9 6.2 0.3 6.2-0.3 6.2-0.9 6.2-1.5 6-2.1 5.9-2.7 5.6-3.2 5.4-3.7 5-4.2 4.6-4.6 4.2-5 3.7-5.4 3.2-5.6 2.7-5.9 2.1-6 1.5-6.2 0.9-6.2 0.3-6.2-0.3-6.2-0.9-6-1.5-5.9-2.1-13.9-6.2-2-1-18.5-8.5-2.1-1-2.2-1-2.2-1.1-21.6-10.6-2.3-1.1-2.3-1.2-2.3-1.2-2.3-1.2-2.3-1.2-6.1-3.5-5.5-4.3-4.9-4.9-4.2-5.6-3.3-6.2-2-6.6-0.9-7z"/><clipPath id="h4"><use href="#hp4"/></clipPath></defs>
<use href="#hp4" fill="#a2c03a"/>
<path d="M239.7 105l-0.3 6.2-0.9 6.2-1.5 6-2.1 5.9-2.7 5.6-3.2 5.4-3.7 5-4.2 4.6-4.6 4.2-5 3.7-5.4 3.2-5.6 2.7-5.9 2.1-6 1.5-6.2 0.9-6.2 0.3-6.2-0.3-6.2-0.9-6-1.5-5.9-2.1-5.6-2.7-5.4-3.2-5-3.7-4.6-4.2-4.2-4.6-3.7-5-3.2-5.4-2.7-5.6-2.1-5.9-1.5-6-0.9-6.2-0.3-6.2 0.3-6.2 0.9-6.2 1.5-6 2.1-5.9 2.7-5.6 3.2-5.4 3.7-5 4.2-4.6 4.6-4.2 5-3.7 5.4-3.2 5.6-2.7 5.9-2.1 6-1.5 6.2-0.9 6.2-0.3 6.2 0.3 6.2 0.9 6 1.5 5.9 2.1 5.6 2.7 5.4 3.2 5 3.7 4.6 4.2 4.2 4.6 3.7 5 3.2 5.4 2.7 5.6 2.1 5.9 1.5 6 0.9 6.2z" fill="#a2c03a" stroke="#1c5cc4" stroke-width="2.6"/>
<g fill="#e6d410" stroke="#b5ca2d" stroke-width="1.1" stroke-linejoin="round">
<path id="t4_0" d="M239.7 105l-0.3 6.2-0.9 6.2-1.5 6-2.1 5.9-2.7 5.6-3.2 5.4-3.7 5-4.2 4.6-4.6 4.2-5 3.7-5.4 3.2-5.6 2.7-5.9 2.1-6 1.5-6.2 0.9-6.2 0.3-6.2-0.3-6.2-0.9-6-1.5-5.9-2.1-5.6-2.7-5.4-3.2-5-3.7-4.6-4.2-4.2-4.6-3.7-5-3.2-5.4-2.7-5.6-2.1-5.9-1.5-6-0.9-6.2-0.3-6.2 0.3-6.2 0.9-6.2 1.5-6 2.1-5.9 2.7-5.6 3.2-5.4 3.7-5 4.2-4.6 4.6-4.2 5-3.7 5.4-3.2 5.6-2.7 5.9-2.1 6-1.5 6.2-0.9 6.2-0.3 6.2 0.3 6.2 0.9 6 1.5 5.9 2.1 5.6 2.7 5.4 3.2 5 3.7 4.6 4.2 4.2 4.6 3.7 5 3.2 5.4 2.7 5.6 2.1 5.9 1.5 6 0.9 6.2z"/><use href="#t4_0" fill="none" stroke="#327396" stroke-width="0.58"/>
<path id="t4_1" d="M238 104.6l-0.3 6.2-0.9 6.1-1.6 6-2 5.9-2.7 5.6-3.2 5.3-3.7 5-4.1 4.6-4.7 4.1-5 3.7-5.3 3.1-5.7 2.6-6 2-6.1 1.4-6.2 0.8-6.3 0.3-6.2-0.3-6.2-0.8-6-1.5-5.9-2-5.7-2.6-5.4-3.1-5-3.7-4.7-4.1-4.2-4.7-3.8-5-3.2-5.3-2.7-5.7-2.1-5.9-1.5-6.1-0.9-6.2-0.2-6.2 0.3-6.2 0.9-6.2 1.5-6 2.1-5.9 2.7-5.6 3.2-5.4 3.7-5 4.2-4.6 4.6-4.1 5-3.7 5.4-3.2 5.6-2.7 5.9-2.1 6-1.5 6.2-0.9 6.2-0.3 6.3 0.3 6.2 0.9 6.1 1.6 5.9 2.1 5.6 2.7 5.4 3.2 5 3.7 4.7 4.2 4.2 4.7 3.8 5 3.2 5.4 2.7 5.6 2.1 5.9 1.5 6.1 1 6.2z"/><use href="#t4_1" fill="none" stroke="#327396" stroke-width="0.58"/>
<path id="t4_2" d="M236.3 104.1l-0.4 6.2-0.9 6.1-1.5 6-2.1 5.8-2.6 5.6-3.2 5.3-3.6 5-4.2 4.6-4.6 4.1-5 3.6-5.4 3.1-5.8 2.4-6 1.9-6.1 1.2-6.3 0.8-6.3 0.3-6.3-0.3-6.2-0.8-6-1.3-5.9-1.9-5.7-2.5-5.5-3.1-5.1-3.7-4.7-4.1-4.2-4.6-3.8-5.1-3.3-5.3-2.7-5.7-2.1-5.9-1.5-6.1-0.8-6.3-0.3-6.2 0.3-6.3 1-6.1 1.5-6.1 2.1-5.8 2.6-5.6 3.3-5.4 3.7-5 4.2-4.6 4.6-4.1 5-3.7 5.4-3.2 5.6-2.6 5.9-2.1 6-1.5 6.2-0.9 6.2-0.3 6.3 0.3 6.3 0.9 6.1 1.6 5.9 2.1 5.7 2.7 5.4 3.2 5.1 3.8 4.7 4.2 4.2 4.7 3.8 5.1 3.3 5.4 2.7 5.6 2.1 6 1.6 6.1 0.9 6.2z"/><use href="#t4_2" fill="none" stroke="#327396" stroke-width="0.58"/>
<path id="t4_3" d="M234.5 103.7l-0.3 6.1-0.9 6.1-1.5 6-2.1 5.8-2.6 5.6-3.1 5.3-3.7 4.9-4.1 4.6-4.6 4-5.1 3.6-5.4 3-5.8 2.3-6.1 1.7-6.2 1.2-6.3 0.7-6.4 0.2-6.3-0.3-6.2-0.7-6.1-1.2-5.9-1.8-5.7-2.4-5.5-3-5.1-3.6-4.8-4.2-4.3-4.6-3.8-5-3.3-5.4-2.7-5.7-2.1-6-1.5-6.1-0.8-6.3-0.3-6.3 0.4-6.2 0.9-6.1 1.5-6.1 2.1-5.8 2.7-5.7 3.2-5.3 3.8-5 4.2-4.5 4.6-4.2 5-3.7 5.4-3.1 5.6-2.6 5.9-2.1 6-1.5 6.2-0.9 6.2-0.3 6.3 0.3 6.3 0.9 6.2 1.6 6 2.1 5.7 2.8 5.4 3.2 5.1 3.8 4.8 4.3 4.2 4.6 3.8 5.1 3.3 5.5 2.8 5.7 2.2 5.9 1.6 6.2 0.9 6.3z"/><use href="#t4_3" fill="none" stroke="#327396" stroke-width="0.58"/>
<path id="t4_4" d="M232.8 103.3l-0.3 6.1-1 6.1-1.4 5.9-2.1 5.8-2.6 5.5-3.1 5.3-3.7 4.9-4.1 4.5-4.6 4-5 3.5-5.4 2.9-6 2.3-6.1 1.5-6.2 1.1-6.4 0.6-6.5 0.2-6.3-0.3-6.2-0.6-6.1-1.2-5.9-1.6-5.8-2.3-5.5-3-5.2-3.6-4.8-4.1-4.3-4.6-3.9-5-3.3-5.4-2.7-5.8-2.1-5.9-1.5-6.2-0.8-6.3-0.2-6.3 0.3-6.2 1-6.2 1.5-6 2.1-5.9 2.6-5.6 3.3-5.3 3.7-5 4.2-4.5 4.7-4.2 5-3.6 5.4-3.2 5.6-2.6 5.9-2 6-1.5 6.2-0.9 6.2-0.3 6.4 0.3 6.3 1 6.2 1.5 6 2.2 5.8 2.7 5.4 3.3 5.2 3.8 4.7 4.3 4.3 4.7 3.9 5.1 3.3 5.5 2.8 5.7 2.2 6 1.6 6.2 1 6.3z"/><use href="#t4_4" fill="none" stroke="#327396" stroke-width="0.58"/>
<path id="t4_5" d="M231.1 102.9l-0.4 6-0.9 6.1-1.5 5.9-2 5.7-2.6 5.5-3.1 5.3-3.6 4.9-4.1 4.5-4.6 3.9-5 3.5-5.5 2.8-6 2.1-6.2 1.4-6.3 0.9-6.4 0.5-6.6 0.2-6.3-0.2-6.2-0.6-6.1-1-6-1.6-5.7-2.2-5.6-2.8-5.3-3.6-4.8-4.1-4.4-4.6-3.9-5.1-3.3-5.4-2.8-5.7-2.1-6-1.4-6.2-0.8-6.3-0.2-6.4 0.4-6.2 0.9-6.1 1.5-6.1 2.1-5.8 2.7-5.6 3.2-5.3 3.8-5 4.2-4.5 4.6-4.1 5.1-3.7 5.3-3.1 5.7-2.6 5.8-2 6.1-1.5 6.1-0.9 6.2-0.3 6.5 0.3 6.3 1 6.2 1.5 6.1 2.2 5.8 2.8 5.5 3.3 5.2 3.8 4.8 4.3 4.3 4.7 3.9 5.2 3.4 5.5 2.8 5.7 2.2 6.1 1.7 6.2 1 6.3z"/><use href="#t4_5" fill="none" stroke="#327396" stroke-width="0.58"/>
<path id="t4_6" d="M229.3 102.4l-0.3 6.1-0.9 6-1.5 5.9-2 5.7-2.6 5.5-3.1 5.2-3.6 4.9-4.1 4.4-4.6 3.9-5 3.4-5.5 2.7-6.1 2-6.2 1.3-6.4 0.8-6.5 0.4-6.6 0.1-6.3-0.2-6.2-0.5-6.1-0.9-6-1.5-5.8-2-5.7-2.8-5.3-3.5-4.8-4.1-4.5-4.7-3.9-5-3.4-5.4-2.8-5.8-2-6-1.5-6.3-0.7-6.3-0.2-6.4 0.4-6.2 0.9-6.1 1.5-6 2.1-5.9 2.7-5.6 3.3-5.3 3.7-4.9 4.2-4.5 4.7-4.1 5-3.6 5.4-3.1 5.6-2.6 5.9-2 6-1.5 6.2-0.9 6.2-0.3 6.4 0.3 6.4 1 6.3 1.6 6.1 2.2 5.9 2.7 5.5 3.4 5.2 3.8 4.8 4.3 4.4 4.8 3.9 5.2 3.4 5.5 2.9 5.8 2.2 6 1.7 6.3 1 6.4z"/><use href="#t4_6" fill="none" stroke="#327396" stroke-width="0.58"/>
<path id="t4_7" d="M227.6 102l-0.4 6-0.9 6-1.5 5.8-2 5.7-2.5 5.5-3.1 5.2-3.5 4.8-4.1 4.4-4.6 3.9-5 3.3-5.5 2.7-6.2 1.8-6.3 1.1-6.4 0.7-6.6 0.3-6.7 0-6.3-0.1-6.2-0.4-6.2-0.8-6-1.4-5.8-1.9-5.7-2.7-5.3-3.5-5-4.1-4.4-4.6-4-5-3.4-5.5-2.8-5.8-2.1-6-1.4-6.3-0.7-6.4-0.2-6.4 0.4-6.2 0.9-6.1 1.6-6 2.1-5.8 2.6-5.6 3.3-5.3 3.7-4.9 4.3-4.5 4.6-4.1 5.1-3.6 5.3-3.1 5.7-2.5 5.8-2.1 6.1-1.4 6.1-0.9 6.2-0.3 6.5 0.3 6.4 1 6.4 1.6 6.1 2.2 5.9 2.8 5.6 3.3 5.2 3.9 4.9 4.4 4.4 4.8 3.9 5.1 3.4 5.6 2.9 5.8 2.3 6.1 1.7 6.3 1.1 6.4z"/><use href="#t4_7" fill="none" stroke="#327396" stroke-width="0.58"/>
<path id="t4_8" d="M225.8 101.6l-0.3 6-1 5.9-1.4 5.8-2 5.7-2.5 5.4-3 5.2-3.6 4.8-4.1 4.4-4.6 3.8-4.9 3.2-5.6 2.6-6.2 1.7-6.4 0.9-6.5 0.5-6.6 0.2-6.8 0.1-6.3-0.1-6.3-0.4-6.1-0.7-6-1.2-5.9-1.8-5.7-2.7-5.4-3.4-5-4.1-4.5-4.6-4-5-3.5-5.4-2.8-5.9-2.1-6.1-1.4-6.3-0.7-6.4-0.1-6.4 0.4-6.2 1-6.1 1.5-6 2.1-5.8 2.6-5.6 3.3-5.3 3.8-4.9 4.2-4.4 4.7-4.1 5-3.6 5.4-3 5.6-2.6 5.9-2 6-1.4 6.1-0.9 6.2-0.3 6.6 0.3 6.4 1 6.4 1.6 6.2 2.2 5.9 2.9 5.6 3.3 5.3 3.9 4.9 4.4 4.4 4.8 4 5.2 3.5 5.6 2.9 5.9 2.4 6.1 1.7 6.3 1 6.5z"/><use href="#t4_8" fill="none" stroke="#327396" stroke-width="0.58"/>
<path id="t4_9" d="M224.1 101.2l-0.4 6-0.9 5.8-1.5 5.8-1.9 5.6-2.5 5.4-3 5.1-3.6 4.8-4 4.4-4.6 3.7-5 3.2-5.5 2.4-6.4 1.6-6.4 0.8-6.6 0.3-6.7 0.1-6.8 0-6.3 0-6.3-0.3-6.2-0.6-6-1.1-5.9-1.7-5.8-2.5-5.4-3.4-5.1-4-4.5-4.6-4.1-5.1-3.5-5.4-2.8-5.9-2.1-6.1-1.3-6.3-0.7-6.5-0.1-6.4 0.4-6.2 1-6.1 1.5-6 2.1-5.8 2.7-5.6 3.2-5.2 3.8-4.9 4.2-4.5 4.7-4 5.1-3.5 5.3-3.1 5.7-2.5 5.8-2 6-1.4 6.1-0.9 6.2-0.3 6.6 0.4 6.5 0.9 6.4 1.7 6.2 2.2 6 2.8 5.7 3.4 5.3 3.9 4.9 4.4 4.5 4.9 4 5.2 3.5 5.6 3 5.9 2.3 6.1 1.8 6.4 1.1 6.5z"/><use href="#t4_9" fill="none" stroke="#327396" stroke-width="0.58"/>
<path id="t4_10" d="M222.3 100.8l-0.4 5.9-0.9 5.8-1.4 5.8-2 5.5-2.4 5.4-3 5.1-3.5 4.8-4.1 4.3-4.5 3.7-5 3-5.6 2.4-6.4 1.4-6.5 0.6-6.6 0.2-6.8 0-6.9 0-6.4-0.1-6.3-0.2-6.1-0.4-6-0.9-6-1.6-5.8-2.5-5.6-3.3-5-4-4.6-4.6-4.1-5.1-3.6-5.4-2.8-5.9-2.1-6.2-1.3-6.3-0.7-6.5 0-6.5 0.4-6.1 1-6.1 1.5-6 2.1-5.8 2.6-5.5 3.3-5.3 3.8-4.8 4.2-4.5 4.7-4 5.1-3.5 5.3-3 5.7-2.5 5.8-2 6-1.4 6.1-0.9 6.2-0.3 6.6 0.4 6.6 1 6.4 1.6 6.3 2.2 6 2.9 5.7 3.4 5.3 3.9 5 4.5 4.5 4.8 4.1 5.3 3.5 5.6 3 5.9 2.4 6.2 1.8 6.4 1.1 6.6z"/><use href="#t4_10" fill="none" stroke="#327396" stroke-width="0.58"/>
<path id="t4_11" d="M220.5 100.4l-0.3 5.9-1 5.8-1.4 5.6-1.9 5.6-2.5 5.3-2.9 5.1-3.5 4.7-4 4.2-4.6 3.7-4.9 3-5.7 2.2-6.5 1.3-6.6 0.5-6.6 0-6.9-0.2-6.9 0-6.4 0-6.3-0.1-6.1-0.4-6.1-0.7-6-1.5-5.9-2.4-5.6-3.3-5.1-4-4.6-4.5-4.2-5.1-3.6-5.5-2.8-5.8-2.1-6.2-1.3-6.4-0.6-6.5-0.1-6.6 0.5-6.1 0.9-6.1 1.5-5.9 2.1-5.8 2.7-5.5 3.3-5.3 3.8-4.8 4.3-4.4 4.6-4 5.1-3.5 5.4-3 5.6-2.4 5.8-2 6-1.4 6.1-0.8 6.1-0.3 6.7 0.3 6.6 1 6.5 1.6 6.3 2.3 6.1 2.9 5.7 3.4 5.4 4 5 4.4 4.6 4.9 4.1 5.3 3.5 5.6 3.1 6 2.4 6.2 1.8 6.4 1.1 6.6z"/><use href="#t4_11" fill="none" stroke="#327396" stroke-width="0.58"/>
<path id="t4_12" d="M218.8 100l-0.4 5.8-0.9 5.8-1.5 5.6-1.9 5.5-2.4 5.3-2.9 5-3.5 4.7-4 4.2-4.5 3.6-5 2.9-5.6 2.2-6.6 1.1-6.7 0.2-6.7-0.1-6.9-0.3-7.1-0.1-6.4 0.1-6.2-0.1-6.2-0.2-6.1-0.6-6-1.3-6-2.3-5.6-3.2-5.2-4-4.7-4.6-4.2-5-3.6-5.5-2.9-5.9-2-6.2-1.3-6.4-0.6-6.6 0-6.5 0.5-6.1 0.9-6.1 1.5-6 2.1-5.7 2.7-5.5 3.3-5.2 3.8-4.8 4.2-4.4 4.7-4 5.1-3.5 5.4-2.9 5.6-2.5 5.8-1.9 6-1.4 6.1-0.8 6.1-0.3 6.7 0.3 6.7 1 6.5 1.7 6.3 2.3 6.1 2.8 5.8 3.5 5.4 4 5.1 4.5 4.6 4.9 4.1 5.3 3.6 5.7 3.1 5.9 2.5 6.3 1.8 6.5 1.2 6.6z"/><use href="#t4_12" fill="none" stroke="#327396" stroke-width="0.58"/>
<path id="t4_13" d="M217 99.6l-0.4 5.8-0.9 5.7-1.4 5.6-1.9 5.4-2.4 5.3-2.9 5-3.4 4.6-4 4.2-4.6 3.5-4.9 2.8-5.7 2-6.7 1-6.7 0.1-6.8-0.3-7-0.4-7.1-0.1-6.4 0-6.3 0.1-6.2-0.1-6-0.5-6.1-1.2-6-2.1-5.7-3.2-5.3-4-4.7-4.5-4.2-5-3.7-5.5-2.9-5.9-2.1-6.3-1.2-6.5-0.6-6.5 0.1-6.6 0.4-6.1 1-6.1 1.5-5.9 2.1-5.8 2.7-5.5 3.3-5.1 3.8-4.8 4.2-4.4 4.7-3.9 5.1-3.4 5.3-3 5.7-2.4 5.8-1.9 5.9-1.4 6.1-0.8 6.1-0.3 6.8 0.3 6.7 1 6.6 1.7 6.4 2.3 6.1 2.9 5.8 3.5 5.5 4 5 4.5 4.7 4.9 4.2 5.4 3.6 5.7 3.1 6 2.6 6.3 1.9 6.5 1.1 6.7z"/><use href="#t4_13" fill="none" stroke="#327396" stroke-width="0.58"/>
<path id="t4_14" d="M215.2 99.3l-0.4 5.7-0.9 5.6-1.4 5.6-1.9 5.4-2.3 5.2-2.9 4.9-3.4 4.6-4 4.1-4.5 3.5-4.9 2.7-5.7 1.9-6.8 0.8-6.8-0.1-6.9-0.5-7-0.5-7.2-0.2-6.5 0.1-6.3 0.2-6.1 0.1-6.1-0.4-6.1-1-6.1-2.1-5.8-3.1-5.2-3.9-4.8-4.6-4.3-5-3.7-5.5-2.9-5.9-2.1-6.3-1.3-6.5-0.5-6.6 0.1-6.6 0.5-6.1 1-6 1.5-6 2-5.7 2.7-5.5 3.3-5.1 3.8-4.8 4.3-4.3 4.7-3.9 5.1-3.4 5.3-2.9 5.6-2.4 5.8-1.9 6-1.3 6-0.9 6.1-0.3 6.9 0.4 6.7 1 6.6 1.7 6.5 2.3 6.1 2.9 5.9 3.5 5.5 4 5.1 4.6 4.7 4.9 4.2 5.4 3.7 5.7 3.2 6.1 2.5 6.3 2 6.5 1.1 6.7z"/><use href="#t4_14" fill="none" stroke="#327396" stroke-width="0.58"/>
<path id="t4_15" d="M213.4 98.9l-0.4 5.6-0.9 5.6-1.4 5.5-1.9 5.4-2.3 5.1-2.8 5-3.4 4.5-3.9 4.1-4.5 3.4-4.9 2.6-5.8 1.8-6.9 0.6-6.9-0.3-6.9-0.7-7.1-0.6-7.3-0.2-6.4 0.1-6.3 0.3-6.2 0.2-6.1-0.2-6.1-0.9-6.2-2-5.8-3-5.3-3.9-4.9-4.5-4.3-5.1-3.8-5.5-2.9-5.9-2.1-6.3-1.2-6.6-0.5-6.6 0.1-6.7 0.5-6 1-6 1.5-5.9 2.1-5.8 2.7-5.4 3.3-5.1 3.8-4.8 4.3-4.3 4.7-3.8 5-3.4 5.4-2.9 5.6-2.4 5.8-1.8 5.9-1.3 6.1-0.9 6.1-0.2 6.8 0.3 6.8 1 6.7 1.7 6.4 2.3 6.3 3 5.9 3.5 5.5 4.1 5.2 4.5 4.7 5 4.2 5.4 3.8 5.7 3.2 6.1 2.6 6.4 1.9 6.5 1.2 6.8z"/><use href="#t4_15" fill="none" stroke="#327396" stroke-width="0.58"/>
<path id="t4_16" d="M211.6 98.5l-0.4 5.6-0.9 5.5-1.4 5.5-1.8 5.3-2.3 5.1-2.8 4.9-3.4 4.5-3.9 4-4.5 3.3-4.9 2.5-5.7 1.7-7 0.5-7-0.5-7-0.9-7.2-0.7-7.3-0.3-6.5 0.1-6.3 0.4-6.2 0.4-6.1 0-6.1-0.8-6.3-1.8-5.9-3-5.4-3.9-4.9-4.5-4.3-5-3.8-5.6-3-5.9-2.1-6.4-1.1-6.6-0.5-6.6 0.2-6.7 0.5-6 1-6 1.5-5.9 2-5.7 2.7-5.4 3.3-5.1 3.9-4.7 4.2-4.3 4.7-3.9 5.1-3.3 5.4-2.8 5.6-2.4 5.7-1.8 6-1.3 6-0.8 6-0.3 7 0.3 6.8 1.1 6.7 1.7 6.5 2.3 6.3 3 5.9 3.5 5.6 4.1 5.2 4.6 4.8 5 4.3 5.4 3.8 5.8 3.2 6.1 2.7 6.4 1.9 6.6 1.2 6.8z"/><use href="#t4_16" fill="none" stroke="#327396" stroke-width="0.58"/>
<path id="t4_17" d="M209.8 98.1l-0.4 5.6-0.9 5.5-1.4 5.3-1.8 5.3-2.3 5.1-2.7 4.8-3.3 4.5-3.9 3.9-4.5 3.3-4.9 2.4-5.8 1.5-7.1 0.3-7-0.7-7.1-1.1-7.3-0.8-7.4-0.4-6.4 0.2-6.4 0.5-6.2 0.5-6.1 0.2-6.2-0.6-6.3-1.8-5.9-2.9-5.5-3.8-4.9-4.5-4.5-5-3.8-5.6-3-6-2-6.3-1.2-6.7-0.4-6.6 0.2-6.7 0.5-6.1 1-5.9 1.5-5.9 2.1-5.7 2.7-5.4 3.3-5.1 3.8-4.6 4.3-4.3 4.7-3.8 5.1-3.3 5.3-2.8 5.6-2.3 5.8-1.8 5.9-1.3 6-0.8 6-0.3 7 0.4 6.9 1 6.7 1.7 6.6 2.4 6.3 2.9 6 3.6 5.6 4.1 5.2 4.6 4.8 5.1 4.4 5.4 3.8 5.8 3.3 6.1 2.7 6.5 2 6.6 1.2 6.9z"/><use href="#t4_17" fill="none" stroke="#327396" stroke-width="0.58"/>
<path id="t4_18" d="M208 97.8l-0.4 5.5-0.9 5.4-1.4 5.3-1.8 5.2-2.2 5-2.7 4.8-3.3 4.4-3.9 3.9-4.4 3.2-4.9 2.3-5.8 1.4-7.3 0.1-7.1-0.9-7.1-1.3-7.3-1-7.6-0.4-6.4 0.3-6.3 0.6-6.2 0.6-6.2 0.4-6.2-0.5-6.4-1.6-6-2.9-5.5-3.8-5-4.5-4.5-5-3.8-5.5-3.1-6-2-6.4-1.2-6.7-0.3-6.7 0.2-6.7 0.5-6 1-6 1.5-5.8 2.1-5.7 2.7-5.4 3.3-5 3.8-4.6 4.3-4.3 4.7-3.7 5.1-3.3 5.3-2.8 5.6-2.2 5.8-1.8 5.9-1.3 6-0.8 6-0.2 7 0.3 6.9 1 6.8 1.8 6.6 2.3 6.4 3 6 3.6 5.7 4.2 5.2 4.6 4.9 5 4.4 5.5 3.9 5.8 3.3 6.2 2.7 6.5 2.1 6.7 1.2 6.9z"/><use href="#t4_18" fill="none" stroke="#327396" stroke-width="0.58"/>
<path id="t4_19" d="M206.2 97.4l-0.4 5.4-0.9 5.4-1.4 5.3-1.7 5.1-2.2 5-2.7 4.7-3.3 4.4-3.8 3.8-4.5 3.1-4.8 2.2-5.9 1.3-7.3-0.1-7.2-1.2-7.2-1.4-7.4-1.1-7.6-0.5-6.5 0.3-6.3 0.7-6.2 0.8-6.2 0.5-6.2-0.2-6.5-1.6-6-2.8-5.6-3.7-5.1-4.5-4.5-5-3.9-5.5-3.1-6.1-2-6.4-1.1-6.7-0.4-6.7 0.3-6.8 0.6-6 1-5.9 1.4-5.8 2.1-5.7 2.7-5.3 3.3-5 3.9-4.6 4.3-4.2 4.7-3.7 5-3.3 5.4-2.7 5.5-2.3 5.8-1.7 5.9-1.3 5.9-0.7 6-0.3 7.1 0.3 7 1.1 6.8 1.7 6.7 2.4 6.3 3 6.1 3.6 5.7 4.2 5.4 4.6 4.9 5.1 4.4 5.5 3.9 5.9 3.4 6.2 2.8 6.5 2.1 6.7 1.2 7z"/><use href="#t4_19" fill="none" stroke="#327396" stroke-width="0.58"/>
<path id="t4_20" d="M204.4 97l-0.4 5.4-0.9 5.3-1.4 5.2-1.7 5.1-2.2 4.9-2.6 4.7-3.3 4.3-3.8 3.8-4.4 3-4.9 2.1-5.8 1.2-7.5-0.3-7.2-1.4-7.3-1.7-7.5-1.3-7.7-0.4-6.5 0.3-6.3 0.8-6.2 1-6.2 0.7-6.3-0.1-6.5-1.4-6.1-2.8-5.7-3.7-5.1-4.4-4.6-5-3.9-5.6-3.1-6-2.1-6.5-1-6.7-0.3-6.8 0.3-6.8 0.6-5.9 1-5.9 1.5-5.8 2-5.7 2.7-5.3 3.3-5 3.9-4.6 4.3-4.1 4.7-3.7 5.1-3.2 5.3-2.7 5.6-2.2 5.7-1.7 5.8-1.2 6-0.8 6-0.3 7.1 0.4 7 1 6.9 1.8 6.7 2.4 6.4 3 6.1 3.6 5.8 4.2 5.4 4.7 4.9 5.1 4.5 5.5 4 5.9 3.4 6.2 2.8 6.6 2.1 6.8 1.3 6.9z"/><use href="#t4_20" fill="none" stroke="#327396" stroke-width="0.58"/>
<path id="t4_21" d="M202.6 96.7l-0.4 5.3-1 5.2-1.3 5.2-1.7 5-2.1 4.9-2.7 4.6-3.1 4.3-3.8 3.7-4.4 2.9-4.9 2-5.9 1-7.5-0.5-7.4-1.6-7.3-1.9-7.6-1.4-7.8-0.5-6.5 0.3-6.3 0.9-6.2 1.2-6.2 0.9-6.3 0-6.6-1.2-6.2-2.7-5.7-3.7-5.2-4.4-4.6-5-4-5.5-3.1-6.1-2.1-6.5-1-6.8-0.3-6.8 0.4-6.8 0.6-5.9 1-5.9 1.5-5.8 2-5.6 2.7-5.3 3.4-4.9 3.8-4.6 4.3-4.1 4.7-3.6 5.1-3.2 5.3-2.6 5.6-2.2 5.7-1.7 5.8-1.2 5.9-0.8 6-0.2 7.1 0.3 7.1 1.1 6.9 1.8 6.8 2.4 6.5 3 6.1 3.7 5.8 4.2 5.4 4.7 5 5.1 4.6 5.5 4 6 3.5 6.2 2.8 6.6 2.2 6.8 1.3 7z"/><use href="#t4_21" fill="none" stroke="#327396" stroke-width="0.58"/>
<path id="t4_22" d="M200.8 96.3l-0.5 5.3-0.9 5.1-1.3 5.1-1.7 5-2.1 4.8-2.6 4.6-3.1 4.2-3.8 3.6-4.4 2.9-4.8 1.9-5.9 0.8-7.7-0.7-7.4-1.8-7.5-2.1-7.6-1.6-7.9-0.6-6.5 0.4-6.3 1.1-6.2 1.3-6.2 1.1-6.4 0.2-6.6-1.1-6.3-2.6-5.8-3.7-5.2-4.4-4.7-5-4-5.5-3.2-6.1-2-6.6-1-6.7-0.2-6.9 0.3-6.8 0.7-5.9 1-5.9 1.5-5.7 2-5.6 2.7-5.3 3.3-4.9 3.9-4.5 4.3-4.1 4.7-3.6 5.1-3.1 5.3-2.6 5.5-2.1 5.7-1.7 5.8-1.2 5.9-0.7 6-0.3 7.2 0.4 7.1 1 7 1.8 6.8 2.5 6.5 3 6.2 3.7 5.9 4.2 5.4 4.7 5.1 5.2 4.5 5.6 4.1 5.9 3.5 6.3 3 6.6 2.2 6.9 1.3 7z"/><use href="#t4_22" fill="none" stroke="#327396" stroke-width="0.58"/>
<path id="t4_23" d="M198.9 96l-0.4 5.2-0.9 5.1-1.3 5-1.7 4.9-2.1 4.7-2.5 4.6-3.1 4.1-3.7 3.6-4.4 2.7-4.8 1.8-6 0.7-7.7-0.9-7.6-2.1-7.5-2.3-7.7-1.7-8-0.7-6.5 0.5-6.3 1.1-6.2 1.6-6.3 1.2-6.3 0.4-6.7-1-6.4-2.5-5.8-3.6-5.3-4.4-4.8-5-4.1-5.5-3.1-6.1-2.1-6.6-1-6.8-0.1-6.9 0.4-6.9 0.7-5.9 1-5.8 1.4-5.7 2.1-5.5 2.7-5.3 3.3-4.9 3.9-4.4 4.3-4 4.7-3.6 5.1-3.1 5.3-2.6 5.5-2 5.7-1.7 5.8-1.2 5.9-0.7 5.9-0.2 7.2 0.3 7.2 1.1 7 1.8 6.9 2.4 6.5 3.1 6.3 3.7 5.9 4.3 5.5 4.7 5.1 5.2 4.6 5.6 4.1 6 3.6 6.3 3 6.6 2.2 6.9 1.4 7.1z"/><use href="#t4_23" fill="none" stroke="#327396" stroke-width="0.58"/>
<path id="t4_24" d="M197.1 95.7l-0.4 5-1 5.1-1.3 4.9-1.6 4.9-2 4.7-2.5 4.4-3.1 4.1-3.7 3.5-4.3 2.7-4.8 1.6-6 0.6-7.9-1.1-7.6-2.4-7.6-2.5-7.8-1.9-8.1-0.7-6.5 0.5-6.3 1.3-6.2 1.7-6.3 1.5-6.4 0.5-6.8-0.8-6.4-2.5-5.9-3.6-5.4-4.3-4.8-5-4.1-5.5-3.2-6.2-2-6.6-1-6.8-0.1-6.9 0.5-6.9 0.6-5.9 1-5.8 1.5-5.7 2.1-5.5 2.7-5.2 3.3-4.8 3.9-4.5 4.3-3.9 4.7-3.6 5.1-3 5.3-2.5 5.5-2.1 5.6-1.6 5.8-1.1 5.8-0.7 5.9-0.3 7.3 0.3 7.3 1.1 7.1 1.9 6.8 2.4 6.7 3.1 6.3 3.7 5.9 4.3 5.5 4.8 5.2 5.2 4.7 5.6 4.1 6 3.7 6.4 3 6.6 2.3 7 1.3 7.2z"/><use href="#t4_24" fill="none" stroke="#327396" stroke-width="0.58"/>
<path id="t4_25" d="M195.3 95.3l-0.5 5-0.9 5-1.3 4.9-1.6 4.7-2 4.7-2.4 4.4-3.1 4-3.6 3.4-4.4 2.6-4.7 1.5-6.1 0.5-8-1.4-7.7-2.6-7.6-2.7-7.9-2.1-8.2-0.8-6.5 0.6-6.4 1.4-6.2 1.9-6.2 1.6-6.4 0.8-6.9-0.7-6.5-2.4-6-3.5-5.4-4.3-4.9-5-4.2-5.5-3.2-6.2-2-6.6-0.9-6.9-0.1-7 0.5-6.9 0.7-5.8 1-5.8 1.5-5.7 2-5.4 2.8-5.2 3.3-4.8 3.9-4.4 4.3-3.9 4.7-3.5 5-3 5.3-2.5 5.5-2 5.7-1.6 5.7-1.1 5.8-0.7 5.9-0.3 7.3 0.4 7.3 1.1 7.2 1.8 6.9 2.5 6.7 3.1 6.3 3.8 6 4.3 5.6 4.8 5.2 5.2 4.7 5.6 4.2 6.1 3.7 6.4 3.1 6.6 2.3 7 1.4 7.3z"/><use href="#t4_25" fill="none" stroke="#327396" stroke-width="0.58"/>
</g>
<g clip-path="url(#h4)" fill="none" stroke-linejoin="round"><use href="#hp4" stroke="#2f8f86" stroke-width="13" opacity="0.22"/><use href="#hp4" stroke="#2c8a8c" stroke-width="7" opacity="0.3"/><use href="#hp4" stroke="#2a7aa0" stroke-width="3.2" opacity="0.45"/></g>
<use href="#hp4" fill="none" stroke="#2060c4" stroke-width="1.25" stroke-linejoin="round"/>
<path d="M163.1 134.7l-8.1-1.6-7.8-2.8-7.8-3-8-2.2-8.2-0.9-6.5 0.6-6.4 1.6-6.2 2-6.2 1.9-6.5 1z" fill="#2a6a96" opacity="0.2"/>
<path d="M163.1 134.7l-8.1-1.6-7.8-2.8-7.8-3-8-2.2-8.2-0.9-6.5 0.6-6.4 1.6-6.2 2-6.2 1.9-6.5 1" fill="none" stroke="#2a7ac8" stroke-width="2.2" opacity="0.8"/>
<defs><path id="s4" d="M193.4 95l-0.4 4.9-0.9 4.9-1.3 4.8-1.6 4.7-1.9 4.6-2.4 4.3-3 4-3.7 3.4-4.3 2.4-4.7 1.4-6.1 0.3-8.1-1.6-7.8-2.8-7.8-3-8-2.2-8.2-0.9-6.5 0.6-6.4 1.6-6.2 2-6.2 1.9-6.5 1-7-0.6-6.5-2.3-6.1-3.5-5.5-4.3-4.9-4.9-4.2-5.6-3.3-6.2-2-6.6-0.9-7 0-6.9 0.5-7 0.8-5.8 1-5.7 1.4-5.7 2.1-5.4 2.7-5.2 3.4-4.7 3.8-4.4 4.4-3.8 4.7-3.5 5-2.9 5.3-2.4 5.5-2 5.6-1.5 5.7-1.2 5.8-0.6 5.8-0.3 7.4 0.3 7.4 1.2 7.2 1.8 6.9 2.5 6.8 3.1 6.4 3.8 6 4.3 5.6 4.8 5.3 5.3 4.7 5.7 4.3 6 3.7 6.4 3.2 6.8 2.3 7 1.5 7.3z"/><clipPath id="c4"><use href="#s4"/></clipPath></defs>
<use href="#s4" fill="#b0d03c"/>
<g clip-path="url(#c4)">
<use href="#s4" transform="translate(0 0) scale(1.000)" fill="#c4d628"/>
<use href="#s4" transform="translate(1.5 1.1) scale(0.986)" fill="#f3db09"/>
<use href="#s4" transform="translate(2.9 2.2) scale(0.971)" fill="#ffd902"/>
<use href="#s4" transform="translate(4.4 3.4) scale(0.957)" fill="#ffd802"/>
<use href="#s4" transform="translate(5.9 4.5) scale(0.943)" fill="#ffd702"/>
<use href="#s4" transform="translate(7.3 5.6) scale(0.929)" fill="#ffd602"/>
<use href="#s4" transform="translate(10.2 7.8) scale(0.900)" fill="#ffd502"/>
<use href="#s4" transform="translate(14.6 11.2) scale(0.857)" fill="#ffd402"/>
<use href="#s4" transform="translate(17.6 13.5) scale(0.829)" fill="#ffd302"/>
<use href="#s4" transform="translate(20.5 15.7) scale(0.800)" fill="#ffd002"/>
<use href="#s4" transform="translate(22 16.8) scale(0.786)" fill="#ffca03"/>
<use href="#s4" transform="translate(23.4 17.9) scale(0.771)" fill="#ffc603"/>
<use href="#s4" transform="translate(24.9 19.1) scale(0.757)" fill="#ffc503"/>
<use href="#s4" transform="translate(30.8 23.6) scale(0.700)" fill="#ffc703"/>
<use href="#s4" transform="translate(32.2 24.7) scale(0.686)" fill="#ffcb04"/>
<use href="#s4" transform="translate(33.7 25.8) scale(0.671)" fill="#ffce04"/>
<use href="#s4" transform="translate(35.1 26.9) scale(0.657)" fill="#ffd004"/>
<use href="#s4" transform="translate(38.1 29.2) scale(0.629)" fill="#ffcf04"/>
<use href="#s4" transform="translate(42.5 32.5) scale(0.586)" fill="#ffc804"/>
<use href="#s4" transform="translate(43.9 33.6) scale(0.571)" fill="#ffc203"/>
<use href="#s4" transform="translate(45.4 34.8) scale(0.557)" fill="#ffbb03"/>
<use href="#s4" transform="translate(46.9 35.9) scale(0.543)" fill="#ffb803"/>
<use href="#s4" transform="translate(55.6 42.6) scale(0.457)" fill="#ffb903"/>
<use href="#s4" transform="translate(57.1 43.7) scale(0.443)" fill="#ffbf04"/>
<use href="#s4" transform="translate(58.6 44.9) scale(0.429)" fill="#ffc505"/>
<use href="#s4" transform="translate(60 46) scale(0.414)" fill="#ffc906"/>
<use href="#s4" transform="translate(63 48.2) scale(0.386)" fill="#ffc806"/>
<use href="#s4" transform="translate(67.4 51.6) scale(0.343)" fill="#ffc706"/>
<use href="#s4" transform="translate(70.3 53.8) scale(0.314)" fill="#ffc305"/>
<use href="#s4" transform="translate(71.8 54.9) scale(0.300)" fill="#ffb704"/>
<use href="#s4" transform="translate(73.2 56.1) scale(0.286)" fill="#ffac02"/>
</g>
<path d="M81.2 80.9C81.3 79.2 81.8 76.6 83.2 74.4C84.7 72.3 87.4 69.5 90.1 67.9C92.8 66.2 96.2 64.8 99.6 64.6C103 64.3 107.4 65.4 110.6 66.5C113.8 67.7 116.3 69.5 118.9 71.5C121.4 73.6 124 76.1 125.7 78.7C127.4 81.4 128.7 84.9 129.2 87.4C129.6 89.9 129.7 92.5 128.5 93.8C127.2 95.2 124.4 95.4 121.6 95.3C118.9 95.2 115 94.2 112 93.1C109 92 106.5 89.9 103.8 88.8C101 87.8 98.3 87 95.5 86.6C92.8 86.3 89.5 87 87.3 86.6C85.1 86.3 83.6 85.4 82.6 84.5C81.5 83.5 81 82.6 81.2 80.9z" fill="#ffa000"/>
<path d="M104.5 87.6C105.2 86 111 85.4 114.5 84.6C118 83.8 122.8 81.9 125.5 82.6C128.2 83.3 129.8 86.5 130.5 88.6C131.2 90.7 131.2 93.8 129.5 95.1C127.8 96.4 123.7 96.8 120.5 96.6C117.3 96.4 113.2 95.6 110.5 94.1C107.8 92.6 103.8 89.2 104.5 87.6z" fill="#ff9800"/>
<path d="M81.6 80C81.7 78.5 82.1 76.1 83.5 74.1C84.9 72.2 87.3 69.7 89.8 68.2C92.3 66.7 95.4 65.4 98.6 65.2C101.8 65 105.8 65.9 108.8 67C111.7 68 114 69.7 116.4 71.5C118.7 73.3 121.1 75.6 122.7 78C124.3 80.4 125.5 83.5 125.9 85.8C126.3 88.1 126.4 90.4 125.2 91.6C124.1 92.8 121.5 93.1 118.9 92.9C116.4 92.8 112.8 91.9 110 91C107.3 90 105 88.1 102.4 87.1C99.9 86.1 97.4 85.5 94.9 85.1C92.3 84.8 89.3 85.5 87.3 85.1C85.3 84.8 83.8 84 82.9 83.2C81.9 82.3 81.5 81.5 81.6 80z" fill="#f47a04"/>
<path d="M82.2 79.4C82.3 78 82.7 75.9 84 74.1C85.3 72.3 87.6 70.1 89.9 68.7C92.2 67.4 95.1 66.2 98.1 66C101 65.8 104.8 66.7 107.6 67.6C110.4 68.6 112.5 70 114.7 71.7C116.9 73.4 119.1 75.4 120.6 77.6C122.1 79.8 123.2 82.6 123.6 84.7C124 86.8 124.1 88.9 123 90C121.9 91.1 119.5 91.3 117.1 91.2C114.7 91.1 111.4 90.3 108.8 89.4C106.2 88.5 104.1 86.8 101.7 85.9C99.3 85 97 84.4 94.6 84.1C92.2 83.8 89.4 84.4 87.5 84.1C85.6 83.8 84.3 83.1 83.4 82.3C82.5 81.5 82.1 80.8 82.2 79.4z" fill="#9c1410"/>
<path d="M86.9 77.8C86.3 76.6 89.1 72.5 91.1 70.8C93.1 69.2 95.9 68.1 98.7 67.9C101.5 67.7 105.2 68.5 107.8 69.6C110.4 70.7 112.7 72.5 114.4 74.4C116.1 76.3 117.9 79.2 117.9 80.8C118 82.4 116.2 83.8 114.7 84.1C113.2 84.5 111 83.7 108.8 82.9C106.6 82.1 104.1 80.2 101.7 79.4C99.3 78.6 97.1 78.5 94.6 78.2C92.1 77.9 87.5 79 86.9 77.8z" fill="#ffc010"/>
<path d="M86 76.6C86.6 75.9 88.1 73.2 89.5 72.1C90.9 71 93.7 70.4 94.5 70" fill="none" stroke="#9c1410" stroke-width="0.8"/>
<path d="M100.5 73.1C101 73.2 102.6 73.3 103.5 73.6C104.4 73.9 105.6 74.9 106 75.1" fill="none" stroke="#c8400a" stroke-width="0.7"/>
<rect x="0" y="0" width="246.8" height="246.8" fill="none" stroke="#a4a4a4" stroke-width="0.85"/>
</g>
<text x="26.2" y="556.8" font-family="'Liberation Serif',serif" font-size="10.6" letter-spacing="0.3" fill="#141414">4D Downstream</text>
<g font-family="'Liberation Sans',sans-serif" font-size="9" fill="#2e2e2e">
<text x="21.7" y="795.6" text-anchor="end">0</text>
<text x="21.7" y="750.7" text-anchor="end">10</text>
<text x="21.7" y="705.9" text-anchor="end">20</text>
<text x="21.7" y="661" text-anchor="end">30</text>
<text x="21.7" y="616.1" text-anchor="end">40</text>
<text x="21.7" y="571.2" text-anchor="end">50</text>
<text x="23.5" y="802.4" text-anchor="middle">-40</text>
<text x="90.8" y="802.4" text-anchor="middle">-25</text>
<text x="158.1" y="802.4" text-anchor="middle">-10</text>
<text x="225.4" y="802.4" text-anchor="middle">5</text>
<text x="270.3" y="802.4" text-anchor="middle">15</text>
<text x="142" y="803.8" text-anchor="middle">[m]</text>
<text transform="translate(13.9 673.2) rotate(-90)" text-anchor="middle">[m]</text>
</g>
<g transform="translate(291.8 545.4)">
<path d="M67.3 0V246.8M134.6 0V246.8M201.9 0V246.8M0 201.9H246.8M0 157.1H246.8M0 112.2H246.8M0 67.3H246.8M0 22.4H246.8" stroke="#efefef" stroke-width="0.8" fill="none"/>
<path d="M179.5 246.8V169" stroke="#0a0a0a" stroke-width="1.7" fill="none"/>
<defs><path id="hp5" d="M32.4 68.7l1.1-6.4 1.9-6.1 2.5-6 2.8-5.8 3.5-5.4 4.2-4.8 4.9-4.3 5.3-3.7 5.6-3.2 5.8-2.7 6.1-2.2 6.2-1.7 6.4-1.1 6.4-0.6 6.5-0.2 7.7 0.4 7.7 1.2 7.6 2.1 2.1 0.7 6.6 2.4 4.3 1.6 8.6 3.1 2.2 0.8 4.2 1.6 8.6 3.1 4.2 1.6 6.3 2.4 2.1 0.8 24.7 9.3 2 0.7 5.6 2.7 5.4 3.2 5 3.7 4.6 4.2 4.2 4.6 3.7 5 3.2 5.4 2.7 5.6 2.1 5.9 1.5 6 0.9 6.2 0.3 6.2-0.3 6.2-0.9 6.2-1.5 6-2.1 5.9-2.7 5.6-3.2 5.4-3.7 5-4.2 4.6-4.6 4.2-5 3.7-5.4 3.2-5.6 2.7-5.9 2.1-6 1.5-6.2 0.9-6.2 0.3-6.2-0.3-6.2-0.9-6-1.5-5.9-2.1-85.2-38.5-2.2-1-5.8-3.4-5-4.4-4.6-5-4.1-5.3-3.6-5.7-3-6-2.6-6.3-2.1-6.4-1.3-6.6z"/><clipPath id="h5"><use href="#hp5"/></clipPath></defs>
<use href="#hp5" fill="#a2c03a"/>
<path d="M239.7 105l-0.3 6.2-0.9 6.2-1.5 6-2.1 5.9-2.7 5.6-3.2 5.4-3.7 5-4.2 4.6-4.6 4.2-5 3.7-5.4 3.2-5.6 2.7-5.9 2.1-6 1.5-6.2 0.9-6.2 0.3-6.2-0.3-6.2-0.9-6-1.5-5.9-2.1-5.6-2.7-5.4-3.2-5-3.7-4.6-4.2-4.2-4.6-3.7-5-3.2-5.4-2.7-5.6-2.1-5.9-1.5-6-0.9-6.2-0.3-6.2 0.3-6.2 0.9-6.2 1.5-6 2.1-5.9 2.7-5.6 3.2-5.4 3.7-5 4.2-4.6 4.6-4.2 5-3.7 5.4-3.2 5.6-2.7 5.9-2.1 6-1.5 6.2-0.9 6.2-0.3 6.2 0.3 6.2 0.9 6 1.5 5.9 2.1 5.6 2.7 5.4 3.2 5 3.7 4.6 4.2 4.2 4.6 3.7 5 3.2 5.4 2.7 5.6 2.1 5.9 1.5 6 0.9 6.2z" fill="#a2c03a" stroke="#1c5cc4" stroke-width="2.6"/>
<g fill="#f0d70a" stroke="#bccd28" stroke-width="1.1" stroke-linejoin="round">
<path id="t5_0" d="M239.7 105l-0.3 6.2-0.9 6.2-1.5 6-2.1 5.9-2.7 5.6-3.2 5.4-3.7 5-4.2 4.6-4.6 4.2-5 3.7-5.4 3.2-5.6 2.7-5.9 2.1-6 1.5-6.2 0.9-6.2 0.3-6.2-0.3-6.2-0.9-6-1.5-5.9-2.1-5.6-2.7-5.4-3.2-5-3.7-4.6-4.2-4.2-4.6-3.7-5-3.2-5.4-2.7-5.6-2.1-5.9-1.5-6-0.9-6.2-0.3-6.2 0.3-6.2 0.9-6.2 1.5-6 2.1-5.9 2.7-5.6 3.2-5.4 3.7-5 4.2-4.6 4.6-4.2 5-3.7 5.4-3.2 5.6-2.7 5.9-2.1 6-1.5 6.2-0.9 6.2-0.3 6.2 0.3 6.2 0.9 6 1.5 5.9 2.1 5.6 2.7 5.4 3.2 5 3.7 4.6 4.2 4.2 4.6 3.7 5 3.2 5.4 2.7 5.6 2.1 5.9 1.5 6 0.9 6.2z"/><use href="#t5_0" fill="none" stroke="#327396" stroke-width="0.58"/>
<path id="t5_1" d="M237.9 104.7l-0.3 6.2-0.9 6.1-1.5 6-2.1 5.9-2.7 5.6-3.2 5.3-3.7 4.9-4.2 4.6-4.6 4.1-5 3.6-5.5 3-5.6 2.4-5.9 1.8-6.1 1.3-6.3 0.8-6.3 0.3-6.3-0.2-6.1-0.8-5.9-1.3-5.8-1.8-5.6-2.5-5.5-3.1-5-3.6-4.7-4.2-4.2-4.6-3.7-5-3.2-5.4-2.7-5.6-2.1-5.9-1.6-6-0.9-6.2-0.4-6.3 0.3-6.2 1-6.2 1.5-6 2.1-5.9 2.7-5.6 3.2-5.4 3.7-5 4.2-4.6 4.6-4.2 5.1-3.7 5.3-3.2 5.7-2.6 5.8-2.1 6.1-1.5 6.2-0.9 6.2-0.3 6.3 0.3 6.2 0.9 6.1 1.5 5.9 2.2 5.6 2.7 5.4 3.2 5 3.8 4.7 4.2 4.2 4.7 3.7 5 3.3 5.4 2.6 5.6 2.1 6 1.6 6 0.9 6.2z"/><use href="#t5_1" fill="none" stroke="#327396" stroke-width="0.58"/>
<path id="t5_2" d="M236.1 104.4l-0.3 6.2-0.9 6.1-1.5 5.9-2.1 5.8-2.7 5.6-3.1 5.2-3.7 4.9-4.2 4.5-4.6 4.1-5.1 3.5-5.6 2.8-5.7 2.1-5.9 1.6-6.2 1.1-6.3 0.6-6.5 0.3-6.3-0.2-6.1-0.6-5.8-1-5.6-1.6-5.7-2.2-5.4-3-5.1-3.7-4.7-4.1-4.3-4.6-3.7-5-3.3-5.4-2.7-5.6-2.1-5.9-1.6-6.1-1-6.2-0.3-6.2 0.2-6.2 1-6.2 1.5-6.1 2.1-5.9 2.7-5.6 3.2-5.4 3.8-5 4.2-4.6 4.6-4.1 5.1-3.7 5.4-3.2 5.6-2.7 5.9-2 6.1-1.5 6.2-0.9 6.2-0.3 6.3 0.3 6.3 0.9 6.1 1.5 5.9 2.2 5.7 2.8 5.4 3.2 5.1 3.8 4.6 4.3 4.3 4.7 3.8 5.1 3.2 5.4 2.7 5.7 2.1 5.9 1.6 6.2 0.9 6.2z"/><use href="#t5_2" fill="none" stroke="#327396" stroke-width="0.58"/>
<path id="t5_3" d="M234.3 104.1l-0.3 6.1-0.9 6.1-1.5 5.9-2.1 5.8-2.6 5.5-3.2 5.2-3.7 4.9-4.2 4.4-4.6 3.9-5.1 3.4-5.7 2.6-5.7 1.9-6 1.3-6.2 0.9-6.5 0.5-6.5 0.3-6.4-0.2-6.1-0.4-5.6-0.7-5.5-1.3-5.7-2.1-5.5-2.9-5.2-3.6-4.7-4.1-4.3-4.6-3.7-5-3.3-5.4-2.8-5.6-2.1-5.9-1.6-6.1-1-6.2-0.4-6.3 0.3-6.2 0.9-6.2 1.5-6.1 2.2-5.9 2.7-5.6 3.2-5.4 3.7-5 4.3-4.6 4.7-4.1 5-3.7 5.4-3.2 5.7-2.6 5.9-2.1 6.1-1.5 6.2-0.9 6.2-0.3 6.4 0.4 6.3 0.9 6.1 1.6 6 2.1 5.7 2.8 5.4 3.4 5.1 3.8 4.7 4.3 4.3 4.7 3.8 5.1 3.3 5.5 2.7 5.7 2.1 6 1.6 6.2 0.9 6.3z"/><use href="#t5_3" fill="none" stroke="#327396" stroke-width="0.58"/>
<path id="t5_4" d="M232.5 103.9l-0.3 6-0.9 6-1.5 5.9-2.1 5.7-2.6 5.5-3.2 5.2-3.7 4.8-4.2 4.4-4.6 3.8-5.1 3.3-5.8 2.4-5.8 1.6-6 1.1-6.3 0.6-6.5 0.4-6.7 0.2-6.4-0.1-6-0.2-5.5-0.5-5.4-1-5.7-1.9-5.6-2.8-5.2-3.5-4.8-4.1-4.3-4.6-3.8-5.1-3.3-5.3-2.7-5.7-2.2-5.9-1.7-6-1-6.2-0.4-6.3 0.3-6.3 0.9-6.2 1.6-6 2.1-5.9 2.7-5.7 3.2-5.4 3.8-5 4.3-4.6 4.7-4.1 5-3.7 5.4-3.1 5.7-2.7 5.9-2 6.1-1.5 6.2-0.9 6.3-0.3 6.4 0.3 6.3 1 6.3 1.6 6 2.2 5.7 2.8 5.4 3.4 5.1 3.9 4.8 4.3 4.3 4.8 3.8 5.1 3.3 5.5 2.8 5.8 2.1 6 1.6 6.2 0.9 6.4z"/><use href="#t5_4" fill="none" stroke="#327396" stroke-width="0.58"/>
<path id="t5_5" d="M230.7 103.6l-0.3 6-0.9 6-1.5 5.8-2.1 5.7-2.6 5.4-3.2 5.2-3.7 4.7-4.1 4.3-4.7 3.8-5.1 3.2-5.9 2.1-5.8 1.4-6.1 0.8-6.3 0.4-6.6 0.3-6.8 0.1-6.5 0-6 0-5.4-0.2-5.2-0.8-5.7-1.7-5.7-2.7-5.3-3.5-4.7-4.1-4.3-4.6-3.9-5-3.3-5.3-2.8-5.7-2.2-5.9-1.7-6.1-1.1-6.2-0.4-6.3 0.3-6.3 0.9-6.2 1.6-6 2.1-5.9 2.7-5.7 3.3-5.4 3.8-5 4.2-4.6 4.8-4.1 5.1-3.6 5.4-3.2 5.7-2.6 5.9-2.1 6.1-1.4 6.2-0.9 6.3-0.3 6.4 0.3 6.4 1 6.3 1.6 6 2.2 5.8 2.9 5.5 3.4 5.1 3.9 4.7 4.4 4.4 4.8 3.8 5.2 3.4 5.5 2.7 5.8 2.2 6.1 1.5 6.3 1 6.3z"/><use href="#t5_5" fill="none" stroke="#327396" stroke-width="0.58"/>
<path id="t5_6" d="M229 103.3l-0.4 6-0.9 5.9-1.5 5.8-2.1 5.6-2.6 5.4-3.1 5.1-3.7 4.7-4.2 4.3-4.6 3.7-5.2 3-6 2-5.9 1-6.1 0.6-6.3 0.2-6.8 0.1-6.9 0.2-6.5 0-6 0.2-5.2 0-5.2-0.5-5.6-1.5-5.8-2.6-5.3-3.4-4.8-4.1-4.3-4.6-3.9-5-3.4-5.4-2.8-5.6-2.2-5.9-1.7-6.1-1.1-6.3-0.5-6.3 0.3-6.2 0.9-6.2 1.6-6.1 2.2-5.9 2.7-5.7 3.2-5.4 3.8-5 4.3-4.6 4.8-4.1 5.1-3.6 5.4-3.2 5.7-2.6 6-2 6.1-1.5 6.2-0.8 6.3-0.3 6.5 0.3 6.4 1 6.3 1.6 6.1 2.2 5.8 3 5.5 3.4 5.1 4 4.8 4.4 4.3 4.8 3.9 5.2 3.4 5.6 2.8 5.9 2.1 6.1 1.6 6.3 1 6.4z"/><use href="#t5_6" fill="none" stroke="#327396" stroke-width="0.58"/>
<path id="t5_7" d="M227.2 103l-0.4 6-0.9 5.9-1.5 5.7-2.1 5.6-2.6 5.4-3.1 5-3.7 4.7-4.2 4.1-4.6 3.6-5.2 3-6.1 1.7-5.9 0.8-6.2 0.3-6.4 0-6.8-0.1-7 0.2-6.6 0.1-5.9 0.3-5.1 0.3-5.1-0.3-5.7-1.2-5.8-2.5-5.3-3.4-4.9-4-4.4-4.6-3.8-5-3.4-5.4-2.8-5.7-2.3-5.9-1.7-6.1-1.2-6.2-0.5-6.3 0.3-6.3 0.9-6.2 1.6-6.1 2.2-5.9 2.7-5.7 3.3-5.4 3.8-5 4.3-4.6 4.8-4.1 5.1-3.6 5.4-3.1 5.8-2.6 5.9-2.1 6.1-1.4 6.3-0.9 6.3-0.2 6.5 0.3 6.5 0.9 6.3 1.7 6.1 2.3 5.9 2.9 5.5 3.6 5.1 4 4.8 4.4 4.4 4.9 4 5.2 3.4 5.6 2.8 5.9 2.1 6.2 1.6 6.3 1 6.5z"/><use href="#t5_7" fill="none" stroke="#327396" stroke-width="0.58"/>
<path id="t5_8" d="M225.4 102.8l-0.4 5.9-0.9 5.8-1.5 5.7-2.1 5.6-2.6 5.3-3.1 5-3.7 4.6-4.2 4.1-4.6 3.5-5.2 2.9-6.2 1.4-6 0.5-6.1 0.1-6.6-0.3-6.9-0.1-7.1 0-6.6 0.2-5.9 0.6-5 0.5-4.9 0-5.7-1-5.9-2.4-5.4-3.3-4.9-4.1-4.4-4.5-3.9-5.1-3.4-5.3-2.8-5.7-2.3-5.9-1.8-6.1-1.1-6.3-0.6-6.3 0.3-6.3 0.9-6.2 1.6-6.1 2.2-5.9 2.7-5.7 3.3-5.4 3.8-5 4.4-4.6 4.7-4 5.2-3.7 5.5-3.1 5.7-2.6 6-2 6.1-1.4 6.2-0.9 6.3-0.3 6.6 0.4 6.5 0.9 6.4 1.7 6.2 2.3 5.8 3 5.6 3.6 5.2 4 4.8 4.5 4.4 4.9 4 5.3 3.4 5.6 2.8 6 2.2 6.2 1.6 6.4 1 6.5z"/><use href="#t5_8" fill="none" stroke="#327396" stroke-width="0.58"/>
<path id="t5_9" d="M223.5 102.5l-0.3 5.8-0.9 5.8-1.5 5.7-2.1 5.5-2.6 5.3-3.1 4.9-3.7 4.6-4.1 4-4.6 3.5-5.3 2.7-6.3 1.3-6 0.2-6.2-0.3-6.6-0.4-7-0.4-7.3 0.1-6.6 0.2-5.9 0.8-4.8 0.8-4.8 0.3-5.7-0.8-6-2.3-5.4-3.3-5-4-4.4-4.6-3.9-5-3.4-5.4-2.9-5.6-2.3-6-1.8-6.1-1.2-6.2-0.6-6.4 0.3-6.3 0.9-6.2 1.6-6.1 2.2-5.9 2.7-5.7 3.3-5.4 3.9-5 4.3-4.6 4.8-4 5.2-3.7 5.5-3.1 5.7-2.5 6-2 6.2-1.5 6.2-0.8 6.3-0.3 6.6 0.3 6.6 1 6.4 1.7 6.2 2.4 5.9 3 5.6 3.6 5.2 4.1 4.8 4.5 4.5 5 4 5.3 3.4 5.6 2.9 6 2.2 6.3 1.6 6.4 1 6.6z"/><use href="#t5_9" fill="none" stroke="#327396" stroke-width="0.58"/>
<path id="t5_10" d="M221.7 102.2l-0.3 5.8-0.9 5.8-1.5 5.6-2.1 5.5-2.5 5.2-3.2 4.9-3.6 4.5-4.2 4-4.6 3.3-5.3 2.6-6.4 1.1-6.1-0.1-6.2-0.5-6.7-0.7-7.1-0.5-7.4 0-6.6 0.3-5.9 1-4.6 1-4.7 0.6-5.7-0.5-6.1-2.2-5.5-3.2-4.9-4-4.5-4.6-3.9-5.1-3.5-5.3-2.9-5.7-2.4-5.9-1.8-6.1-1.2-6.3-0.6-6.4 0.2-6.3 1-6.2 1.6-6.1 2.2-5.9 2.8-5.7 3.2-5.4 3.9-5 4.4-4.6 4.8-4 5.2-3.6 5.5-3.1 5.8-2.6 6-2 6.1-1.4 6.3-0.8 6.3-0.3 6.7 0.3 6.6 1 6.4 1.7 6.3 2.4 5.9 3.1 5.6 3.6 5.2 4.2 4.9 4.5 4.4 5 4.1 5.3 3.5 5.7 2.8 6.1 2.2 6.3 1.6 6.5 1.1 6.6z"/><use href="#t5_10" fill="none" stroke="#327396" stroke-width="0.58"/>
<path id="t5_11" d="M219.9 102l-0.3 5.7-1 5.7-1.5 5.6-2 5.4-2.5 5.2-3.2 4.9-3.6 4.4-4.2 3.9-4.6 3.3-5.3 2.5-6.5 0.8-6.1-0.4-6.3-0.8-6.7-0.9-7.2-0.6-7.5 0-6.7 0.3-5.9 1.2-4.5 1.3-4.6 0.9-5.7-0.3-6.1-2.1-5.5-3.2-5-4-4.5-4.6-4-5-3.4-5.4-3-5.6-2.4-6-1.8-6.1-1.3-6.3-0.6-6.3 0.2-6.4 1-6.2 1.6-6.1 2.3-5.9 2.7-5.7 3.3-5.4 3.9-5 4.4-4.6 4.8-4 5.2-3.6 5.5-3.1 5.8-2.5 6-2 6.2-1.4 6.2-0.9 6.3-0.2 6.8 0.3 6.6 1 6.5 1.7 6.3 2.4 5.9 3.2 5.6 3.7 5.3 4.2 4.9 4.6 4.5 5 4.1 5.3 3.5 5.7 2.9 6.1 2.2 6.4 1.6 6.5 1.1 6.6z"/><use href="#t5_11" fill="none" stroke="#327396" stroke-width="0.58"/>
<path id="t5_12" d="M218.1 101.7l-0.3 5.7-1 5.7-1.5 5.5-2 5.4-2.5 5.1-3.1 4.8-3.7 4.4-4.2 3.8-4.6 3.2-5.3 2.4-6.6 0.6-6.2-0.7-6.4-1.1-6.7-1.1-7.3-0.8-7.6 0-6.8 0.4-5.8 1.4-4.3 1.5-4.5 1.2-5.7-0.1-6.2-1.9-5.6-3.2-5-3.9-4.5-4.6-4-5.1-3.5-5.3-3-5.7-2.4-5.9-1.9-6.2-1.3-6.3-0.6-6.3 0.2-6.4 1-6.2 1.6-6.1 2.3-6 2.7-5.7 3.3-5.4 3.9-4.9 4.4-4.6 4.9-4 5.2-3.6 5.5-3.1 5.8-2.5 6-2 6.2-1.4 6.3-0.8 6.3-0.2 6.8 0.3 6.7 1 6.5 1.7 6.3 2.5 6 3.1 5.6 3.8 5.3 4.2 4.9 4.7 4.6 5 4.1 5.4 3.6 5.7 2.8 6.2 2.2 6.4 1.7 6.5 1.1 6.7z"/><use href="#t5_12" fill="none" stroke="#327396" stroke-width="0.58"/>
<path id="t5_13" d="M216.3 101.4l-0.4 5.7-0.9 5.6-1.5 5.5-2 5.3-2.5 5.1-3.1 4.8-3.7 4.3-4.2 3.8-4.6 3-5.3 2.3-6.7 0.4-6.3-1-6.4-1.4-6.8-1.4-7.4-0.9-7.7 0-6.8 0.5-5.8 1.5-4.2 1.9-4.3 1.4-5.7 0.2-6.3-1.9-5.6-3.1-5.1-3.9-4.5-4.6-4-5-3.6-5.4-3-5.7-2.4-5.9-1.9-6.2-1.4-6.2-0.6-6.4 0.2-6.4 1-6.2 1.6-6.1 2.3-6 2.7-5.7 3.3-5.4 3.9-5 4.5-4.5 4.8-4 5.3-3.6 5.5-3 5.8-2.6 6.1-1.9 6.1-1.4 6.3-0.8 6.4-0.3 6.8 0.4 6.7 1 6.6 1.7 6.4 2.5 6 3.2 5.6 3.8 5.3 4.3 5 4.7 4.5 5.1 4.2 5.4 3.6 5.8 2.9 6.1 2.2 6.5 1.7 6.6 1.1 6.7z"/><use href="#t5_13" fill="none" stroke="#327396" stroke-width="0.58"/>
<path id="t5_14" d="M214.5 101.2l-0.4 5.6-0.9 5.6-1.5 5.4-2 5.3-2.5 5-3.1 4.8-3.7 4.2-4.2 3.7-4.5 3-5.4 2.1-6.9 0.1-6.2-1.2-6.5-1.7-6.8-1.6-7.5-1.1-7.9-0.1-6.9 0.6-5.7 1.7-4 2.2-4.2 1.7-5.7 0.4-6.4-1.7-5.7-3.1-5.1-3.9-4.5-4.5-4.1-5.1-3.5-5.3-3.1-5.7-2.4-6-2-6.1-1.3-6.3-0.7-6.4 0.1-6.4 1-6.2 1.7-6.1 2.3-6 2.7-5.7 3.3-5.4 3.9-5 4.5-4.5 4.9-4 5.3-3.5 5.5-3.1 5.8-2.5 6.1-1.9 6.2-1.4 6.3-0.8 6.3-0.3 6.9 0.4 6.8 1 6.6 1.7 6.4 2.6 6 3.2 5.7 3.9 5.3 4.3 5 4.7 4.6 5.1 4.2 5.5 3.6 5.8 2.9 6.2 2.3 6.5 1.6 6.7 1.1 6.7z"/><use href="#t5_14" fill="none" stroke="#327396" stroke-width="0.58"/>
<path id="t5_15" d="M212.7 100.9l-0.4 5.6-0.9 5.5-1.5 5.4-2 5.3-2.5 5-3.1 4.6-3.7 4.2-4.1 3.6-4.6 2.9-5.4 2-7-0.1-6.3-1.6-6.5-1.9-6.9-1.9-7.6-1.2-8-0.1-6.9 0.6-5.7 2-3.9 2.4-4.1 2-5.7 0.7-6.4-1.7-5.8-3-5.1-3.8-4.6-4.6-4-5-3.6-5.4-3.1-5.7-2.5-6-1.9-6.1-1.4-6.3-0.8-6.4 0.2-6.4 1-6.2 1.7-6.2 2.2-5.9 2.8-5.7 3.3-5.4 4-5 4.5-4.5 4.9-4 5.2-3.5 5.6-3.1 5.9-2.5 6-1.9 6.2-1.4 6.3-0.8 6.4-0.2 6.9 0.4 6.8 1 6.7 1.7 6.4 2.6 6.1 3.3 5.7 3.9 5.3 4.4 5 4.7 4.7 5.2 4.2 5.4 3.6 5.9 3 6.3 2.2 6.5 1.7 6.7 1.1 6.8z"/><use href="#t5_15" fill="none" stroke="#327396" stroke-width="0.58"/>
<path id="t5_16" d="M210.9 100.7l-0.4 5.5-1 5.5-1.4 5.3-2 5.2-2.5 5-3.1 4.6-3.7 4.1-4.1 3.5-4.6 2.8-5.4 1.9-7.1-0.3-6.4-1.9-6.5-2.2-7-2.2-7.7-1.3-8.1-0.2-7 0.7-5.6 2.2-3.8 2.7-3.9 2.3-5.7 0.9-6.5-1.5-5.8-3-5.2-3.8-4.6-4.6-4.1-5-3.6-5.4-3.1-5.7-2.5-5.9-2-6.2-1.4-6.3-0.8-6.4 0.2-6.4 1-6.3 1.7-6.1 2.2-5.9 2.8-5.8 3.3-5.4 4-4.9 4.5-4.5 4.9-4 5.3-3.5 5.6-3 5.9-2.5 6-1.9 6.2-1.4 6.3-0.8 6.4-0.2 6.9 0.3 6.9 1.1 6.8 1.7 6.4 2.6 6.1 3.4 5.7 3.9 5.4 4.4 5 4.8 4.7 5.2 4.3 5.5 3.7 5.9 2.9 6.3 2.3 6.6 1.7 6.8 1.1 6.8z"/><use href="#t5_16" fill="none" stroke="#327396" stroke-width="0.58"/>
<path id="t5_17" d="M209 100.4l-0.3 5.5-1 5.4-1.5 5.3-2 5.2-2.5 4.9-3 4.5-3.6 4.1-4.2 3.5-4.6 2.7-5.5 1.7-7.2-0.6-6.4-2.2-6.5-2.5-7.1-2.3-7.8-1.6-8.2-0.2-7 0.8-5.6 2.4-3.6 3-3.8 2.6-5.7 1.1-6.6-1.4-5.9-2.9-5.2-3.8-4.6-4.6-4.1-5-3.7-5.4-3.1-5.6-2.5-6-2.1-6.2-1.4-6.3-0.8-6.4 0.1-6.4 1-6.3 1.8-6.1 2.2-5.9 2.8-5.8 3.3-5.4 4-5 4.5-4.4 5-4 5.3-3.5 5.6-3 5.9-2.5 6-1.9 6.3-1.3 6.3-0.8 6.3-0.2 7 0.3 7 1.1 6.7 1.8 6.5 2.6 6.1 3.4 5.8 4 5.4 4.4 5.1 4.9 4.7 5.2 4.2 5.5 3.8 5.9 3 6.4 2.2 6.6 1.7 6.8 1.2 6.9z"/><use href="#t5_17" fill="none" stroke="#327396" stroke-width="0.58"/>
<path id="t5_18" d="M207.2 100.2l-0.4 5.4-0.9 5.4-1.5 5.2-2 5.1-2.5 4.9-3 4.5-3.6 4-4.2 3.4-4.6 2.6-5.5 1.6-7.3-0.8-6.5-2.5-6.5-2.8-7.2-2.7-7.9-1.6-8.4-0.3-7 0.9-5.6 2.6-3.4 3.3-3.6 2.9-5.8 1.3-6.6-1.2-5.9-2.9-5.3-3.8-4.6-4.5-4.2-5.1-3.7-5.3-3.1-5.7-2.6-6-2-6.2-1.6-6.3-0.8-6.4 0.2-6.4 1-6.3 1.7-6.1 2.3-6 2.8-5.7 3.3-5.4 4-5 4.6-4.4 4.9-4 5.4-3.5 5.6-3 5.9-2.4 6-1.9 6.3-1.3 6.3-0.8 6.4-0.3 7 0.4 7 1.1 6.8 1.8 6.5 2.6 6.2 3.5 5.8 4 5.4 4.5 5.1 4.9 4.7 5.2 4.3 5.6 3.8 6 3 6.4 2.3 6.6 1.7 6.9 1.2 6.9z"/><use href="#t5_18" fill="none" stroke="#327396" stroke-width="0.58"/>
<path id="t5_19" d="M205.4 99.9l-0.4 5.4-1 5.4-1.4 5.2-2 5-2.5 4.8-3 4.4-3.6 4-4.2 3.3-4.6 2.5-5.5 1.5-7.4-1.1-6.5-2.8-6.7-3.1-7.2-2.9-8-1.8-8.5-0.3-7 0.9-5.6 2.8-3.3 3.6-3.5 3.3-5.7 1.5-6.8-1.1-5.9-2.8-5.3-3.8-4.7-4.5-4.1-5-3.7-5.4-3.2-5.7-2.6-6-2.1-6.2-1.6-6.3-0.8-6.4 0.1-6.4 1.1-6.3 1.7-6.1 2.3-6 2.8-5.7 3.3-5.5 4-4.9 4.6-4.5 5-3.9 5.3-3.5 5.7-3 5.9-2.4 6-1.9 6.3-1.3 6.3-0.7 6.4-0.3 7.1 0.4 7 1 6.9 1.9 6.6 2.7 6.1 3.5 5.8 4 5.5 4.6 5.1 4.9 4.7 5.3 4.4 5.6 3.8 6 3 6.4 2.3 6.8 1.7 6.8 1.2 7.1z"/><use href="#t5_19" fill="none" stroke="#327396" stroke-width="0.58"/>
<path id="t5_20" d="M203.6 99.7l-0.4 5.3-1 5.3-1.5 5.2-1.9 4.9-2.5 4.8-3 4.4-3.6 3.9-4.2 3.2-4.6 2.4-5.5 1.4-7.6-1.4-6.5-3.1-6.7-3.4-7.2-3.1-8.2-2-8.6-0.3-7.1 1-5.5 3-3.1 3.9-3.4 3.5-5.7 1.8-6.9-1-6-2.7-5.3-3.8-4.7-4.5-4.2-5-3.7-5.4-3.2-5.7-2.7-6-2.1-6.2-1.6-6.3-0.8-6.5 0.1-6.3 1-6.3 1.8-6.2 2.3-5.9 2.7-5.8 3.4-5.4 4-5 4.6-4.4 5-3.9 5.4-3.5 5.6-2.9 5.9-2.5 6.2-1.8 6.2-1.3 6.3-0.8 6.4-0.2 7.2 0.4 7 1 6.9 1.9 6.7 2.7 6.2 3.5 5.8 4.2 5.5 4.6 5.1 4.9 4.8 5.4 4.4 5.6 3.8 6 3.1 6.5 2.2 6.8 1.8 6.9 1.2 7.1z"/><use href="#t5_20" fill="none" stroke="#327396" stroke-width="0.58"/>
<path id="t5_21" d="M201.7 99.5l-0.4 5.3-0.9 5.2-1.5 5.1-1.9 4.9-2.5 4.7-3 4.3-3.6 3.9-4.2 3.1-4.6 2.3-5.5 1.3-7.7-1.6-6.6-3.5-6.7-3.7-7.3-3.4-8.3-2.1-8.7-0.4-7.2 1.1-5.5 3.2-2.9 4.2-3.2 3.9-5.8 2-6.9-0.9-6.1-2.6-5.3-3.8-4.7-4.5-4.3-5-3.7-5.4-3.3-5.7-2.6-6-2.2-6.2-1.6-6.3-0.9-6.5 0.1-6.4 1.1-6.3 1.7-6.1 2.3-6 2.8-5.7 3.4-5.4 4-5 4.6-4.4 5.1-3.9 5.4-3.4 5.6-3 5.9-2.4 6.2-1.9 6.2-1.2 6.4-0.8 6.3-0.2 7.2 0.4 7.2 1 6.9 1.9 6.7 2.7 6.2 3.6 5.8 4.2 5.5 4.7 5.2 5 4.8 5.3 4.5 5.7 3.8 6.1 3.1 6.5 2.3 6.8 1.7 7 1.3 7.1z"/><use href="#t5_21" fill="none" stroke="#327396" stroke-width="0.58"/>
<path id="t5_22" d="M199.9 99.2l-0.4 5.3-1 5.1-1.4 5.1-2 4.9-2.4 4.6-3 4.3-3.6 3.8-4.2 3-4.6 2.2-5.6 1.2-7.7-1.9-6.7-3.8-6.8-4-7.3-3.7-8.4-2.3-8.9-0.3-7.2 1.1-5.4 3.4-2.8 4.5-3.1 4.2-5.7 2.3-7-0.8-6.1-2.6-5.4-3.7-4.8-4.5-4.2-5-3.8-5.4-3.3-5.7-2.7-6-2.2-6.2-1.6-6.3-0.9-6.5 0-6.4 1.1-6.3 1.8-6.1 2.3-6 2.8-5.8 3.4-5.4 4-4.9 4.7-4.4 5-3.9 5.4-3.4 5.7-3 5.9-2.4 6.1-1.8 6.3-1.3 6.4-0.7 6.4-0.2 7.2 0.4 7.2 1 7 1.9 6.7 2.8 6.2 3.6 5.9 4.3 5.5 4.6 5.2 5.1 4.9 5.4 4.4 5.7 3.9 6.1 3.1 6.5 2.3 6.9 1.8 7.1 1.2 7.1z"/><use href="#t5_22" fill="none" stroke="#327396" stroke-width="0.58"/>
<path id="t5_23" d="M198.1 99l-0.4 5.2-1 5.1-1.5 5-1.9 4.8-2.4 4.6-3 4.2-3.6 3.7-4.2 3-4.6 2.1-5.6 1-7.9-2.1-6.7-4.1-6.8-4.4-7.4-3.9-8.5-2.4-9-0.4-7.3 1.2-5.4 3.6-2.5 4.8-3 4.5-5.8 2.6-7-0.7-6.2-2.5-5.4-3.7-4.8-4.5-4.3-5-3.8-5.4-3.3-5.7-2.7-6-2.2-6.2-1.7-6.3-1-6.5 0.1-6.4 1-6.3 1.8-6.2 2.4-5.9 2.7-5.8 3.4-5.4 4.1-5 4.7-4.3 5.1-3.9 5.4-3.4 5.7-2.9 5.9-2.4 6.1-1.8 6.3-1.3 6.4-0.7 6.4-0.2 7.3 0.3 7.2 1.1 7 1.9 6.7 2.8 6.3 3.7 5.9 4.3 5.6 4.7 5.2 5.1 4.9 5.4 4.5 5.8 3.9 6.1 3.1 6.6 2.4 6.9 1.7 7.1 1.3 7.2z"/><use href="#t5_23" fill="none" stroke="#327396" stroke-width="0.58"/>
<path id="t5_24" d="M196.2 98.8l-0.4 5.1-1 5.1-1.4 4.9-1.9 4.8-2.5 4.5-2.9 4.2-3.6 3.6-4.2 2.9-4.6 2-5.6 0.9-8-2.4-6.8-4.5-6.8-4.6-7.5-4.2-8.6-2.6-9.1-0.4-7.3 1.2-5.4 3.9-2.4 5.1-2.8 4.8-5.8 2.9-7.2-0.6-6.2-2.5-5.4-3.6-4.8-4.5-4.4-5-3.8-5.4-3.3-5.7-2.8-6-2.2-6.2-1.8-6.3-1-6.6 0.1-6.4 1.1-6.3 1.8-6.1 2.3-6 2.8-5.8 3.4-5.4 4.1-4.9 4.7-4.4 5.1-3.8 5.4-3.4 5.7-2.9 6-2.4 6.1-1.8 6.3-1.2 6.4-0.8 6.4-0.2 7.3 0.4 7.3 1.1 7.1 1.9 6.7 2.9 6.4 3.7 5.9 4.3 5.5 4.8 5.3 5.2 4.9 5.4 4.6 5.8 3.9 6.2 3.2 6.6 2.3 7 1.8 7.1 1.2 7.2z"/><use href="#t5_24" fill="none" stroke="#327396" stroke-width="0.58"/>
<path id="t5_25" d="M194.4 98.5l-0.4 5.1-1 5-1.5 4.9-1.9 4.7-2.4 4.5-2.9 4.1-3.6 3.6-4.2 2.8-4.6 1.9-5.6 0.7-8.2-2.6-6.8-4.8-6.9-5-7.5-4.4-8.7-2.8-9.3-0.5-7.3 1.4-5.4 4.1-2.2 5.4-2.7 5.1-5.7 3.1-7.3-0.4-6.3-2.4-5.4-3.6-4.9-4.5-4.3-5-3.9-5.4-3.4-5.7-2.7-6-2.3-6.2-1.8-6.4-1-6.5 0-6.4 1.1-6.3 1.8-6.2 2.4-5.9 2.8-5.8 3.4-5.4 4.1-4.9 4.7-4.4 5.1-3.8 5.5-3.4 5.7-2.9 5.9-2.3 6.2-1.8 6.3-1.3 6.4-0.7 6.4-0.2 7.4 0.4 7.3 1.1 7.1 1.9 6.8 2.9 6.4 3.8 5.9 4.4 5.6 4.8 5.3 5.2 4.9 5.5 4.6 5.8 4 6.2 3.2 6.7 2.3 7 1.8 7.2 1.3 7.3z"/><use href="#t5_25" fill="none" stroke="#327396" stroke-width="0.58"/>
<path id="t5_26" d="M192.5 98.3l-0.4 5-0.9 5-1.5 4.8-1.9 4.7-2.4 4.4-3 4.1-3.5 3.5-4.2 2.7-4.6 1.8-5.7 0.6-8.2-2.9-6.9-5.2-6.9-5.2-7.7-4.7-8.7-3-9.5-0.5-7.3 1.4-5.3 4.4-2.1 5.7-2.5 5.4-5.8 3.4-7.3-0.3-6.3-2.4-5.6-3.6-4.8-4.5-4.4-5-3.9-5.3-3.4-5.7-2.8-6-2.3-6.2-1.8-6.4-1.1-6.5 0.1-6.4 1-6.4 1.9-6.1 2.3-6 2.8-5.8 3.5-5.4 4.1-4.9 4.7-4.3 5.2-3.8 5.4-3.4 5.7-2.9 6-2.3 6.2-1.8 6.3-1.2 6.4-0.7 6.4-0.2 7.4 0.4 7.4 1.1 7.2 2 6.8 2.9 6.4 3.8 5.9 4.4 5.7 4.9 5.3 5.2 5 5.6 4.6 5.8 4 6.2 3.2 6.8 2.3 7 1.9 7.3 1.3 7.3z"/><use href="#t5_26" fill="none" stroke="#327396" stroke-width="0.58"/>
<path id="t5_27" d="M190.7 98.1l-0.4 5-1 4.8-1.5 4.8-1.9 4.6-2.3 4.4-3 4-3.6 3.4-4.1 2.7-4.6 1.7-5.7 0.4-8.4-3.2-6.9-5.4-7-5.6-7.7-5-8.8-3.1-9.6-0.6-7.5 1.5-5.2 4.6-1.9 6-2.4 5.8-5.7 3.6-7.4-0.1-6.4-2.3-5.6-3.6-4.9-4.5-4.4-5-3.9-5.3-3.4-5.7-2.9-6-2.3-6.2-1.9-6.4-1.1-6.6 0.1-6.4 1-6.3 1.9-6.2 2.4-5.9 2.8-5.8 3.4-5.4 4.2-4.9 4.7-4.3 5.2-3.8 5.5-3.4 5.7-2.9 6-2.3 6.2-1.7 6.3-1.2 6.4-0.7 6.4-0.2 7.5 0.4 7.4 1.1 7.2 2 6.9 2.9 6.4 3.9 6 4.5 5.6 4.9 5.4 5.3 5 5.5 4.6 5.9 4.1 6.3 3.2 6.8 2.4 7.1 1.8 7.2 1.3 7.4z"/><use href="#t5_27" fill="none" stroke="#327396" stroke-width="0.58"/>
<path id="t5_28" d="M188.9 97.9l-0.5 4.9-1 4.8-1.4 4.7-1.9 4.6-2.4 4.3-2.9 4-3.6 3.3-4.1 2.6-4.6 1.5-5.7 0.4-8.5-3.5-7-5.8-7-5.9-7.8-5.3-9-3.3-9.7-0.5-7.5 1.5-5.2 4.8-1.7 6.4-2.2 6.1-5.8 3.9-7.5 0-6.4-2.3-5.6-3.5-4.9-4.5-4.5-5-3.9-5.4-3.5-5.7-2.8-6-2.4-6.2-1.9-6.3-1.1-6.6 0-6.4 1.1-6.4 1.8-6.1 2.4-6 2.8-5.8 3.5-5.4 4.1-4.9 4.8-4.3 5.2-3.8 5.5-3.3 5.7-2.8 6-2.3 6.2-1.8 6.3-1.2 6.4-0.6 6.5-0.2 7.5 0.4 7.5 1.1 7.2 2 7 3 6.4 3.9 6 4.5 5.7 5 5.3 5.3 5.1 5.6 4.7 5.9 4.1 6.3 3.2 6.8 2.4 7.2 1.8 7.3 1.4 7.4z"/><use href="#t5_28" fill="none" stroke="#327396" stroke-width="0.58"/>
<path id="t5_29" d="M187 97.7l-0.4 4.8-1 4.8-1.5 4.6-1.8 4.5-2.4 4.3-2.9 3.9-3.6 3.3-4.1 2.4-4.6 1.5-5.7 0.2-8.7-3.7-7-6.2-7.1-6.2-7.8-5.5-9.1-3.5-9.8-0.6-7.6 1.6-5.1 5-1.6 6.7-2 6.5-5.8 4.1-7.6 0.1-6.5-2.2-5.6-3.5-5-4.5-4.4-4.9-4-5.4-3.5-5.7-2.9-6-2.4-6.2-2-6.4-1.1-6.6 0-6.4 1.1-6.3 1.9-6.2 2.4-5.9 2.8-5.8 3.4-5.4 4.2-4.9 4.8-4.3 5.2-3.8 5.5-3.3 5.8-2.8 6-2.3 6.2-1.7 6.3-1.2 6.4-0.7 6.5-0.1 7.5 0.4 7.5 1.1 7.4 2 6.9 3 6.5 4 6 4.6 5.7 5 5.4 5.3 5.1 5.7 4.8 5.9 4.1 6.4 3.2 6.8 2.4 7.2 1.9 7.4 1.3 7.5z"/><use href="#t5_29" fill="none" stroke="#327396" stroke-width="0.58"/>
<path id="t5_30" d="M185.2 97.4l-0.5 4.8-1 4.8-1.4 4.5-1.9 4.5-2.3 4.2-2.9 3.8-3.6 3.2-4.1 2.4-4.6 1.4-5.8 0-8.8-4-7-6.5-7.1-6.6-7.9-5.7-9.2-3.7-10-0.7-7.6 1.8-5.1 5.2-1.4 7-1.9 6.8-5.8 4.4-7.6 0.3-6.6-2.1-5.7-3.5-5-4.5-4.4-5-4-5.3-3.5-5.7-3-6-2.5-6.2-1.9-6.4-1.2-6.6 0-6.4 1.1-6.4 1.9-6.1 2.4-6 2.8-5.8 3.5-5.4 4.2-4.9 4.8-4.2 5.2-3.8 5.5-3.3 5.8-2.8 6.1-2.3 6.2-1.7 6.3-1.1 6.4-0.7 6.4-0.1 7.7 0.4 7.5 1.1 7.4 2 7 3.1 6.5 4 6.1 4.6 5.7 5.1 5.4 5.4 5.1 5.7 4.8 5.9 4.2 6.4 3.2 6.9 2.4 7.3 1.9 7.4 1.4 7.5z"/><use href="#t5_30" fill="none" stroke="#327396" stroke-width="0.58"/>
<path id="t5_31" d="M183.3 97.2l-0.4 4.8-1 4.6-1.5 4.6-1.8 4.3-2.4 4.2-2.9 3.8-3.5 3.1-4.1 2.3-4.6 1.2-5.8-0.1-8.9-4.3-7.1-6.8-7.2-6.9-8-6.1-9.3-3.8-10.1-0.7-7.6 1.8-5.1 5.5-1.2 7.3-1.7 7.2-5.8 4.7-7.8 0.3-6.6-2-5.7-3.5-5-4.4-4.5-5-4.1-5.4-3.5-5.6-3-6-2.5-6.3-2-6.4-1.2-6.6 0-6.4 1.1-6.3 1.9-6.2 2.4-6 2.9-5.7 3.4-5.5 4.2-4.8 4.9-4.3 5.2-3.7 5.6-3.3 5.8-2.8 6-2.2 6.2-1.7 6.4-1.1 6.4-0.7 6.4-0.2 7.7 0.5 7.6 1.1 7.4 2 7.1 3.1 6.5 4.1 6.1 4.7 5.7 5.1 5.5 5.4 5.1 5.7 4.8 6 4.3 6.5 3.2 6.9 2.4 7.3 1.9 7.5 1.4 7.5z"/><use href="#t5_31" fill="none" stroke="#327396" stroke-width="0.58"/>
<path id="t5_32" d="M181.5 97l-0.5 4.7-1 4.6-1.4 4.5-1.9 4.3-2.3 4.1-2.9 3.7-3.5 3.1-4.2 2.2-4.5 1.1-5.9-0.2-9-4.6-7.2-7.2-7.2-7.3-8-6.3-9.4-4-10.3-0.7-7.7 1.8-5 5.8-1 7.6-1.6 7.5-5.8 5-7.8 0.5-6.7-2-5.7-3.5-5.1-4.4-4.5-5-4.1-5.3-3.5-5.7-3.1-6-2.5-6.2-2-6.4-1.3-6.6 0-6.4 1.1-6.4 1.9-6.1 2.4-6 2.9-5.8 3.5-5.4 4.2-4.9 4.9-4.2 5.2-3.7 5.6-3.3 5.8-2.7 6.1-2.3 6.2-1.6 6.3-1.2 6.4-0.6 6.5-0.2 7.7 0.4 7.7 1.2 7.4 2 7.1 3.2 6.6 4.1 6.1 4.7 5.8 5.2 5.4 5.5 5.2 5.7 4.9 6 4.2 6.5 3.3 7 2.4 7.4 1.9 7.5 1.4 7.6z"/><use href="#t5_32" fill="none" stroke="#327396" stroke-width="0.58"/>
</g>
<g clip-path="url(#h5)" fill="none" stroke-linejoin="round"><use href="#hp5" stroke="#2f8f86" stroke-width="13" opacity="0.22"/><use href="#hp5" stroke="#2c8a8c" stroke-width="7" opacity="0.3"/><use href="#hp5" stroke="#2a7aa0" stroke-width="3.2" opacity="0.45"/></g>
<use href="#hp5" fill="none" stroke="#2060c4" stroke-width="1.25" stroke-linejoin="round"/>
<path d="M151.6 128.1l-9.2-4.9-7.2-7.6-7.2-7.5-8.1-6.7-9.6-4.1-10.4-0.8-7.7 2-5 5.9-0.8 8-1.4 7.8-5.8 5.3-7.9 0.6z" fill="#2a6a96" opacity="0.24"/>
<path d="M151.6 128.1l-9.2-4.9-7.2-7.6-7.2-7.5-8.1-6.7-9.6-4.1-10.4-0.8-7.7 2-5 5.9-0.8 8-1.4 7.8-5.8 5.3-7.9 0.6" fill="none" stroke="#2a7ac8" stroke-width="2.2" opacity="0.8"/>
<defs><path id="s5" d="M179.6 96.8l-0.5 4.6-1 4.6-1.4 4.4-1.8 4.2-2.3 4.1-2.9 3.6-3.5 3-4.2 2.1-4.5 1.1-5.9-0.4-9.2-4.9-7.2-7.6-7.2-7.5-8.1-6.7-9.6-4.1-10.4-0.8-7.7 2-5 5.9-0.8 8-1.4 7.8-5.8 5.3-7.9 0.6-6.8-1.9-5.8-3.4-5-4.4-4.6-5-4.1-5.3-3.6-5.7-3-6-2.6-6.3-2.1-6.4-1.3-6.6 0-6.4 1.1-6.4 1.9-6.1 2.5-6 2.8-5.8 3.5-5.4 4.3-4.8 4.8-4.3 5.3-3.6 5.6-3.3 5.8-2.7 6.1-2.2 6.2-1.7 6.4-1.1 6.4-0.6 6.5-0.2 7.7 0.4 7.7 1.2 7.6 2 7.1 3.2 6.6 4.2 6.1 4.8 5.8 5.2 5.5 5.5 5.2 5.8 4.9 6.1 4.3 6.5 3.3 7 2.5 7.4 1.9 7.6 1.4 7.6z"/><clipPath id="c5"><use href="#s5"/></clipPath></defs>
<use href="#s5" fill="#b0d03c"/>
<g clip-path="url(#c5)">
<use href="#s5" transform="translate(0 0) scale(1.000)" fill="#c4d628"/>
<use href="#s5" transform="translate(1.2 0.9) scale(0.986)" fill="#f3db09"/>
<use href="#s5" transform="translate(2.3 1.7) scale(0.971)" fill="#ffd902"/>
<use href="#s5" transform="translate(3.5 2.6) scale(0.957)" fill="#ffd802"/>
<use href="#s5" transform="translate(4.7 3.4) scale(0.943)" fill="#ffd702"/>
<use href="#s5" transform="translate(5.9 4.3) scale(0.929)" fill="#ffd602"/>
<use href="#s5" transform="translate(8.2 6) scale(0.900)" fill="#ffd502"/>
<use href="#s5" transform="translate(11.7 8.6) scale(0.857)" fill="#ffd402"/>
<use href="#s5" transform="translate(14.1 10.3) scale(0.829)" fill="#ffd302"/>
<use href="#s5" transform="translate(16.4 12) scale(0.800)" fill="#ffd002"/>
<use href="#s5" transform="translate(17.6 12.9) scale(0.786)" fill="#ffca03"/>
<use href="#s5" transform="translate(18.7 13.7) scale(0.771)" fill="#ffc603"/>
<use href="#s5" transform="translate(19.9 14.6) scale(0.757)" fill="#ffc503"/>
<use href="#s5" transform="translate(24.6 18) scale(0.700)" fill="#ffc703"/>
<use href="#s5" transform="translate(25.8 18.9) scale(0.686)" fill="#ffcb04"/>
<use href="#s5" transform="translate(26.9 19.7) scale(0.671)" fill="#ffce04"/>
<use href="#s5" transform="translate(28.1 20.6) scale(0.657)" fill="#ffd004"/>
<use href="#s5" transform="translate(30.5 22.3) scale(0.629)" fill="#ffcf04"/>
<use href="#s5" transform="translate(34 24.9) scale(0.586)" fill="#ffc804"/>
<use href="#s5" transform="translate(35.1 25.7) scale(0.571)" fill="#ffc203"/>
<use href="#s5" transform="translate(36.3 26.6) scale(0.557)" fill="#ffbb03"/>
<use href="#s5" transform="translate(37.5 27.4) scale(0.543)" fill="#ffb803"/>
<use href="#s5" transform="translate(44.5 32.6) scale(0.457)" fill="#ffb903"/>
<use href="#s5" transform="translate(45.7 33.4) scale(0.443)" fill="#ffbf04"/>
<use href="#s5" transform="translate(46.9 34.3) scale(0.429)" fill="#ffc505"/>
<use href="#s5" transform="translate(48 35.1) scale(0.414)" fill="#ffc906"/>
<use href="#s5" transform="translate(50.4 36.9) scale(0.386)" fill="#ffc806"/>
<use href="#s5" transform="translate(53.9 39.4) scale(0.343)" fill="#ffc706"/>
<use href="#s5" transform="translate(56.2 41.1) scale(0.314)" fill="#ffc305"/>
<use href="#s5" transform="translate(57.4 42) scale(0.300)" fill="#ffb704"/>
<use href="#s5" transform="translate(58.6 42.9) scale(0.286)" fill="#ffac02"/>
</g>
<path d="M59.2 57.6C58.5 55.9 61 51.8 63.2 49.6C65.4 47.4 69 45.6 72.2 44.6C75.4 43.6 79 43.1 82.2 43.6C85.4 44.1 88.5 45.4 91.2 47.6C93.9 49.8 96.4 53.3 98.2 56.6C99.9 59.9 100.5 64.6 101.7 67.6C102.9 70.6 103.4 72.7 105.2 74.6C106.9 76.5 112.4 78 112.2 79.1C112 80.2 107.2 80.9 104.2 81.1C101.2 81.3 97.2 81 94.2 80.1C91.2 79.2 88.5 77.9 86.2 75.6C83.9 73.4 82 69.2 80.2 66.6C78.4 64 77.4 61.2 75.2 60.1C73 59 69.9 60.5 67.2 60.1C64.5 59.7 59.9 59.4 59.2 57.6z" fill="#ffa400"/>
<path d="M74.2 50.1C74.4 49.4 78.9 48.4 81.2 48.6C83.5 48.9 86.1 49.9 88.2 51.6C90.3 53.3 92.4 56.1 93.7 58.6C95 61.1 95.7 64.1 96.2 66.6C96.7 69.1 97.4 72.9 96.7 73.6C96 74.4 93.6 72.5 92.2 71.1C90.8 69.7 89.4 67.3 88.2 65.1C87 62.9 86.5 60.2 85.2 58.1C83.9 56 82 53.9 80.2 52.6C78.4 51.3 74 50.8 74.2 50.1z" fill="#ffc414"/>
<path d="M61 57.1C60 56.7 61.7 53 63.4 51.4C65 49.7 68.3 48.1 70.9 47.2C73.5 46.3 76.7 45.8 79.2 46C81.7 46.2 85.1 47 85.7 48.2C86.3 49.4 84.1 52 82.7 53.1C81.3 54.2 79.4 54.5 77.2 54.6C74.9 54.7 71.9 53.2 69.2 53.6C66.5 54 62 57.5 61 57.1z" fill="#b4300c" opacity="0.82"/>
<path d="M61 55C62 53.8 65.5 51.6 68.4 51.1C71.3 50.6 75.6 50.8 78.4 52.1C81.1 53.3 83.4 56.2 85.1 58.5C86.8 60.8 87.3 63.7 88.5 65.8C89.8 67.9 90.9 69.7 92.6 71.3C94.2 72.8 97.5 74.1 98.4 75.1C99.3 76 99.3 76.8 97.8 76.9C96.3 77.1 91.9 77.2 89.4 75.9C87 74.7 84.6 71.8 82.9 69.6C81.2 67.4 80.5 64.5 79.3 62.7C78 60.9 77 59.5 75.2 58.5C73.5 57.6 71 57.2 68.8 57.1C66.6 57 63.3 58.4 62 58C60.7 57.7 59.9 56.1 61 55z" fill="#9c1410"/>
<path d="M63.8 51.1C65 50.4 68.3 47.9 70.9 47C73.5 46.1 76.4 45.6 79.2 45.8C82 46 85 46.7 87.5 48.2C90 49.7 92.2 52 94 54.7C95.8 57.4 97.1 61.1 98.1 64.2C99.1 67.4 99.6 72 99.9 73.6" fill="none" stroke="#a81c0e" stroke-width="1.5" stroke-dasharray="3.2 0.7"/>
<path d="M60.7 61.1C61.6 60.6 64.1 58.5 66.2 58.1C68.3 57.7 71.2 57.7 73.2 58.6C75.2 59.5 77.4 62.8 78.2 63.6" fill="none" stroke="#d0480a" stroke-width="1.2" stroke-dasharray="1.6 0.9"/>
<path d="M89.7 50.1C90.5 51.1 93.4 53.8 94.8 56.1C96.2 58.5 97.3 61.8 98.1 64.2C98.9 66.6 99.5 68.6 99.6 70.6C99.7 72.6 98.8 75.2 98.7 76.1" fill="none" stroke="#9c1410" stroke-width="2.4" stroke-linecap="round"/>
<path d="M92.2 74.6C92.9 73.8 97.9 73.8 100.2 74.1C102.5 74.4 104.3 75.8 106.2 76.6C108.1 77.5 112 78.5 111.7 79.2C111.4 79.9 106.8 80.6 104.2 80.6C101.6 80.6 98.2 80.1 96.2 79.1C94.2 78.1 91.5 75.4 92.2 74.6z" fill="#f06c04"/>
<rect x="0" y="0" width="246.8" height="246.8" fill="none" stroke="#a4a4a4" stroke-width="0.85"/>
</g>
<text x="294.5" y="556.8" font-family="'Liberation Serif',serif" font-size="10.6" letter-spacing="0.3" fill="#141414">5D Downstream</text>
<g font-family="'Liberation Sans',sans-serif" font-size="9" fill="#2e2e2e">
<text x="290" y="795.6" text-anchor="end">0</text>
<text x="290" y="750.7" text-anchor="end">10</text>
<text x="290" y="705.9" text-anchor="end">20</text>
<text x="290" y="661" text-anchor="end">30</text>
<text x="290" y="616.1" text-anchor="end">40</text>
<text x="290" y="571.2" text-anchor="end">50</text>
<text x="291.8" y="802.4" text-anchor="middle">-40</text>
<text x="359.1" y="802.4" text-anchor="middle">-25</text>
<text x="426.4" y="802.4" text-anchor="middle">-10</text>
<text x="493.7" y="802.4" text-anchor="middle">5</text>
<text x="538.6" y="802.4" text-anchor="middle">15</text>
<text x="410.3" y="803.8" text-anchor="middle">[m]</text>
<text transform="translate(282.2 673.2) rotate(-90)" text-anchor="middle">[m]</text>
</g>
</svg>
</body></html>
